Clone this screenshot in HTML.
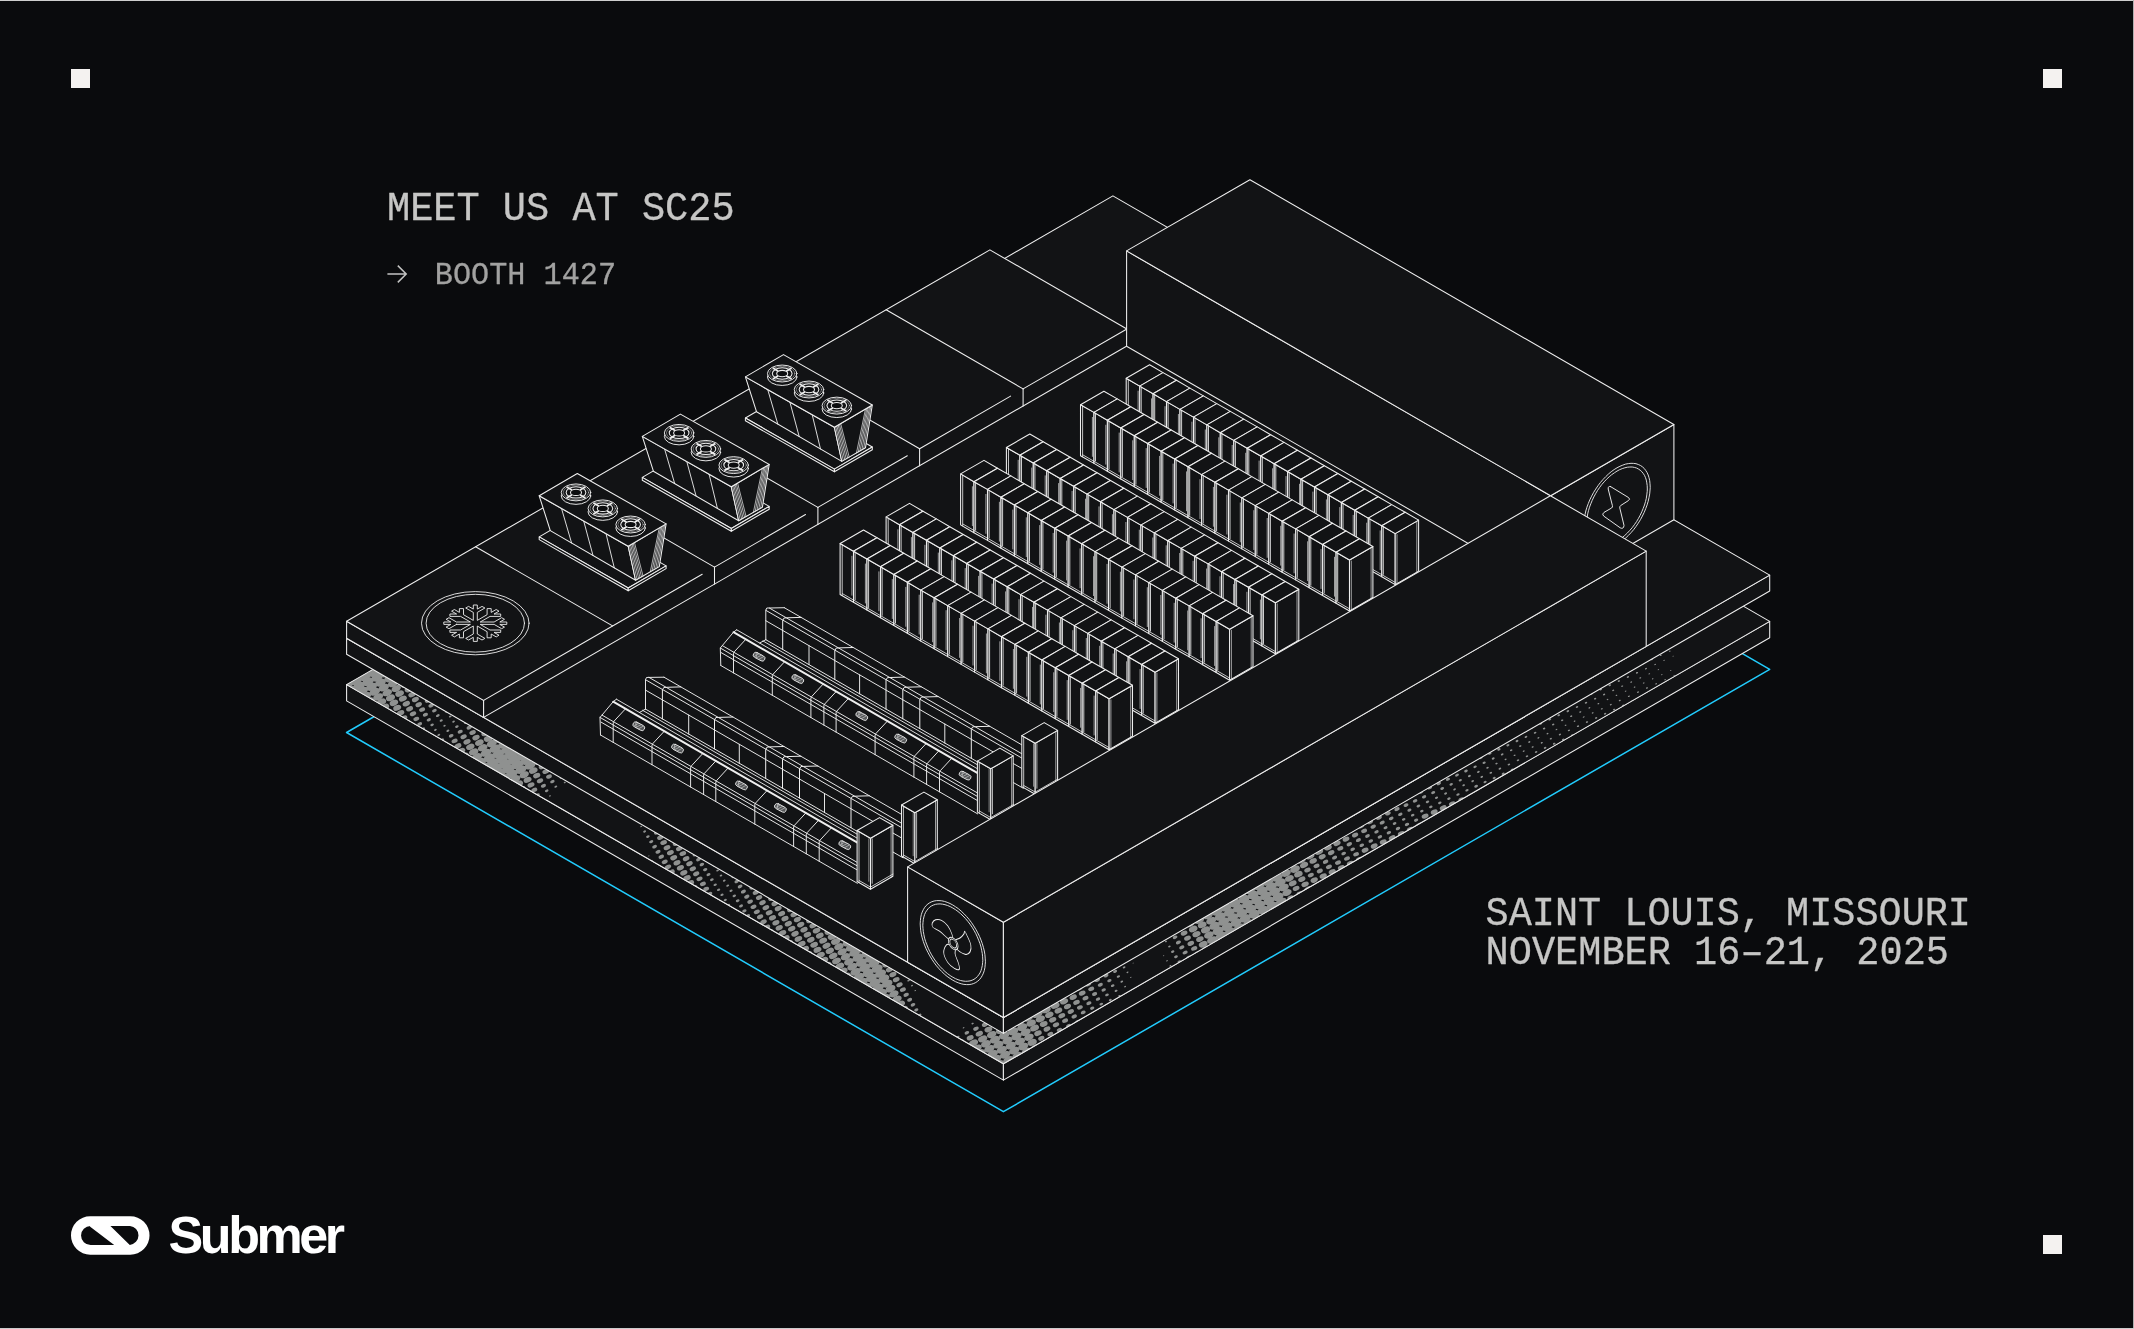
<!DOCTYPE html>
<html><head><meta charset="utf-8"><title>Submer at SC25</title>
<style>
html,body{margin:0;padding:0;background:#0a0b0d;}
body{width:2134px;height:1329px;overflow:hidden;position:relative;font-family:"Liberation Mono",monospace;}
.sq{position:absolute;width:19px;height:19px;background:#f4f2f0;}
svg{position:absolute;left:0;top:0;}
.edge{position:absolute;background:#cfcfcf;}
</style></head><body>
<div class="edge" style="left:0;top:0;width:2134px;height:1.4px;"></div>
<div class="edge" style="right:0;top:0;width:1px;height:1329px;background:#b0b0b0"></div>
<div class="edge" style="left:0;bottom:0;width:2134px;height:1px;background:#cdcdcd"></div>
<div class="sq" style="left:71px;top:69px"></div>
<div class="sq" style="left:2043px;top:69px"></div>
<div class="sq" style="left:2043px;top:1235px"></div>
<svg width="2134" height="1329" viewBox="0 0 2134 1329" stroke-linejoin="round" stroke-linecap="round">
<polygon points="346.6,732.5 1003.4,1111.7 1769.7,669.3 1112.9,290.1" fill="none" stroke="#22ccfd" stroke-width="1.5"/>
<polygon points="346.6,684.6 1003.4,1063.8 1003.4,1080.1 346.6,700.9" fill="#121315" stroke="#efefef" stroke-width="1.05"/>
<polygon points="1003.4,1063.8 1769.7,621.4 1769.7,637.7 1003.4,1080.1" fill="#121315" stroke="#efefef" stroke-width="1.05"/>
<polygon points="346.6,684.6 1112.9,242.2 1769.7,621.4 1003.4,1063.8" fill="#121315" stroke="none" stroke-width="1.05"/>
<clipPath id="cpl"><polygon points="346.6,684.6 1112.9,242.2 1769.7,621.4 1003.4,1063.8"/></clipPath>
<g clip-path="url(#cpl)" fill="#8f9190"><ellipse cx="348" cy="651.4" rx="6.52" ry="4.26" transform="rotate(-23 348 651.4)"/><ellipse cx="342.3" cy="660.6" rx="6.52" ry="4.26" transform="rotate(-23 342.3 660.6)"/><ellipse cx="351.4" cy="656.5" rx="6.52" ry="4.26" transform="rotate(-23 351.4 656.5)"/><ellipse cx="345.7" cy="665.6" rx="6.52" ry="4.26" transform="rotate(-23 345.7 665.6)"/><ellipse cx="354.7" cy="661.5" rx="6.52" ry="4.26" transform="rotate(-23 354.7 661.5)"/><ellipse cx="349" cy="670.7" rx="6.46" ry="4.23" transform="rotate(-23 349 670.7)"/><ellipse cx="358.1" cy="666.6" rx="6.41" ry="4.19" transform="rotate(-23 358.1 666.6)"/><ellipse cx="367.1" cy="662.4" rx="6.35" ry="4.15" transform="rotate(-23 367.1 662.4)"/><ellipse cx="343.3" cy="679.9" rx="6.39" ry="4.18" transform="rotate(-23 343.3 679.9)"/><ellipse cx="352.4" cy="675.8" rx="6.33" ry="4.14" transform="rotate(-23 352.4 675.8)"/><ellipse cx="361.4" cy="671.6" rx="6.28" ry="4.11" transform="rotate(-23 361.4 671.6)"/><ellipse cx="370.4" cy="667.4" rx="6.23" ry="4.07" transform="rotate(-23 370.4 667.4)"/><ellipse cx="346.6" cy="685" rx="6.26" ry="4.09" transform="rotate(-23 346.6 685)"/><ellipse cx="355.7" cy="680.8" rx="6.21" ry="4.06" transform="rotate(-23 355.7 680.8)"/><ellipse cx="364.8" cy="676.7" rx="6.15" ry="4.02" transform="rotate(-23 364.8 676.7)"/><ellipse cx="373.8" cy="672.5" rx="6.10" ry="3.99" transform="rotate(-23 373.8 672.5)"/><ellipse cx="350" cy="690" rx="6.13" ry="4.01" transform="rotate(-23 350 690)"/><ellipse cx="359.1" cy="685.9" rx="6.07" ry="3.97" transform="rotate(-23 359.1 685.9)"/><ellipse cx="368.1" cy="681.7" rx="5.97" ry="3.91" transform="rotate(-23 368.1 681.7)"/><ellipse cx="377.1" cy="677.5" rx="5.87" ry="3.84" transform="rotate(-23 377.1 677.5)"/><ellipse cx="386.2" cy="673.4" rx="5.77" ry="3.77" transform="rotate(-23 386.2 673.4)"/><ellipse cx="362.4" cy="690.9" rx="5.84" ry="3.82" transform="rotate(-23 362.4 690.9)"/><ellipse cx="371.5" cy="686.8" rx="5.74" ry="3.75" transform="rotate(-23 371.5 686.8)"/><ellipse cx="380.5" cy="682.6" rx="5.64" ry="3.69" transform="rotate(-23 380.5 682.6)"/><ellipse cx="389.6" cy="678.4" rx="5.54" ry="3.62" transform="rotate(-23 389.6 678.4)"/><ellipse cx="365.8" cy="696" rx="5.60" ry="3.66" transform="rotate(-23 365.8 696)"/><ellipse cx="374.8" cy="691.8" rx="5.50" ry="3.60" transform="rotate(-23 374.8 691.8)"/><ellipse cx="383.8" cy="687.6" rx="5.40" ry="3.53" transform="rotate(-23 383.8 687.6)"/><ellipse cx="392.9" cy="683.5" rx="5.29" ry="3.46" transform="rotate(-23 392.9 683.5)"/><ellipse cx="369.1" cy="701" rx="5.37" ry="3.51" transform="rotate(-23 369.1 701)"/><ellipse cx="378.2" cy="696.9" rx="5.23" ry="3.42" transform="rotate(-23 378.2 696.9)"/><ellipse cx="387.2" cy="692.7" rx="5.07" ry="3.32" transform="rotate(-23 387.2 692.7)"/><ellipse cx="396.2" cy="688.5" rx="4.91" ry="3.21" transform="rotate(-23 396.2 688.5)"/><ellipse cx="405.3" cy="684.4" rx="4.75" ry="3.11" transform="rotate(-23 405.3 684.4)"/><ellipse cx="381.5" cy="701.9" rx="4.86" ry="3.18" transform="rotate(-23 381.5 701.9)"/><ellipse cx="390.5" cy="697.8" rx="4.70" ry="3.07" transform="rotate(-23 390.5 697.8)"/><ellipse cx="399.6" cy="693.6" rx="4.54" ry="2.97" transform="rotate(-23 399.6 693.6)"/><ellipse cx="408.6" cy="689.5" rx="4.06" ry="2.66" transform="rotate(-23 408.6 689.5)"/><ellipse cx="384.9" cy="707" rx="4.48" ry="2.93" transform="rotate(-23 384.9 707)"/><ellipse cx="393.9" cy="702.8" rx="4.46" ry="2.92" transform="rotate(-23 393.9 702.8)"/><ellipse cx="402.9" cy="698.6" rx="4.12" ry="2.70" transform="rotate(-23 402.9 698.6)"/><ellipse cx="412" cy="694.5" rx="3.83" ry="2.50" transform="rotate(-23 412 694.5)"/><ellipse cx="388.2" cy="712" rx="4.43" ry="2.89" transform="rotate(-23 388.2 712)"/><ellipse cx="397.2" cy="707.8" rx="4.15" ry="2.72" transform="rotate(-23 397.2 707.8)"/><ellipse cx="406.3" cy="703.7" rx="3.85" ry="2.52" transform="rotate(-23 406.3 703.7)"/><ellipse cx="415.4" cy="699.5" rx="3.63" ry="2.37" transform="rotate(-23 415.4 699.5)"/><ellipse cx="424.4" cy="695.4" rx="3.44" ry="2.25" transform="rotate(-23 424.4 695.4)"/><ellipse cx="400.6" cy="712.9" rx="3.85" ry="2.52" transform="rotate(-23 400.6 712.9)"/><ellipse cx="409.6" cy="708.8" rx="3.62" ry="2.36" transform="rotate(-23 409.6 708.8)"/><ellipse cx="418.7" cy="704.6" rx="3.38" ry="2.21" transform="rotate(-23 418.7 704.6)"/><ellipse cx="427.8" cy="700.5" rx="3.15" ry="2.06" transform="rotate(-23 427.8 700.5)"/><ellipse cx="403.9" cy="717.9" rx="3.57" ry="2.33" transform="rotate(-23 403.9 717.9)"/><ellipse cx="413" cy="713.8" rx="3.34" ry="2.18" transform="rotate(-23 413 713.8)"/><ellipse cx="422.1" cy="709.6" rx="3.10" ry="2.02" transform="rotate(-23 422.1 709.6)"/><ellipse cx="431.1" cy="705.5" rx="2.85" ry="1.86" transform="rotate(-23 431.1 705.5)"/><ellipse cx="407.3" cy="723" rx="3.23" ry="2.11" transform="rotate(-23 407.3 723)"/><ellipse cx="416.3" cy="718.9" rx="3.00" ry="1.96" transform="rotate(-23 416.3 718.9)"/><ellipse cx="425.4" cy="714.7" rx="2.72" ry="1.78" transform="rotate(-23 425.4 714.7)"/><ellipse cx="434.4" cy="710.6" rx="2.43" ry="1.59" transform="rotate(-23 434.4 710.6)"/><ellipse cx="443.5" cy="706.4" rx="2.16" ry="1.42" transform="rotate(-23 443.5 706.4)"/><ellipse cx="419.7" cy="723.9" rx="2.53" ry="1.65" transform="rotate(-23 419.7 723.9)"/><ellipse cx="428.8" cy="719.8" rx="2.22" ry="1.45" transform="rotate(-23 428.8 719.8)"/><ellipse cx="437.8" cy="715.6" rx="1.99" ry="1.30" transform="rotate(-23 437.8 715.6)"/><ellipse cx="446.9" cy="711.5" rx="1.78" ry="1.16" transform="rotate(-23 446.9 711.5)"/><ellipse cx="423.1" cy="728.9" rx="2.07" ry="1.35" transform="rotate(-23 423.1 728.9)"/><ellipse cx="432.1" cy="724.8" rx="1.85" ry="1.21" transform="rotate(-23 432.1 724.8)"/><ellipse cx="441.2" cy="720.6" rx="1.63" ry="1.06" transform="rotate(-23 441.2 720.6)"/><ellipse cx="450.2" cy="716.5" rx="1.39" ry="0.91" transform="rotate(-23 450.2 716.5)"/><ellipse cx="426.4" cy="734" rx="1.66" ry="1.08" transform="rotate(-23 426.4 734)"/><ellipse cx="435.4" cy="729.9" rx="1.42" ry="0.93" transform="rotate(-23 435.4 729.9)"/><ellipse cx="444.5" cy="725.7" rx="1.28" ry="0.84" transform="rotate(-23 444.5 725.7)"/><ellipse cx="453.6" cy="721.6" rx="1.35" ry="0.89" transform="rotate(-23 453.6 721.6)"/><ellipse cx="462.6" cy="717.4" rx="1.43" ry="0.93" transform="rotate(-23 462.6 717.4)"/><ellipse cx="438.8" cy="734.9" rx="1.49" ry="0.98" transform="rotate(-23 438.8 734.9)"/><ellipse cx="447.9" cy="730.8" rx="1.55" ry="1.02" transform="rotate(-23 447.9 730.8)"/><ellipse cx="456.9" cy="726.6" rx="1.88" ry="1.23" transform="rotate(-23 456.9 726.6)"/><ellipse cx="466" cy="722.4" rx="2.18" ry="1.42" transform="rotate(-23 466 722.4)"/><ellipse cx="442.1" cy="740" rx="2.16" ry="1.41" transform="rotate(-23 442.1 740)"/><ellipse cx="451.2" cy="735.8" rx="2.46" ry="1.61" transform="rotate(-23 451.2 735.8)"/><ellipse cx="460.2" cy="731.7" rx="2.69" ry="1.76" transform="rotate(-23 460.2 731.7)"/><ellipse cx="469.3" cy="727.5" rx="2.88" ry="1.88" transform="rotate(-23 469.3 727.5)"/><ellipse cx="445.5" cy="745" rx="2.96" ry="1.93" transform="rotate(-23 445.5 745)"/><ellipse cx="454.6" cy="740.9" rx="3.17" ry="2.07" transform="rotate(-23 454.6 740.9)"/><ellipse cx="463.6" cy="736.7" rx="3.28" ry="2.15" transform="rotate(-23 463.6 736.7)"/><ellipse cx="472.6" cy="732.5" rx="3.37" ry="2.20" transform="rotate(-23 472.6 732.5)"/><ellipse cx="481.7" cy="728.4" rx="3.47" ry="2.27" transform="rotate(-23 481.7 728.4)"/><ellipse cx="457.9" cy="745.9" rx="3.68" ry="2.41" transform="rotate(-23 457.9 745.9)"/><ellipse cx="467" cy="741.8" rx="3.76" ry="2.46" transform="rotate(-23 467 741.8)"/><ellipse cx="476" cy="737.6" rx="3.82" ry="2.50" transform="rotate(-23 476 737.6)"/><ellipse cx="485.1" cy="733.4" rx="3.87" ry="2.53" transform="rotate(-23 485.1 733.4)"/><ellipse cx="461.2" cy="751" rx="4.26" ry="2.79" transform="rotate(-23 461.2 751)"/><ellipse cx="470.3" cy="746.8" rx="4.37" ry="2.86" transform="rotate(-23 470.3 746.8)"/><ellipse cx="479.4" cy="742.6" rx="4.50" ry="2.94" transform="rotate(-23 479.4 742.6)"/><ellipse cx="488.4" cy="738.5" rx="4.76" ry="3.11" transform="rotate(-23 488.4 738.5)"/><ellipse cx="464.6" cy="756" rx="4.59" ry="3.00" transform="rotate(-23 464.6 756)"/><ellipse cx="473.7" cy="751.9" rx="4.85" ry="3.17" transform="rotate(-23 473.7 751.9)"/><ellipse cx="482.7" cy="747.7" rx="5.09" ry="3.33" transform="rotate(-23 482.7 747.7)"/><ellipse cx="491.8" cy="743.5" rx="5.30" ry="3.47" transform="rotate(-23 491.8 743.5)"/><ellipse cx="500.8" cy="739.4" rx="5.51" ry="3.60" transform="rotate(-23 500.8 739.4)"/><ellipse cx="477" cy="756.9" rx="5.37" ry="3.51" transform="rotate(-23 477 756.9)"/><ellipse cx="486" cy="752.8" rx="5.59" ry="3.65" transform="rotate(-23 486 752.8)"/><ellipse cx="495.1" cy="748.6" rx="5.80" ry="3.79" transform="rotate(-23 495.1 748.6)"/><ellipse cx="504.1" cy="744.5" rx="5.99" ry="3.92" transform="rotate(-23 504.1 744.5)"/><ellipse cx="480.4" cy="762" rx="5.87" ry="3.84" transform="rotate(-23 480.4 762)"/><ellipse cx="489.4" cy="757.8" rx="6.02" ry="3.94" transform="rotate(-23 489.4 757.8)"/><ellipse cx="498.4" cy="753.6" rx="6.12" ry="4.00" transform="rotate(-23 498.4 753.6)"/><ellipse cx="507.5" cy="749.5" rx="6.22" ry="4.07" transform="rotate(-23 507.5 749.5)"/><ellipse cx="483.7" cy="767" rx="6.16" ry="4.02" transform="rotate(-23 483.7 767)"/><ellipse cx="492.8" cy="762.8" rx="6.25" ry="4.09" transform="rotate(-23 492.8 762.8)"/><ellipse cx="501.8" cy="758.7" rx="6.35" ry="4.15" transform="rotate(-23 501.8 758.7)"/><ellipse cx="510.9" cy="754.5" rx="6.45" ry="4.22" transform="rotate(-23 510.9 754.5)"/><ellipse cx="519.9" cy="750.4" rx="6.47" ry="4.23" transform="rotate(-23 519.9 750.4)"/><ellipse cx="496.1" cy="767.9" rx="6.47" ry="4.23" transform="rotate(-23 496.1 767.9)"/><ellipse cx="505.1" cy="763.8" rx="6.47" ry="4.23" transform="rotate(-23 505.1 763.8)"/><ellipse cx="514.2" cy="759.6" rx="6.47" ry="4.23" transform="rotate(-23 514.2 759.6)"/><ellipse cx="523.2" cy="755.5" rx="6.47" ry="4.23" transform="rotate(-23 523.2 755.5)"/><ellipse cx="499.5" cy="772.9" rx="6.47" ry="4.23" transform="rotate(-23 499.5 772.9)"/><ellipse cx="508.5" cy="768.8" rx="6.44" ry="4.21" transform="rotate(-23 508.5 768.8)"/><ellipse cx="517.5" cy="764.6" rx="6.27" ry="4.10" transform="rotate(-23 517.5 764.6)"/><ellipse cx="526.6" cy="760.5" rx="6.10" ry="3.99" transform="rotate(-23 526.6 760.5)"/><ellipse cx="502.8" cy="778" rx="6.21" ry="4.06" transform="rotate(-23 502.8 778)"/><ellipse cx="511.8" cy="773.9" rx="6.04" ry="3.95" transform="rotate(-23 511.8 773.9)"/><ellipse cx="520.9" cy="769.7" rx="5.87" ry="3.84" transform="rotate(-23 520.9 769.7)"/><ellipse cx="530" cy="765.6" rx="5.52" ry="3.61" transform="rotate(-23 530 765.6)"/><ellipse cx="539" cy="761.4" rx="5.08" ry="3.32" transform="rotate(-23 539 761.4)"/><ellipse cx="515.2" cy="778.9" rx="5.37" ry="3.51" transform="rotate(-23 515.2 778.9)"/><ellipse cx="524.2" cy="774.8" rx="4.94" ry="3.23" transform="rotate(-23 524.2 774.8)"/><ellipse cx="533.3" cy="770.6" rx="4.50" ry="2.94" transform="rotate(-23 533.3 770.6)"/><ellipse cx="542.4" cy="766.5" rx="3.84" ry="2.51" transform="rotate(-23 542.4 766.5)"/><ellipse cx="518.6" cy="783.9" rx="4.67" ry="3.06" transform="rotate(-23 518.6 783.9)"/><ellipse cx="527.6" cy="779.8" rx="4.14" ry="2.70" transform="rotate(-23 527.6 779.8)"/><ellipse cx="536.7" cy="775.6" rx="3.76" ry="2.46" transform="rotate(-23 536.7 775.6)"/><ellipse cx="545.7" cy="771.5" rx="3.46" ry="2.26" transform="rotate(-23 545.7 771.5)"/><ellipse cx="521.9" cy="789" rx="3.92" ry="2.57" transform="rotate(-23 521.9 789)"/><ellipse cx="531" cy="784.9" rx="3.64" ry="2.38" transform="rotate(-23 531 784.9)"/><ellipse cx="540" cy="780.7" rx="3.32" ry="2.17" transform="rotate(-23 540 780.7)"/><ellipse cx="549" cy="776.6" rx="2.98" ry="1.95" transform="rotate(-23 549 776.6)"/><ellipse cx="558.1" cy="772.4" rx="2.65" ry="1.73" transform="rotate(-23 558.1 772.4)"/><ellipse cx="534.3" cy="789.9" rx="3.10" ry="2.03" transform="rotate(-23 534.3 789.9)"/><ellipse cx="543.4" cy="785.8" rx="2.71" ry="1.77" transform="rotate(-23 543.4 785.8)"/><ellipse cx="552.4" cy="781.6" rx="2.31" ry="1.51" transform="rotate(-23 552.4 781.6)"/><ellipse cx="561.5" cy="777.4" rx="1.87" ry="1.23" transform="rotate(-23 561.5 777.4)"/><ellipse cx="537.6" cy="795" rx="2.34" ry="1.53" transform="rotate(-23 537.6 795)"/><ellipse cx="546.7" cy="790.8" rx="1.89" ry="1.24" transform="rotate(-23 546.7 790.8)"/><ellipse cx="555.8" cy="786.7" rx="1.52" ry="0.99" transform="rotate(-23 555.8 786.7)"/><ellipse cx="564.8" cy="782.5" rx="1.08" ry="0.71" transform="rotate(-23 564.8 782.5)"/><ellipse cx="541" cy="800" rx="1.48" ry="0.97" transform="rotate(-23 541 800)"/><ellipse cx="550" cy="795.9" rx="0.98" ry="0.64" transform="rotate(-23 550 795.9)"/><ellipse cx="637.9" cy="821.5" rx="0.78" ry="0.51" transform="rotate(-23 637.9 821.5)"/><ellipse cx="641.2" cy="826.5" rx="1.03" ry="0.67" transform="rotate(-23 641.2 826.5)"/><ellipse cx="644.6" cy="831.5" rx="1.50" ry="0.98" transform="rotate(-23 644.6 831.5)"/><ellipse cx="653.6" cy="827.4" rx="3.00" ry="1.96" transform="rotate(-23 653.6 827.4)"/><ellipse cx="647.9" cy="836.6" rx="1.87" ry="1.22" transform="rotate(-23 647.9 836.6)"/><ellipse cx="657" cy="832.4" rx="3.15" ry="2.06" transform="rotate(-23 657 832.4)"/><ellipse cx="651.2" cy="841.7" rx="2.19" ry="1.43" transform="rotate(-23 651.2 841.7)"/><ellipse cx="660.3" cy="837.5" rx="3.32" ry="2.17" transform="rotate(-23 660.3 837.5)"/><ellipse cx="654.6" cy="846.7" rx="2.48" ry="1.62" transform="rotate(-23 654.6 846.7)"/><ellipse cx="663.6" cy="842.5" rx="3.46" ry="2.26" transform="rotate(-23 663.6 842.5)"/><ellipse cx="672.7" cy="838.4" rx="3.49" ry="2.28" transform="rotate(-23 672.7 838.4)"/><ellipse cx="648.9" cy="855.9" rx="0.67" ry="0.44" transform="rotate(-23 648.9 855.9)"/><ellipse cx="658" cy="851.8" rx="2.70" ry="1.76" transform="rotate(-23 658 851.8)"/><ellipse cx="667" cy="847.6" rx="3.52" ry="2.30" transform="rotate(-23 667 847.6)"/><ellipse cx="676.1" cy="843.4" rx="3.50" ry="2.29" transform="rotate(-23 676.1 843.4)"/><ellipse cx="652.2" cy="861" rx="0.89" ry="0.58" transform="rotate(-23 652.2 861)"/><ellipse cx="661.3" cy="856.8" rx="2.91" ry="1.90" transform="rotate(-23 661.3 856.8)"/><ellipse cx="670.4" cy="852.6" rx="3.57" ry="2.33" transform="rotate(-23 670.4 852.6)"/><ellipse cx="679.4" cy="848.5" rx="3.52" ry="2.30" transform="rotate(-23 679.4 848.5)"/><ellipse cx="655.6" cy="866" rx="1.21" ry="0.79" transform="rotate(-23 655.6 866)"/><ellipse cx="664.7" cy="861.8" rx="3.11" ry="2.03" transform="rotate(-23 664.7 861.8)"/><ellipse cx="673.7" cy="857.7" rx="3.62" ry="2.37" transform="rotate(-23 673.7 857.7)"/><ellipse cx="682.8" cy="853.5" rx="3.47" ry="2.27" transform="rotate(-23 682.8 853.5)"/><ellipse cx="691.8" cy="849.4" rx="2.75" ry="1.80" transform="rotate(-23 691.8 849.4)"/><ellipse cx="659" cy="871.1" rx="1.68" ry="1.10" transform="rotate(-23 659 871.1)"/><ellipse cx="668" cy="866.9" rx="3.31" ry="2.16" transform="rotate(-23 668 866.9)"/><ellipse cx="677" cy="862.8" rx="3.67" ry="2.40" transform="rotate(-23 677 862.8)"/><ellipse cx="686.1" cy="858.6" rx="3.42" ry="2.24" transform="rotate(-23 686.1 858.6)"/><ellipse cx="695.1" cy="854.5" rx="2.61" ry="1.71" transform="rotate(-23 695.1 854.5)"/><ellipse cx="671.4" cy="872" rx="3.50" ry="2.29" transform="rotate(-23 671.4 872)"/><ellipse cx="680.4" cy="867.8" rx="3.72" ry="2.43" transform="rotate(-23 680.4 867.8)"/><ellipse cx="689.5" cy="863.6" rx="3.37" ry="2.20" transform="rotate(-23 689.5 863.6)"/><ellipse cx="698.5" cy="859.5" rx="2.50" ry="1.63" transform="rotate(-23 698.5 859.5)"/><ellipse cx="674.7" cy="877" rx="3.65" ry="2.39" transform="rotate(-23 674.7 877)"/><ellipse cx="683.8" cy="872.8" rx="3.77" ry="2.46" transform="rotate(-23 683.8 872.8)"/><ellipse cx="692.8" cy="868.7" rx="3.31" ry="2.16" transform="rotate(-23 692.8 868.7)"/><ellipse cx="701.9" cy="864.5" rx="2.38" ry="1.55" transform="rotate(-23 701.9 864.5)"/><ellipse cx="710.9" cy="860.4" rx="1.50" ry="0.98" transform="rotate(-23 710.9 860.4)"/><ellipse cx="678.1" cy="882" rx="3.75" ry="2.45" transform="rotate(-23 678.1 882)"/><ellipse cx="687.1" cy="877.9" rx="3.82" ry="2.50" transform="rotate(-23 687.1 877.9)"/><ellipse cx="696.2" cy="873.7" rx="3.24" ry="2.12" transform="rotate(-23 696.2 873.7)"/><ellipse cx="705.2" cy="869.6" rx="2.24" ry="1.46" transform="rotate(-23 705.2 869.6)"/><ellipse cx="714.2" cy="865.4" rx="1.44" ry="0.94" transform="rotate(-23 714.2 865.4)"/><ellipse cx="690.4" cy="882.9" rx="3.87" ry="2.53" transform="rotate(-23 690.4 882.9)"/><ellipse cx="699.5" cy="878.8" rx="3.17" ry="2.08" transform="rotate(-23 699.5 878.8)"/><ellipse cx="708.5" cy="874.6" rx="2.09" ry="1.36" transform="rotate(-23 708.5 874.6)"/><ellipse cx="717.6" cy="870.5" rx="1.40" ry="0.91" transform="rotate(-23 717.6 870.5)"/><ellipse cx="693.8" cy="888" rx="3.84" ry="2.51" transform="rotate(-23 693.8 888)"/><ellipse cx="702.9" cy="883.9" rx="3.10" ry="2.02" transform="rotate(-23 702.9 883.9)"/><ellipse cx="711.9" cy="879.7" rx="1.91" ry="1.25" transform="rotate(-23 711.9 879.7)"/><ellipse cx="721" cy="875.6" rx="1.35" ry="0.88" transform="rotate(-23 721 875.6)"/><ellipse cx="730" cy="871.4" rx="2.03" ry="1.33" transform="rotate(-23 730 871.4)"/><ellipse cx="697.1" cy="893" rx="3.75" ry="2.45" transform="rotate(-23 697.1 893)"/><ellipse cx="706.2" cy="888.9" rx="2.99" ry="1.95" transform="rotate(-23 706.2 888.9)"/><ellipse cx="715.2" cy="884.8" rx="1.75" ry="1.14" transform="rotate(-23 715.2 884.8)"/><ellipse cx="724.3" cy="880.6" rx="1.38" ry="0.90" transform="rotate(-23 724.3 880.6)"/><ellipse cx="733.4" cy="876.5" rx="2.18" ry="1.42" transform="rotate(-23 733.4 876.5)"/><ellipse cx="709.6" cy="893.9" rx="2.87" ry="1.88" transform="rotate(-23 709.6 893.9)"/><ellipse cx="718.6" cy="889.8" rx="1.71" ry="1.12" transform="rotate(-23 718.6 889.8)"/><ellipse cx="727.7" cy="885.6" rx="1.54" ry="1.01" transform="rotate(-23 727.7 885.6)"/><ellipse cx="736.7" cy="881.5" rx="2.33" ry="1.53" transform="rotate(-23 736.7 881.5)"/><ellipse cx="712.9" cy="899" rx="2.71" ry="1.78" transform="rotate(-23 712.9 899)"/><ellipse cx="722" cy="894.8" rx="1.67" ry="1.09" transform="rotate(-23 722 894.8)"/><ellipse cx="731" cy="890.7" rx="1.69" ry="1.11" transform="rotate(-23 731 890.7)"/><ellipse cx="740.1" cy="886.5" rx="2.49" ry="1.63" transform="rotate(-23 740.1 886.5)"/><ellipse cx="749.1" cy="882.4" rx="3.07" ry="2.01" transform="rotate(-23 749.1 882.4)"/><ellipse cx="716.2" cy="904" rx="2.55" ry="1.67" transform="rotate(-23 716.2 904)"/><ellipse cx="725.3" cy="899.9" rx="1.63" ry="1.07" transform="rotate(-23 725.3 899.9)"/><ellipse cx="734.3" cy="895.8" rx="1.84" ry="1.20" transform="rotate(-23 734.3 895.8)"/><ellipse cx="743.4" cy="891.6" rx="2.64" ry="1.73" transform="rotate(-23 743.4 891.6)"/><ellipse cx="752.4" cy="887.4" rx="3.13" ry="2.04" transform="rotate(-23 752.4 887.4)"/><ellipse cx="728.6" cy="905" rx="1.58" ry="1.03" transform="rotate(-23 728.6 905)"/><ellipse cx="737.7" cy="900.8" rx="1.97" ry="1.29" transform="rotate(-23 737.7 900.8)"/><ellipse cx="746.8" cy="896.7" rx="2.79" ry="1.83" transform="rotate(-23 746.8 896.7)"/><ellipse cx="755.8" cy="892.5" rx="3.22" ry="2.10" transform="rotate(-23 755.8 892.5)"/><ellipse cx="732" cy="910" rx="1.52" ry="0.99" transform="rotate(-23 732 910)"/><ellipse cx="741" cy="905.9" rx="2.11" ry="1.38" transform="rotate(-23 741 905.9)"/><ellipse cx="750.1" cy="901.7" rx="2.94" ry="1.92" transform="rotate(-23 750.1 901.7)"/><ellipse cx="759.1" cy="897.5" rx="3.31" ry="2.16" transform="rotate(-23 759.1 897.5)"/><ellipse cx="768.2" cy="893.4" rx="3.49" ry="2.28" transform="rotate(-23 768.2 893.4)"/><ellipse cx="735.4" cy="915" rx="1.45" ry="0.95" transform="rotate(-23 735.4 915)"/><ellipse cx="744.4" cy="910.9" rx="2.25" ry="1.47" transform="rotate(-23 744.4 910.9)"/><ellipse cx="753.5" cy="906.8" rx="3.07" ry="2.01" transform="rotate(-23 753.5 906.8)"/><ellipse cx="762.5" cy="902.6" rx="3.40" ry="2.23" transform="rotate(-23 762.5 902.6)"/><ellipse cx="771.6" cy="898.4" rx="3.51" ry="2.29" transform="rotate(-23 771.6 898.4)"/><ellipse cx="747.8" cy="915.9" rx="2.43" ry="1.59" transform="rotate(-23 747.8 915.9)"/><ellipse cx="756.8" cy="911.8" rx="3.17" ry="2.07" transform="rotate(-23 756.8 911.8)"/><ellipse cx="765.9" cy="907.6" rx="3.50" ry="2.29" transform="rotate(-23 765.9 907.6)"/><ellipse cx="774.9" cy="903.5" rx="3.56" ry="2.33" transform="rotate(-23 774.9 903.5)"/><ellipse cx="751.1" cy="921" rx="2.58" ry="1.69" transform="rotate(-23 751.1 921)"/><ellipse cx="760.1" cy="916.8" rx="3.27" ry="2.14" transform="rotate(-23 760.1 916.8)"/><ellipse cx="769.2" cy="912.7" rx="3.58" ry="2.34" transform="rotate(-23 769.2 912.7)"/><ellipse cx="778.2" cy="908.5" rx="3.62" ry="2.37" transform="rotate(-23 778.2 908.5)"/><ellipse cx="787.3" cy="904.4" rx="3.65" ry="2.39" transform="rotate(-23 787.3 904.4)"/><ellipse cx="754.5" cy="926.1" rx="2.72" ry="1.78" transform="rotate(-23 754.5 926.1)"/><ellipse cx="763.5" cy="921.9" rx="3.37" ry="2.20" transform="rotate(-23 763.5 921.9)"/><ellipse cx="772.5" cy="917.8" rx="3.64" ry="2.38" transform="rotate(-23 772.5 917.8)"/><ellipse cx="781.6" cy="913.6" rx="3.68" ry="2.41" transform="rotate(-23 781.6 913.6)"/><ellipse cx="790.6" cy="909.5" rx="3.65" ry="2.39" transform="rotate(-23 790.6 909.5)"/><ellipse cx="766.9" cy="927" rx="3.46" ry="2.26" transform="rotate(-23 766.9 927)"/><ellipse cx="775.9" cy="922.8" rx="3.70" ry="2.42" transform="rotate(-23 775.9 922.8)"/><ellipse cx="785" cy="918.6" rx="3.74" ry="2.45" transform="rotate(-23 785 918.6)"/><ellipse cx="794" cy="914.5" rx="3.69" ry="2.42" transform="rotate(-23 794 914.5)"/><ellipse cx="770.2" cy="932" rx="3.53" ry="2.31" transform="rotate(-23 770.2 932)"/><ellipse cx="779.2" cy="927.8" rx="3.76" ry="2.46" transform="rotate(-23 779.2 927.8)"/><ellipse cx="788.3" cy="923.7" rx="3.80" ry="2.49" transform="rotate(-23 788.3 923.7)"/><ellipse cx="797.4" cy="919.5" rx="3.74" ry="2.45" transform="rotate(-23 797.4 919.5)"/><ellipse cx="806.4" cy="915.4" rx="3.76" ry="2.46" transform="rotate(-23 806.4 915.4)"/><ellipse cx="773.6" cy="937" rx="3.60" ry="2.35" transform="rotate(-23 773.6 937)"/><ellipse cx="782.6" cy="932.9" rx="3.82" ry="2.50" transform="rotate(-23 782.6 932.9)"/><ellipse cx="791.7" cy="928.7" rx="3.86" ry="2.52" transform="rotate(-23 791.7 928.7)"/><ellipse cx="800.7" cy="924.6" rx="3.79" ry="2.48" transform="rotate(-23 800.7 924.6)"/><ellipse cx="809.8" cy="920.4" rx="3.79" ry="2.48" transform="rotate(-23 809.8 920.4)"/><ellipse cx="785.9" cy="938" rx="3.88" ry="2.53" transform="rotate(-23 785.9 938)"/><ellipse cx="795" cy="933.8" rx="3.90" ry="2.55" transform="rotate(-23 795 933.8)"/><ellipse cx="804" cy="929.7" rx="3.84" ry="2.51" transform="rotate(-23 804 929.7)"/><ellipse cx="813.1" cy="925.5" rx="3.85" ry="2.52" transform="rotate(-23 813.1 925.5)"/><ellipse cx="789.3" cy="943" rx="3.91" ry="2.55" transform="rotate(-23 789.3 943)"/><ellipse cx="798.4" cy="938.9" rx="3.97" ry="2.59" transform="rotate(-23 798.4 938.9)"/><ellipse cx="807.4" cy="934.7" rx="3.88" ry="2.54" transform="rotate(-23 807.4 934.7)"/><ellipse cx="816.5" cy="930.6" rx="3.93" ry="2.57" transform="rotate(-23 816.5 930.6)"/><ellipse cx="825.5" cy="926.4" rx="4.47" ry="2.92" transform="rotate(-23 825.5 926.4)"/><ellipse cx="792.6" cy="948" rx="3.94" ry="2.58" transform="rotate(-23 792.6 948)"/><ellipse cx="801.7" cy="943.9" rx="4.03" ry="2.64" transform="rotate(-23 801.7 943.9)"/><ellipse cx="810.8" cy="939.8" rx="3.94" ry="2.58" transform="rotate(-23 810.8 939.8)"/><ellipse cx="819.8" cy="935.6" rx="4.02" ry="2.63" transform="rotate(-23 819.8 935.6)"/><ellipse cx="828.9" cy="931.5" rx="4.57" ry="2.99" transform="rotate(-23 828.9 931.5)"/><ellipse cx="805.1" cy="948.9" rx="4.10" ry="2.68" transform="rotate(-23 805.1 948.9)"/><ellipse cx="814.1" cy="944.8" rx="4.02" ry="2.63" transform="rotate(-23 814.1 944.8)"/><ellipse cx="823.2" cy="940.6" rx="4.12" ry="2.70" transform="rotate(-23 823.2 940.6)"/><ellipse cx="832.2" cy="936.5" rx="4.66" ry="3.05" transform="rotate(-23 832.2 936.5)"/><ellipse cx="808.4" cy="954" rx="4.11" ry="2.69" transform="rotate(-23 808.4 954)"/><ellipse cx="817.5" cy="949.8" rx="4.12" ry="2.69" transform="rotate(-23 817.5 949.8)"/><ellipse cx="826.5" cy="945.7" rx="4.23" ry="2.76" transform="rotate(-23 826.5 945.7)"/><ellipse cx="835.6" cy="941.5" rx="4.76" ry="3.11" transform="rotate(-23 835.6 941.5)"/><ellipse cx="844.6" cy="937.4" rx="5.50" ry="3.60" transform="rotate(-23 844.6 937.4)"/><ellipse cx="811.8" cy="959.1" rx="4.12" ry="2.70" transform="rotate(-23 811.8 959.1)"/><ellipse cx="820.8" cy="954.9" rx="4.22" ry="2.76" transform="rotate(-23 820.8 954.9)"/><ellipse cx="829.8" cy="950.8" rx="4.33" ry="2.83" transform="rotate(-23 829.8 950.8)"/><ellipse cx="838.9" cy="946.6" rx="4.86" ry="3.18" transform="rotate(-23 838.9 946.6)"/><ellipse cx="848" cy="942.5" rx="5.62" ry="3.67" transform="rotate(-23 848 942.5)"/><ellipse cx="824.1" cy="960" rx="4.32" ry="2.82" transform="rotate(-23 824.1 960)"/><ellipse cx="833.2" cy="955.8" rx="4.43" ry="2.90" transform="rotate(-23 833.2 955.8)"/><ellipse cx="842.2" cy="951.7" rx="4.96" ry="3.24" transform="rotate(-23 842.2 951.7)"/><ellipse cx="851.3" cy="947.5" rx="5.73" ry="3.75" transform="rotate(-23 851.3 947.5)"/><ellipse cx="827.5" cy="965" rx="4.37" ry="2.86" transform="rotate(-23 827.5 965)"/><ellipse cx="836.5" cy="960.9" rx="4.57" ry="2.99" transform="rotate(-23 836.5 960.9)"/><ellipse cx="845.6" cy="956.7" rx="5.07" ry="3.31" transform="rotate(-23 845.6 956.7)"/><ellipse cx="854.7" cy="952.5" rx="5.81" ry="3.80" transform="rotate(-23 854.7 952.5)"/><ellipse cx="863.7" cy="948.4" rx="5.81" ry="3.80" transform="rotate(-23 863.7 948.4)"/><ellipse cx="830.9" cy="970" rx="4.42" ry="2.89" transform="rotate(-23 830.9 970)"/><ellipse cx="839.9" cy="965.9" rx="4.48" ry="2.93" transform="rotate(-23 839.9 965.9)"/><ellipse cx="849" cy="961.8" rx="5.18" ry="3.39" transform="rotate(-23 849 961.8)"/><ellipse cx="858" cy="957.6" rx="5.81" ry="3.80" transform="rotate(-23 858 957.6)"/><ellipse cx="867.1" cy="953.4" rx="5.81" ry="3.80" transform="rotate(-23 867.1 953.4)"/><ellipse cx="843.2" cy="970.9" rx="4.58" ry="2.99" transform="rotate(-23 843.2 970.9)"/><ellipse cx="852.3" cy="966.8" rx="5.29" ry="3.46" transform="rotate(-23 852.3 966.8)"/><ellipse cx="861.4" cy="962.6" rx="5.81" ry="3.80" transform="rotate(-23 861.4 962.6)"/><ellipse cx="870.4" cy="958.5" rx="5.81" ry="3.80" transform="rotate(-23 870.4 958.5)"/><ellipse cx="846.6" cy="976" rx="4.68" ry="3.06" transform="rotate(-23 846.6 976)"/><ellipse cx="855.6" cy="971.9" rx="5.41" ry="3.53" transform="rotate(-23 855.6 971.9)"/><ellipse cx="864.7" cy="967.7" rx="5.81" ry="3.80" transform="rotate(-23 864.7 967.7)"/><ellipse cx="873.8" cy="963.6" rx="5.81" ry="3.80" transform="rotate(-23 873.8 963.6)"/><ellipse cx="882.8" cy="959.4" rx="4.67" ry="3.05" transform="rotate(-23 882.8 959.4)"/><ellipse cx="850" cy="981.1" rx="4.78" ry="3.12" transform="rotate(-23 850 981.1)"/><ellipse cx="859" cy="976.9" rx="5.52" ry="3.61" transform="rotate(-23 859 976.9)"/><ellipse cx="868.1" cy="972.8" rx="5.81" ry="3.80" transform="rotate(-23 868.1 972.8)"/><ellipse cx="877.1" cy="968.6" rx="5.81" ry="3.80" transform="rotate(-23 877.1 968.6)"/><ellipse cx="886.2" cy="964.5" rx="4.04" ry="2.64" transform="rotate(-23 886.2 964.5)"/><ellipse cx="862.4" cy="982" rx="5.63" ry="3.68" transform="rotate(-23 862.4 982)"/><ellipse cx="871.4" cy="977.8" rx="5.81" ry="3.80" transform="rotate(-23 871.4 977.8)"/><ellipse cx="880.5" cy="973.6" rx="5.81" ry="3.80" transform="rotate(-23 880.5 973.6)"/><ellipse cx="889.5" cy="969.5" rx="3.83" ry="2.51" transform="rotate(-23 889.5 969.5)"/><ellipse cx="865.7" cy="987" rx="5.75" ry="3.76" transform="rotate(-23 865.7 987)"/><ellipse cx="874.8" cy="982.8" rx="5.81" ry="3.80" transform="rotate(-23 874.8 982.8)"/><ellipse cx="883.8" cy="978.7" rx="5.81" ry="3.80" transform="rotate(-23 883.8 978.7)"/><ellipse cx="892.9" cy="974.5" rx="3.67" ry="2.40" transform="rotate(-23 892.9 974.5)"/><ellipse cx="901.9" cy="970.4" rx="2.02" ry="1.32" transform="rotate(-23 901.9 970.4)"/><ellipse cx="869.1" cy="992" rx="5.81" ry="3.80" transform="rotate(-23 869.1 992)"/><ellipse cx="878.1" cy="987.9" rx="5.81" ry="3.80" transform="rotate(-23 878.1 987.9)"/><ellipse cx="887.2" cy="983.7" rx="5.58" ry="3.65" transform="rotate(-23 887.2 983.7)"/><ellipse cx="896.2" cy="979.6" rx="3.50" ry="2.29" transform="rotate(-23 896.2 979.6)"/><ellipse cx="905.2" cy="975.4" rx="1.73" ry="1.13" transform="rotate(-23 905.2 975.4)"/><ellipse cx="881.5" cy="993" rx="5.81" ry="3.80" transform="rotate(-23 881.5 993)"/><ellipse cx="890.5" cy="988.8" rx="5.26" ry="3.44" transform="rotate(-23 890.5 988.8)"/><ellipse cx="899.5" cy="984.7" rx="3.31" ry="2.16" transform="rotate(-23 899.5 984.7)"/><ellipse cx="908.6" cy="980.5" rx="1.41" ry="0.92" transform="rotate(-23 908.6 980.5)"/><ellipse cx="884.8" cy="998" rx="5.81" ry="3.80" transform="rotate(-23 884.8 998)"/><ellipse cx="893.9" cy="993.9" rx="4.94" ry="3.23" transform="rotate(-23 893.9 993.9)"/><ellipse cx="902.9" cy="989.7" rx="3.09" ry="2.02" transform="rotate(-23 902.9 989.7)"/><ellipse cx="912" cy="985.6" rx="1.08" ry="0.71" transform="rotate(-23 912 985.6)"/><ellipse cx="888.2" cy="1003" rx="5.81" ry="3.80" transform="rotate(-23 888.2 1003)"/><ellipse cx="897.2" cy="998.9" rx="4.63" ry="3.03" transform="rotate(-23 897.2 998.9)"/><ellipse cx="906.2" cy="994.8" rx="2.85" ry="1.86" transform="rotate(-23 906.2 994.8)"/><ellipse cx="915.3" cy="990.6" rx="0.80" ry="0.52" transform="rotate(-23 915.3 990.6)"/><ellipse cx="1648.4" cy="654.4" rx="1.22" ry="0.80" transform="rotate(-23 1648.4 654.4)"/><ellipse cx="1657.4" cy="650.3" rx="1.07" ry="0.70" transform="rotate(-23 1657.4 650.3)"/><ellipse cx="1666.5" cy="646.1" rx="0.90" ry="0.59" transform="rotate(-23 1666.5 646.1)"/><ellipse cx="1675.5" cy="642" rx="0.69" ry="0.45" transform="rotate(-23 1675.5 642)"/><ellipse cx="900.6" cy="1003.9" rx="4.61" ry="3.02" transform="rotate(-23 900.6 1003.9)"/><ellipse cx="909.6" cy="999.8" rx="2.64" ry="1.72" transform="rotate(-23 909.6 999.8)"/><ellipse cx="1597.4" cy="684.4" rx="1.41" ry="0.92" transform="rotate(-23 1597.4 684.4)"/><ellipse cx="1606.5" cy="680.2" rx="1.39" ry="0.91" transform="rotate(-23 1606.5 680.2)"/><ellipse cx="1615.5" cy="676.1" rx="1.37" ry="0.89" transform="rotate(-23 1615.5 676.1)"/><ellipse cx="1624.6" cy="671.9" rx="1.34" ry="0.88" transform="rotate(-23 1624.6 671.9)"/><ellipse cx="1633.6" cy="667.8" rx="1.32" ry="0.86" transform="rotate(-23 1633.6 667.8)"/><ellipse cx="1642.7" cy="663.6" rx="1.30" ry="0.85" transform="rotate(-23 1642.7 663.6)"/><ellipse cx="1651.7" cy="659.5" rx="1.15" ry="0.75" transform="rotate(-23 1651.7 659.5)"/><ellipse cx="1660.8" cy="655.3" rx="0.98" ry="0.64" transform="rotate(-23 1660.8 655.3)"/><ellipse cx="1669.8" cy="651.2" rx="0.79" ry="0.51" transform="rotate(-23 1669.8 651.2)"/><ellipse cx="903.9" cy="1009" rx="4.29" ry="2.81" transform="rotate(-23 903.9 1009)"/><ellipse cx="913" cy="1004.8" rx="2.42" ry="1.58" transform="rotate(-23 913 1004.8)"/><ellipse cx="1537.4" cy="718.5" rx="1.55" ry="1.02" transform="rotate(-23 1537.4 718.5)"/><ellipse cx="1546.5" cy="714.3" rx="1.53" ry="1.00" transform="rotate(-23 1546.5 714.3)"/><ellipse cx="1555.5" cy="710.2" rx="1.51" ry="0.99" transform="rotate(-23 1555.5 710.2)"/><ellipse cx="1564.6" cy="706" rx="1.49" ry="0.97" transform="rotate(-23 1564.6 706)"/><ellipse cx="1573.6" cy="701.9" rx="1.47" ry="0.96" transform="rotate(-23 1573.6 701.9)"/><ellipse cx="1582.7" cy="697.7" rx="1.45" ry="0.95" transform="rotate(-23 1582.7 697.7)"/><ellipse cx="1591.7" cy="693.6" rx="1.42" ry="0.93" transform="rotate(-23 1591.7 693.6)"/><ellipse cx="1600.8" cy="689.4" rx="1.37" ry="0.89" transform="rotate(-23 1600.8 689.4)"/><ellipse cx="1609.8" cy="685.3" rx="1.32" ry="0.86" transform="rotate(-23 1609.8 685.3)"/><ellipse cx="1618.9" cy="681.1" rx="1.27" ry="0.83" transform="rotate(-23 1618.9 681.1)"/><ellipse cx="1627.9" cy="677" rx="1.22" ry="0.80" transform="rotate(-23 1627.9 677)"/><ellipse cx="1637" cy="672.8" rx="1.17" ry="0.77" transform="rotate(-23 1637 672.8)"/><ellipse cx="1646" cy="668.7" rx="1.09" ry="0.72" transform="rotate(-23 1646 668.7)"/><ellipse cx="1655.1" cy="664.5" rx="0.95" ry="0.62" transform="rotate(-23 1655.1 664.5)"/><ellipse cx="1664.1" cy="660.4" rx="0.79" ry="0.51" transform="rotate(-23 1664.1 660.4)"/><ellipse cx="1673.2" cy="656.2" rx="0.61" ry="0.40" transform="rotate(-23 1673.2 656.2)"/><ellipse cx="907.2" cy="1014.1" rx="3.98" ry="2.60" transform="rotate(-23 907.2 1014.1)"/><ellipse cx="916.3" cy="1009.9" rx="2.17" ry="1.42" transform="rotate(-23 916.3 1009.9)"/><ellipse cx="1486.5" cy="748.5" rx="1.89" ry="1.23" transform="rotate(-23 1486.5 748.5)"/><ellipse cx="1495.5" cy="744.3" rx="1.82" ry="1.19" transform="rotate(-23 1495.5 744.3)"/><ellipse cx="1504.6" cy="740.2" rx="1.75" ry="1.14" transform="rotate(-23 1504.6 740.2)"/><ellipse cx="1513.6" cy="736" rx="1.67" ry="1.09" transform="rotate(-23 1513.6 736)"/><ellipse cx="1522.7" cy="731.9" rx="1.59" ry="1.04" transform="rotate(-23 1522.7 731.9)"/><ellipse cx="1531.7" cy="727.7" rx="1.57" ry="1.02" transform="rotate(-23 1531.7 727.7)"/><ellipse cx="1540.8" cy="723.6" rx="1.52" ry="0.99" transform="rotate(-23 1540.8 723.6)"/><ellipse cx="1549.8" cy="719.4" rx="1.47" ry="0.96" transform="rotate(-23 1549.8 719.4)"/><ellipse cx="1558.8" cy="715.2" rx="1.42" ry="0.93" transform="rotate(-23 1558.8 715.2)"/><ellipse cx="1567.9" cy="711.1" rx="1.37" ry="0.90" transform="rotate(-23 1567.9 711.1)"/><ellipse cx="1577" cy="707" rx="1.32" ry="0.86" transform="rotate(-23 1577 707)"/><ellipse cx="1586" cy="702.8" rx="1.27" ry="0.83" transform="rotate(-23 1586 702.8)"/><ellipse cx="1595.1" cy="698.7" rx="1.22" ry="0.80" transform="rotate(-23 1595.1 698.7)"/><ellipse cx="1604.1" cy="694.5" rx="1.17" ry="0.77" transform="rotate(-23 1604.1 694.5)"/><ellipse cx="1613.2" cy="690.4" rx="1.12" ry="0.73" transform="rotate(-23 1613.2 690.4)"/><ellipse cx="1622.2" cy="686.2" rx="1.07" ry="0.70" transform="rotate(-23 1622.2 686.2)"/><ellipse cx="1631.2" cy="682.1" rx="1.02" ry="0.67" transform="rotate(-23 1631.2 682.1)"/><ellipse cx="1640.3" cy="677.9" rx="0.97" ry="0.63" transform="rotate(-23 1640.3 677.9)"/><ellipse cx="1649.3" cy="673.8" rx="0.86" ry="0.56" transform="rotate(-23 1649.3 673.8)"/><ellipse cx="1658.4" cy="669.6" rx="0.73" ry="0.48" transform="rotate(-23 1658.4 669.6)"/><ellipse cx="919.7" cy="1015" rx="1.87" ry="1.22" transform="rotate(-23 919.7 1015)"/><ellipse cx="1426.5" cy="782.5" rx="2.55" ry="1.67" transform="rotate(-23 1426.5 782.5)"/><ellipse cx="1435.5" cy="778.4" rx="2.45" ry="1.60" transform="rotate(-23 1435.5 778.4)"/><ellipse cx="1444.6" cy="774.2" rx="2.35" ry="1.54" transform="rotate(-23 1444.6 774.2)"/><ellipse cx="1453.6" cy="770.1" rx="2.24" ry="1.46" transform="rotate(-23 1453.6 770.1)"/><ellipse cx="1462.7" cy="766" rx="2.14" ry="1.40" transform="rotate(-23 1462.7 766)"/><ellipse cx="1471.7" cy="761.8" rx="2.03" ry="1.33" transform="rotate(-23 1471.7 761.8)"/><ellipse cx="1480.8" cy="757.7" rx="1.92" ry="1.25" transform="rotate(-23 1480.8 757.7)"/><ellipse cx="1489.8" cy="753.5" rx="1.81" ry="1.19" transform="rotate(-23 1489.8 753.5)"/><ellipse cx="1498.9" cy="749.4" rx="1.71" ry="1.12" transform="rotate(-23 1498.9 749.4)"/><ellipse cx="1507.9" cy="745.2" rx="1.61" ry="1.05" transform="rotate(-23 1507.9 745.2)"/><ellipse cx="1517" cy="741" rx="1.50" ry="0.98" transform="rotate(-23 1517 741)"/><ellipse cx="1526" cy="736.9" rx="1.41" ry="0.92" transform="rotate(-23 1526 736.9)"/><ellipse cx="1535.1" cy="732.8" rx="1.36" ry="0.89" transform="rotate(-23 1535.1 732.8)"/><ellipse cx="1544.1" cy="728.6" rx="1.31" ry="0.85" transform="rotate(-23 1544.1 728.6)"/><ellipse cx="1553.2" cy="724.5" rx="1.26" ry="0.82" transform="rotate(-23 1553.2 724.5)"/><ellipse cx="1562.2" cy="720.3" rx="1.20" ry="0.79" transform="rotate(-23 1562.2 720.3)"/><ellipse cx="1571.2" cy="716.2" rx="1.15" ry="0.75" transform="rotate(-23 1571.2 716.2)"/><ellipse cx="1580.3" cy="712" rx="1.10" ry="0.72" transform="rotate(-23 1580.3 712)"/><ellipse cx="1589.4" cy="707.9" rx="1.04" ry="0.68" transform="rotate(-23 1589.4 707.9)"/><ellipse cx="1598.4" cy="703.7" rx="0.99" ry="0.65" transform="rotate(-23 1598.4 703.7)"/><ellipse cx="1607.5" cy="699.5" rx="0.94" ry="0.61" transform="rotate(-23 1607.5 699.5)"/><ellipse cx="1616.5" cy="695.4" rx="0.88" ry="0.58" transform="rotate(-23 1616.5 695.4)"/><ellipse cx="1625.6" cy="691.2" rx="0.87" ry="0.57" transform="rotate(-23 1625.6 691.2)"/><ellipse cx="1634.6" cy="687.1" rx="0.89" ry="0.58" transform="rotate(-23 1634.6 687.1)"/><ellipse cx="1643.7" cy="683" rx="0.91" ry="0.59" transform="rotate(-23 1643.7 683)"/><ellipse cx="1652.7" cy="678.8" rx="0.84" ry="0.55" transform="rotate(-23 1652.7 678.8)"/><ellipse cx="1661.8" cy="674.6" rx="0.75" ry="0.49" transform="rotate(-23 1661.8 674.6)"/><ellipse cx="1670.8" cy="670.5" rx="0.63" ry="0.41" transform="rotate(-23 1670.8 670.5)"/><ellipse cx="923" cy="1020" rx="1.48" ry="0.97" transform="rotate(-23 923 1020)"/><ellipse cx="1375.5" cy="812.5" rx="3.28" ry="2.14" transform="rotate(-23 1375.5 812.5)"/><ellipse cx="1384.6" cy="808.3" rx="3.13" ry="2.05" transform="rotate(-23 1384.6 808.3)"/><ellipse cx="1393.6" cy="804.2" rx="2.99" ry="1.96" transform="rotate(-23 1393.6 804.2)"/><ellipse cx="1402.7" cy="800" rx="2.88" ry="1.88" transform="rotate(-23 1402.7 800)"/><ellipse cx="1411.7" cy="795.9" rx="2.75" ry="1.80" transform="rotate(-23 1411.7 795.9)"/><ellipse cx="1420.8" cy="791.8" rx="2.63" ry="1.72" transform="rotate(-23 1420.8 791.8)"/><ellipse cx="1429.8" cy="787.6" rx="2.48" ry="1.62" transform="rotate(-23 1429.8 787.6)"/><ellipse cx="1438.8" cy="783.5" rx="2.33" ry="1.52" transform="rotate(-23 1438.8 783.5)"/><ellipse cx="1447.9" cy="779.3" rx="2.18" ry="1.43" transform="rotate(-23 1447.9 779.3)"/><ellipse cx="1457" cy="775.1" rx="2.04" ry="1.33" transform="rotate(-23 1457 775.1)"/><ellipse cx="1466" cy="771" rx="1.90" ry="1.24" transform="rotate(-23 1466 771)"/><ellipse cx="1475.1" cy="766.8" rx="1.76" ry="1.15" transform="rotate(-23 1475.1 766.8)"/><ellipse cx="1484.1" cy="762.7" rx="1.64" ry="1.07" transform="rotate(-23 1484.1 762.7)"/><ellipse cx="1493.2" cy="758.5" rx="1.54" ry="1.01" transform="rotate(-23 1493.2 758.5)"/><ellipse cx="1502.2" cy="754.4" rx="1.44" ry="0.94" transform="rotate(-23 1502.2 754.4)"/><ellipse cx="1511.2" cy="750.2" rx="1.34" ry="0.88" transform="rotate(-23 1511.2 750.2)"/><ellipse cx="1520.3" cy="746.1" rx="1.24" ry="0.81" transform="rotate(-23 1520.3 746.1)"/><ellipse cx="1529.3" cy="742" rx="1.17" ry="0.76" transform="rotate(-23 1529.3 742)"/><ellipse cx="1538.4" cy="737.8" rx="1.11" ry="0.73" transform="rotate(-23 1538.4 737.8)"/><ellipse cx="1547.5" cy="733.6" rx="1.06" ry="0.69" transform="rotate(-23 1547.5 733.6)"/><ellipse cx="1556.5" cy="729.5" rx="1.00" ry="0.65" transform="rotate(-23 1556.5 729.5)"/><ellipse cx="1565.6" cy="725.3" rx="0.94" ry="0.62" transform="rotate(-23 1565.6 725.3)"/><ellipse cx="1574.6" cy="721.2" rx="0.97" ry="0.64" transform="rotate(-23 1574.6 721.2)"/><ellipse cx="1583.7" cy="717" rx="1.00" ry="0.65" transform="rotate(-23 1583.7 717)"/><ellipse cx="1592.7" cy="712.9" rx="1.02" ry="0.67" transform="rotate(-23 1592.7 712.9)"/><ellipse cx="1601.8" cy="708.8" rx="1.04" ry="0.68" transform="rotate(-23 1601.8 708.8)"/><ellipse cx="1610.8" cy="704.6" rx="1.06" ry="0.69" transform="rotate(-23 1610.8 704.6)"/><ellipse cx="1619.8" cy="700.5" rx="1.07" ry="0.70" transform="rotate(-23 1619.8 700.5)"/><ellipse cx="1628.9" cy="696.3" rx="1.09" ry="0.71" transform="rotate(-23 1628.9 696.3)"/><ellipse cx="1638" cy="692.1" rx="1.10" ry="0.72" transform="rotate(-23 1638 692.1)"/><ellipse cx="1647" cy="688" rx="1.07" ry="0.70" transform="rotate(-23 1647 688)"/><ellipse cx="1656.1" cy="683.8" rx="0.97" ry="0.63" transform="rotate(-23 1656.1 683.8)"/><ellipse cx="1665.1" cy="679.7" rx="0.84" ry="0.55" transform="rotate(-23 1665.1 679.7)"/><ellipse cx="1674.2" cy="675.5" rx="0.67" ry="0.44" transform="rotate(-23 1674.2 675.5)"/><ellipse cx="926.4" cy="1025" rx="1.13" ry="0.74" transform="rotate(-23 926.4 1025)"/><ellipse cx="1315.5" cy="846.6" rx="4.63" ry="3.03" transform="rotate(-23 1315.5 846.6)"/><ellipse cx="1324.6" cy="842.4" rx="4.37" ry="2.86" transform="rotate(-23 1324.6 842.4)"/><ellipse cx="1333.6" cy="838.3" rx="4.11" ry="2.69" transform="rotate(-23 1333.6 838.3)"/><ellipse cx="1342.7" cy="834.1" rx="3.87" ry="2.53" transform="rotate(-23 1342.7 834.1)"/><ellipse cx="1351.7" cy="830" rx="3.69" ry="2.41" transform="rotate(-23 1351.7 830)"/><ellipse cx="1360.8" cy="825.8" rx="3.51" ry="2.29" transform="rotate(-23 1360.8 825.8)"/><ellipse cx="1369.8" cy="821.7" rx="3.35" ry="2.19" transform="rotate(-23 1369.8 821.7)"/><ellipse cx="1378.8" cy="817.5" rx="3.14" ry="2.06" transform="rotate(-23 1378.8 817.5)"/><ellipse cx="1387.9" cy="813.4" rx="2.94" ry="1.92" transform="rotate(-23 1387.9 813.4)"/><ellipse cx="1397" cy="809.2" rx="2.76" ry="1.80" transform="rotate(-23 1397 809.2)"/><ellipse cx="1406" cy="805.1" rx="2.59" ry="1.69" transform="rotate(-23 1406 805.1)"/><ellipse cx="1415.1" cy="800.9" rx="2.42" ry="1.58" transform="rotate(-23 1415.1 800.9)"/><ellipse cx="1424.1" cy="796.8" rx="2.25" ry="1.47" transform="rotate(-23 1424.1 796.8)"/><ellipse cx="1433.2" cy="792.6" rx="2.11" ry="1.38" transform="rotate(-23 1433.2 792.6)"/><ellipse cx="1442.2" cy="788.5" rx="1.97" ry="1.29" transform="rotate(-23 1442.2 788.5)"/><ellipse cx="1451.2" cy="784.3" rx="1.82" ry="1.19" transform="rotate(-23 1451.2 784.3)"/><ellipse cx="1460.3" cy="780.2" rx="1.69" ry="1.10" transform="rotate(-23 1460.3 780.2)"/><ellipse cx="1469.4" cy="776" rx="1.56" ry="1.02" transform="rotate(-23 1469.4 776)"/><ellipse cx="1478.4" cy="771.9" rx="1.43" ry="0.93" transform="rotate(-23 1478.4 771.9)"/><ellipse cx="1487.5" cy="767.8" rx="1.32" ry="0.86" transform="rotate(-23 1487.5 767.8)"/><ellipse cx="1496.5" cy="763.6" rx="1.22" ry="0.80" transform="rotate(-23 1496.5 763.6)"/><ellipse cx="1505.6" cy="759.4" rx="1.12" ry="0.74" transform="rotate(-23 1505.6 759.4)"/><ellipse cx="1514.6" cy="755.3" rx="1.08" ry="0.70" transform="rotate(-23 1514.6 755.3)"/><ellipse cx="1523.7" cy="751.1" rx="1.07" ry="0.70" transform="rotate(-23 1523.7 751.1)"/><ellipse cx="1532.7" cy="747" rx="1.10" ry="0.72" transform="rotate(-23 1532.7 747)"/><ellipse cx="1541.8" cy="742.8" rx="1.13" ry="0.74" transform="rotate(-23 1541.8 742.8)"/><ellipse cx="1550.8" cy="738.7" rx="1.15" ry="0.75" transform="rotate(-23 1550.8 738.7)"/><ellipse cx="1559.9" cy="734.5" rx="1.17" ry="0.77" transform="rotate(-23 1559.9 734.5)"/><ellipse cx="1568.9" cy="730.4" rx="1.19" ry="0.78" transform="rotate(-23 1568.9 730.4)"/><ellipse cx="1578" cy="726.2" rx="1.21" ry="0.79" transform="rotate(-23 1578 726.2)"/><ellipse cx="1587" cy="722.1" rx="1.22" ry="0.80" transform="rotate(-23 1587 722.1)"/><ellipse cx="1596.1" cy="717.9" rx="1.23" ry="0.81" transform="rotate(-23 1596.1 717.9)"/><ellipse cx="1605.1" cy="713.8" rx="1.24" ry="0.81" transform="rotate(-23 1605.1 713.8)"/><ellipse cx="1614.2" cy="709.6" rx="1.25" ry="0.82" transform="rotate(-23 1614.2 709.6)"/><ellipse cx="1623.2" cy="705.5" rx="1.26" ry="0.82" transform="rotate(-23 1623.2 705.5)"/><ellipse cx="1632.2" cy="701.3" rx="1.25" ry="0.82" transform="rotate(-23 1632.2 701.3)"/><ellipse cx="1641.3" cy="697.2" rx="1.23" ry="0.80" transform="rotate(-23 1641.3 697.2)"/><ellipse cx="1650.4" cy="693" rx="1.12" ry="0.73" transform="rotate(-23 1650.4 693)"/><ellipse cx="1659.4" cy="688.9" rx="0.98" ry="0.64" transform="rotate(-23 1659.4 688.9)"/><ellipse cx="1668.5" cy="684.7" rx="0.81" ry="0.53" transform="rotate(-23 1668.5 684.7)"/><ellipse cx="1264.6" cy="876.5" rx="5.81" ry="3.80" transform="rotate(-23 1264.6 876.5)"/><ellipse cx="1273.6" cy="872.4" rx="5.81" ry="3.80" transform="rotate(-23 1273.6 872.4)"/><ellipse cx="1282.7" cy="868.2" rx="5.50" ry="3.60" transform="rotate(-23 1282.7 868.2)"/><ellipse cx="1291.7" cy="864.1" rx="5.67" ry="3.71" transform="rotate(-23 1291.7 864.1)"/><ellipse cx="1300.8" cy="859.9" rx="5.33" ry="3.49" transform="rotate(-23 1300.8 859.9)"/><ellipse cx="1309.8" cy="855.8" rx="4.79" ry="3.14" transform="rotate(-23 1309.8 855.8)"/><ellipse cx="1318.9" cy="851.6" rx="4.43" ry="2.90" transform="rotate(-23 1318.9 851.6)"/><ellipse cx="1327.9" cy="847.5" rx="4.06" ry="2.65" transform="rotate(-23 1327.9 847.5)"/><ellipse cx="1337" cy="843.3" rx="3.77" ry="2.46" transform="rotate(-23 1337 843.3)"/><ellipse cx="1346" cy="839.2" rx="3.52" ry="2.30" transform="rotate(-23 1346 839.2)"/><ellipse cx="1355.1" cy="835" rx="3.27" ry="2.14" transform="rotate(-23 1355.1 835)"/><ellipse cx="1364.1" cy="830.9" rx="3.05" ry="2.00" transform="rotate(-23 1364.1 830.9)"/><ellipse cx="1373.2" cy="826.7" rx="2.86" ry="1.87" transform="rotate(-23 1373.2 826.7)"/><ellipse cx="1382.2" cy="822.6" rx="2.66" ry="1.74" transform="rotate(-23 1382.2 822.6)"/><ellipse cx="1391.2" cy="818.4" rx="2.47" ry="1.61" transform="rotate(-23 1391.2 818.4)"/><ellipse cx="1400.3" cy="814.3" rx="2.30" ry="1.51" transform="rotate(-23 1400.3 814.3)"/><ellipse cx="1409.4" cy="810.1" rx="2.14" ry="1.40" transform="rotate(-23 1409.4 810.1)"/><ellipse cx="1418.4" cy="806" rx="1.98" ry="1.29" transform="rotate(-23 1418.4 806)"/><ellipse cx="1427.5" cy="801.8" rx="1.82" ry="1.19" transform="rotate(-23 1427.5 801.8)"/><ellipse cx="1436.5" cy="797.7" rx="1.68" ry="1.10" transform="rotate(-23 1436.5 797.7)"/><ellipse cx="1445.6" cy="793.5" rx="1.55" ry="1.01" transform="rotate(-23 1445.6 793.5)"/><ellipse cx="1454.6" cy="789.4" rx="1.41" ry="0.92" transform="rotate(-23 1454.6 789.4)"/><ellipse cx="1463.7" cy="785.2" rx="1.41" ry="0.92" transform="rotate(-23 1463.7 785.2)"/><ellipse cx="1472.7" cy="781.1" rx="1.39" ry="0.91" transform="rotate(-23 1472.7 781.1)"/><ellipse cx="1481.8" cy="776.9" rx="1.38" ry="0.90" transform="rotate(-23 1481.8 776.9)"/><ellipse cx="1490.8" cy="772.8" rx="1.38" ry="0.90" transform="rotate(-23 1490.8 772.8)"/><ellipse cx="1499.9" cy="768.6" rx="1.37" ry="0.90" transform="rotate(-23 1499.9 768.6)"/><ellipse cx="1508.9" cy="764.5" rx="1.35" ry="0.89" transform="rotate(-23 1508.9 764.5)"/><ellipse cx="1518" cy="760.3" rx="1.33" ry="0.87" transform="rotate(-23 1518 760.3)"/><ellipse cx="1527" cy="756.2" rx="1.32" ry="0.86" transform="rotate(-23 1527 756.2)"/><ellipse cx="1536.1" cy="752" rx="1.34" ry="0.88" transform="rotate(-23 1536.1 752)"/><ellipse cx="1545.1" cy="747.9" rx="1.36" ry="0.89" transform="rotate(-23 1545.1 747.9)"/><ellipse cx="1554.2" cy="743.7" rx="1.37" ry="0.90" transform="rotate(-23 1554.2 743.7)"/><ellipse cx="1563.2" cy="739.6" rx="1.38" ry="0.90" transform="rotate(-23 1563.2 739.6)"/><ellipse cx="1572.2" cy="735.4" rx="1.39" ry="0.91" transform="rotate(-23 1572.2 735.4)"/><ellipse cx="1581.3" cy="731.3" rx="1.37" ry="0.90" transform="rotate(-23 1581.3 731.3)"/><ellipse cx="1590.4" cy="727.1" rx="1.35" ry="0.88" transform="rotate(-23 1590.4 727.1)"/><ellipse cx="1599.4" cy="723" rx="1.33" ry="0.87" transform="rotate(-23 1599.4 723)"/><ellipse cx="1608.5" cy="718.8" rx="1.31" ry="0.85" transform="rotate(-23 1608.5 718.8)"/><ellipse cx="1617.5" cy="714.7" rx="1.29" ry="0.84" transform="rotate(-23 1617.5 714.7)"/><ellipse cx="978.3" cy="1014.4" rx="0.71" ry="0.46" transform="rotate(-23 978.3 1014.4)"/><ellipse cx="1204.5" cy="910.7" rx="4.70" ry="3.07" transform="rotate(-23 1204.5 910.7)"/><ellipse cx="1213.6" cy="906.5" rx="5.48" ry="3.58" transform="rotate(-23 1213.6 906.5)"/><ellipse cx="1222.7" cy="902.4" rx="5.81" ry="3.80" transform="rotate(-23 1222.7 902.4)"/><ellipse cx="1231.7" cy="898.2" rx="5.81" ry="3.80" transform="rotate(-23 1231.7 898.2)"/><ellipse cx="1240.8" cy="894.1" rx="5.81" ry="3.80" transform="rotate(-23 1240.8 894.1)"/><ellipse cx="1249.8" cy="889.9" rx="5.81" ry="3.80" transform="rotate(-23 1249.8 889.9)"/><ellipse cx="1258.8" cy="885.8" rx="5.81" ry="3.80" transform="rotate(-23 1258.8 885.8)"/><ellipse cx="1267.9" cy="881.6" rx="5.81" ry="3.80" transform="rotate(-23 1267.9 881.6)"/><ellipse cx="1277" cy="877.5" rx="5.81" ry="3.80" transform="rotate(-23 1277 877.5)"/><ellipse cx="1286" cy="873.3" rx="5.03" ry="3.29" transform="rotate(-23 1286 873.3)"/><ellipse cx="1295" cy="869.2" rx="5.14" ry="3.36" transform="rotate(-23 1295 869.2)"/><ellipse cx="1304.1" cy="865" rx="4.23" ry="2.76" transform="rotate(-23 1304.1 865)"/><ellipse cx="1313.2" cy="860.9" rx="3.86" ry="2.53" transform="rotate(-23 1313.2 860.9)"/><ellipse cx="1322.2" cy="856.7" rx="3.63" ry="2.37" transform="rotate(-23 1322.2 856.7)"/><ellipse cx="1331.2" cy="852.6" rx="3.39" ry="2.21" transform="rotate(-23 1331.2 852.6)"/><ellipse cx="1340.3" cy="848.4" rx="3.15" ry="2.06" transform="rotate(-23 1340.3 848.4)"/><ellipse cx="1349.3" cy="844.2" rx="2.91" ry="1.91" transform="rotate(-23 1349.3 844.2)"/><ellipse cx="1358.4" cy="840.1" rx="2.68" ry="1.75" transform="rotate(-23 1358.4 840.1)"/><ellipse cx="1367.5" cy="836" rx="2.49" ry="1.63" transform="rotate(-23 1367.5 836)"/><ellipse cx="1376.5" cy="831.8" rx="2.30" ry="1.50" transform="rotate(-23 1376.5 831.8)"/><ellipse cx="1385.5" cy="827.7" rx="2.11" ry="1.38" transform="rotate(-23 1385.5 827.7)"/><ellipse cx="1394.6" cy="823.5" rx="1.93" ry="1.26" transform="rotate(-23 1394.6 823.5)"/><ellipse cx="1403.7" cy="819.4" rx="1.85" ry="1.21" transform="rotate(-23 1403.7 819.4)"/><ellipse cx="1412.7" cy="815.2" rx="1.85" ry="1.21" transform="rotate(-23 1412.7 815.2)"/><ellipse cx="1421.8" cy="811.1" rx="1.84" ry="1.20" transform="rotate(-23 1421.8 811.1)"/><ellipse cx="1430.8" cy="806.9" rx="1.83" ry="1.20" transform="rotate(-23 1430.8 806.9)"/><ellipse cx="1439.8" cy="802.8" rx="1.82" ry="1.19" transform="rotate(-23 1439.8 802.8)"/><ellipse cx="1448.9" cy="798.6" rx="1.79" ry="1.17" transform="rotate(-23 1448.9 798.6)"/><ellipse cx="1458" cy="794.5" rx="1.76" ry="1.15" transform="rotate(-23 1458 794.5)"/><ellipse cx="1467" cy="790.3" rx="1.73" ry="1.13" transform="rotate(-23 1467 790.3)"/><ellipse cx="1476.1" cy="786.2" rx="1.99" ry="1.30" transform="rotate(-23 1476.1 786.2)"/><ellipse cx="1485.1" cy="782" rx="1.66" ry="1.08" transform="rotate(-23 1485.1 782)"/><ellipse cx="1494.2" cy="777.9" rx="1.63" ry="1.07" transform="rotate(-23 1494.2 777.9)"/><ellipse cx="1503.2" cy="773.7" rx="1.61" ry="1.05" transform="rotate(-23 1503.2 773.7)"/><ellipse cx="1512.2" cy="769.6" rx="1.57" ry="1.03" transform="rotate(-23 1512.2 769.6)"/><ellipse cx="1521.3" cy="765.4" rx="1.51" ry="0.99" transform="rotate(-23 1521.3 765.4)"/><ellipse cx="1530.3" cy="761.2" rx="1.48" ry="0.97" transform="rotate(-23 1530.3 761.2)"/><ellipse cx="1539.4" cy="757.1" rx="1.46" ry="0.96" transform="rotate(-23 1539.4 757.1)"/><ellipse cx="1548.5" cy="753" rx="1.44" ry="0.94" transform="rotate(-23 1548.5 753)"/><ellipse cx="1557.5" cy="748.8" rx="1.42" ry="0.93" transform="rotate(-23 1557.5 748.8)"/><ellipse cx="1566.6" cy="744.7" rx="1.40" ry="0.92" transform="rotate(-23 1566.6 744.7)"/><ellipse cx="963.6" cy="1027.8" rx="0.91" ry="0.59" transform="rotate(-23 963.6 1027.8)"/><ellipse cx="972.6" cy="1023.6" rx="1.22" ry="0.80" transform="rotate(-23 972.6 1023.6)"/><ellipse cx="981.7" cy="1019.5" rx="2.05" ry="1.34" transform="rotate(-23 981.7 1019.5)"/><ellipse cx="1171.7" cy="932.3" rx="1.98" ry="1.30" transform="rotate(-23 1171.7 932.3)"/><ellipse cx="1180.8" cy="928.2" rx="3.29" ry="2.15" transform="rotate(-23 1180.8 928.2)"/><ellipse cx="1189.8" cy="924" rx="4.43" ry="2.90" transform="rotate(-23 1189.8 924)"/><ellipse cx="1198.9" cy="919.9" rx="5.60" ry="3.66" transform="rotate(-23 1198.9 919.9)"/><ellipse cx="1207.9" cy="915.7" rx="4.99" ry="3.26" transform="rotate(-23 1207.9 915.7)"/><ellipse cx="1217" cy="911.5" rx="5.77" ry="3.77" transform="rotate(-23 1217 911.5)"/><ellipse cx="1226" cy="907.4" rx="5.81" ry="3.80" transform="rotate(-23 1226 907.4)"/><ellipse cx="1235.1" cy="903.2" rx="5.81" ry="3.80" transform="rotate(-23 1235.1 903.2)"/><ellipse cx="1244.1" cy="899.1" rx="5.81" ry="3.80" transform="rotate(-23 1244.1 899.1)"/><ellipse cx="1253.2" cy="895" rx="5.81" ry="3.80" transform="rotate(-23 1253.2 895)"/><ellipse cx="1262.2" cy="890.8" rx="5.81" ry="3.80" transform="rotate(-23 1262.2 890.8)"/><ellipse cx="1271.2" cy="886.7" rx="5.81" ry="3.80" transform="rotate(-23 1271.2 886.7)"/><ellipse cx="1280.3" cy="882.5" rx="5.81" ry="3.80" transform="rotate(-23 1280.3 882.5)"/><ellipse cx="1289.4" cy="878.4" rx="4.57" ry="2.99" transform="rotate(-23 1289.4 878.4)"/><ellipse cx="1298.4" cy="874.2" rx="4.43" ry="2.90" transform="rotate(-23 1298.4 874.2)"/><ellipse cx="1307.5" cy="870" rx="3.38" ry="2.21" transform="rotate(-23 1307.5 870)"/><ellipse cx="1316.5" cy="865.9" rx="3.13" ry="2.05" transform="rotate(-23 1316.5 865.9)"/><ellipse cx="1325.6" cy="861.8" rx="2.90" ry="1.90" transform="rotate(-23 1325.6 861.8)"/><ellipse cx="1334.6" cy="857.6" rx="2.67" ry="1.74" transform="rotate(-23 1334.6 857.6)"/><ellipse cx="1343.7" cy="853.5" rx="2.44" ry="1.59" transform="rotate(-23 1343.7 853.5)"/><ellipse cx="1352.7" cy="849.3" rx="2.42" ry="1.59" transform="rotate(-23 1352.7 849.3)"/><ellipse cx="1361.8" cy="845.2" rx="2.41" ry="1.58" transform="rotate(-23 1361.8 845.2)"/><ellipse cx="1370.8" cy="841" rx="2.40" ry="1.57" transform="rotate(-23 1370.8 841)"/><ellipse cx="1379.9" cy="836.9" rx="2.38" ry="1.56" transform="rotate(-23 1379.9 836.9)"/><ellipse cx="1388.9" cy="832.7" rx="2.35" ry="1.54" transform="rotate(-23 1388.9 832.7)"/><ellipse cx="1398" cy="828.5" rx="2.33" ry="1.52" transform="rotate(-23 1398 828.5)"/><ellipse cx="1407" cy="824.4" rx="2.30" ry="1.50" transform="rotate(-23 1407 824.4)"/><ellipse cx="1416.1" cy="820.2" rx="2.26" ry="1.48" transform="rotate(-23 1416.1 820.2)"/><ellipse cx="1425.1" cy="816.1" rx="3.57" ry="2.34" transform="rotate(-23 1425.1 816.1)"/><ellipse cx="1434.2" cy="812" rx="3.57" ry="2.34" transform="rotate(-23 1434.2 812)"/><ellipse cx="1443.2" cy="807.8" rx="3.57" ry="2.34" transform="rotate(-23 1443.2 807.8)"/><ellipse cx="1452.2" cy="803.7" rx="3.40" ry="2.22" transform="rotate(-23 1452.2 803.7)"/><ellipse cx="1461.3" cy="799.5" rx="2.94" ry="1.92" transform="rotate(-23 1461.3 799.5)"/><ellipse cx="1470.4" cy="795.4" rx="2.40" ry="1.57" transform="rotate(-23 1470.4 795.4)"/><ellipse cx="1479.4" cy="791.2" rx="1.83" ry="1.20" transform="rotate(-23 1479.4 791.2)"/><ellipse cx="1488.5" cy="787" rx="1.77" ry="1.16" transform="rotate(-23 1488.5 787)"/><ellipse cx="1497.5" cy="782.9" rx="1.70" ry="1.11" transform="rotate(-23 1497.5 782.9)"/><ellipse cx="1506.6" cy="778.8" rx="1.63" ry="1.07" transform="rotate(-23 1506.6 778.8)"/><ellipse cx="957.9" cy="1037" rx="1.70" ry="1.11" transform="rotate(-23 957.9 1037)"/><ellipse cx="966.9" cy="1032.8" rx="2.44" ry="1.59" transform="rotate(-23 966.9 1032.8)"/><ellipse cx="976" cy="1028.7" rx="2.93" ry="1.92" transform="rotate(-23 976 1028.7)"/><ellipse cx="985" cy="1024.5" rx="3.26" ry="2.13" transform="rotate(-23 985 1024.5)"/><ellipse cx="1093.6" cy="974.7" rx="3.24" ry="2.12" transform="rotate(-23 1093.6 974.7)"/><ellipse cx="1102.7" cy="970.5" rx="2.80" ry="1.83" transform="rotate(-23 1102.7 970.5)"/><ellipse cx="1111.7" cy="966.4" rx="2.34" ry="1.53" transform="rotate(-23 1111.7 966.4)"/><ellipse cx="1120.8" cy="962.2" rx="1.79" ry="1.17" transform="rotate(-23 1120.8 962.2)"/><ellipse cx="1129.8" cy="958.1" rx="1.05" ry="0.69" transform="rotate(-23 1129.8 958.1)"/><ellipse cx="1166" cy="941.5" rx="1.10" ry="0.72" transform="rotate(-23 1166 941.5)"/><ellipse cx="1175.1" cy="937.3" rx="2.45" ry="1.60" transform="rotate(-23 1175.1 937.3)"/><ellipse cx="1184.1" cy="933.2" rx="3.50" ry="2.29" transform="rotate(-23 1184.1 933.2)"/><ellipse cx="1193.2" cy="929" rx="4.48" ry="2.93" transform="rotate(-23 1193.2 929)"/><ellipse cx="1202.2" cy="924.9" rx="4.50" ry="2.95" transform="rotate(-23 1202.2 924.9)"/><ellipse cx="1211.2" cy="920.8" rx="5.28" ry="3.45" transform="rotate(-23 1211.2 920.8)"/><ellipse cx="1220.3" cy="916.6" rx="5.81" ry="3.80" transform="rotate(-23 1220.3 916.6)"/><ellipse cx="1229.3" cy="912.5" rx="5.81" ry="3.80" transform="rotate(-23 1229.3 912.5)"/><ellipse cx="1238.4" cy="908.3" rx="5.81" ry="3.80" transform="rotate(-23 1238.4 908.3)"/><ellipse cx="1247.5" cy="904.1" rx="5.81" ry="3.80" transform="rotate(-23 1247.5 904.1)"/><ellipse cx="1256.5" cy="900" rx="5.81" ry="3.80" transform="rotate(-23 1256.5 900)"/><ellipse cx="1265.6" cy="895.8" rx="5.81" ry="3.80" transform="rotate(-23 1265.6 895.8)"/><ellipse cx="1274.6" cy="891.7" rx="5.81" ry="3.80" transform="rotate(-23 1274.6 891.7)"/><ellipse cx="1283.7" cy="887.5" rx="5.36" ry="3.50" transform="rotate(-23 1283.7 887.5)"/><ellipse cx="1292.7" cy="883.4" rx="4.06" ry="2.66" transform="rotate(-23 1292.7 883.4)"/><ellipse cx="1301.8" cy="879.2" rx="3.79" ry="2.48" transform="rotate(-23 1301.8 879.2)"/><ellipse cx="1310.8" cy="875.1" rx="3.15" ry="2.06" transform="rotate(-23 1310.8 875.1)"/><ellipse cx="1319.8" cy="871" rx="3.14" ry="2.06" transform="rotate(-23 1319.8 871)"/><ellipse cx="1328.9" cy="866.8" rx="3.13" ry="2.04" transform="rotate(-23 1328.9 866.8)"/><ellipse cx="1338" cy="862.6" rx="3.09" ry="2.02" transform="rotate(-23 1338 862.6)"/><ellipse cx="1347" cy="858.5" rx="3.04" ry="1.99" transform="rotate(-23 1347 858.5)"/><ellipse cx="1356.1" cy="854.3" rx="2.97" ry="1.94" transform="rotate(-23 1356.1 854.3)"/><ellipse cx="1365.1" cy="850.2" rx="3.57" ry="2.34" transform="rotate(-23 1365.1 850.2)"/><ellipse cx="1374.2" cy="846" rx="3.57" ry="2.34" transform="rotate(-23 1374.2 846)"/><ellipse cx="1383.2" cy="841.9" rx="3.57" ry="2.34" transform="rotate(-23 1383.2 841.9)"/><ellipse cx="1392.2" cy="837.8" rx="3.57" ry="2.34" transform="rotate(-23 1392.2 837.8)"/><ellipse cx="1401.3" cy="833.6" rx="3.57" ry="2.34" transform="rotate(-23 1401.3 833.6)"/><ellipse cx="1410.3" cy="829.5" rx="3.57" ry="2.34" transform="rotate(-23 1410.3 829.5)"/><ellipse cx="1419.4" cy="825.3" rx="3.57" ry="2.34" transform="rotate(-23 1419.4 825.3)"/><ellipse cx="1428.5" cy="821.1" rx="3.57" ry="2.34" transform="rotate(-23 1428.5 821.1)"/><ellipse cx="1437.5" cy="817" rx="3.57" ry="2.34" transform="rotate(-23 1437.5 817)"/><ellipse cx="1446.6" cy="812.8" rx="3.57" ry="2.34" transform="rotate(-23 1446.6 812.8)"/><ellipse cx="1455.6" cy="808.7" rx="3.24" ry="2.12" transform="rotate(-23 1455.6 808.7)"/><ellipse cx="961.2" cy="1042" rx="3.30" ry="2.16" transform="rotate(-23 961.2 1042)"/><ellipse cx="970.2" cy="1037.8" rx="3.63" ry="2.37" transform="rotate(-23 970.2 1037.8)"/><ellipse cx="979.3" cy="1033.7" rx="3.85" ry="2.52" transform="rotate(-23 979.3 1033.7)"/><ellipse cx="988.4" cy="1029.5" rx="4.07" ry="2.66" transform="rotate(-23 988.4 1029.5)"/><ellipse cx="997.4" cy="1025.4" rx="4.71" ry="3.08" transform="rotate(-23 997.4 1025.4)"/><ellipse cx="1042.7" cy="1004.6" rx="5.28" ry="3.45" transform="rotate(-23 1042.7 1004.6)"/><ellipse cx="1051.7" cy="1000.5" rx="4.94" ry="3.23" transform="rotate(-23 1051.7 1000.5)"/><ellipse cx="1060.8" cy="996.3" rx="4.60" ry="3.00" transform="rotate(-23 1060.8 996.3)"/><ellipse cx="1069.8" cy="992.2" rx="4.21" ry="2.75" transform="rotate(-23 1069.8 992.2)"/><ellipse cx="1078.9" cy="988" rx="3.83" ry="2.50" transform="rotate(-23 1078.9 988)"/><ellipse cx="1087.9" cy="983.9" rx="3.49" ry="2.28" transform="rotate(-23 1087.9 983.9)"/><ellipse cx="1097" cy="979.8" rx="3.06" ry="2.00" transform="rotate(-23 1097 979.8)"/><ellipse cx="1106" cy="975.6" rx="2.58" ry="1.68" transform="rotate(-23 1106 975.6)"/><ellipse cx="1115.1" cy="971.4" rx="2.08" ry="1.36" transform="rotate(-23 1115.1 971.4)"/><ellipse cx="1124.1" cy="967.3" rx="1.47" ry="0.96" transform="rotate(-23 1124.1 967.3)"/><ellipse cx="1133.2" cy="963.1" rx="0.63" ry="0.41" transform="rotate(-23 1133.2 963.1)"/><ellipse cx="1169.4" cy="946.5" rx="1.33" ry="0.87" transform="rotate(-23 1169.4 946.5)"/><ellipse cx="1178.4" cy="942.4" rx="2.66" ry="1.74" transform="rotate(-23 1178.4 942.4)"/><ellipse cx="1187.5" cy="938.2" rx="3.53" ry="2.31" transform="rotate(-23 1187.5 938.2)"/><ellipse cx="1196.5" cy="934.1" rx="4.26" ry="2.78" transform="rotate(-23 1196.5 934.1)"/><ellipse cx="1205.6" cy="929.9" rx="4.79" ry="3.13" transform="rotate(-23 1205.6 929.9)"/><ellipse cx="1214.6" cy="925.8" rx="5.57" ry="3.64" transform="rotate(-23 1214.6 925.8)"/><ellipse cx="1223.7" cy="921.6" rx="5.81" ry="3.80" transform="rotate(-23 1223.7 921.6)"/><ellipse cx="1232.7" cy="917.5" rx="5.81" ry="3.80" transform="rotate(-23 1232.7 917.5)"/><ellipse cx="1241.8" cy="913.3" rx="5.81" ry="3.80" transform="rotate(-23 1241.8 913.3)"/><ellipse cx="1250.8" cy="909.2" rx="5.81" ry="3.80" transform="rotate(-23 1250.8 909.2)"/><ellipse cx="1259.8" cy="905" rx="5.81" ry="3.80" transform="rotate(-23 1259.8 905)"/><ellipse cx="1268.9" cy="900.9" rx="5.81" ry="3.80" transform="rotate(-23 1268.9 900.9)"/><ellipse cx="1278" cy="896.8" rx="5.81" ry="3.80" transform="rotate(-23 1278 896.8)"/><ellipse cx="1287" cy="892.6" rx="4.89" ry="3.20" transform="rotate(-23 1287 892.6)"/><ellipse cx="1296.1" cy="888.4" rx="3.50" ry="2.29" transform="rotate(-23 1296.1 888.4)"/><ellipse cx="1305.1" cy="884.3" rx="3.85" ry="2.52" transform="rotate(-23 1305.1 884.3)"/><ellipse cx="1314.2" cy="880.1" rx="3.80" ry="2.48" transform="rotate(-23 1314.2 880.1)"/><ellipse cx="1323.2" cy="876" rx="3.75" ry="2.45" transform="rotate(-23 1323.2 876)"/><ellipse cx="1332.2" cy="871.8" rx="3.68" ry="2.41" transform="rotate(-23 1332.2 871.8)"/><ellipse cx="1341.3" cy="867.7" rx="3.60" ry="2.36" transform="rotate(-23 1341.3 867.7)"/><ellipse cx="1350.3" cy="863.5" rx="3.57" ry="2.34" transform="rotate(-23 1350.3 863.5)"/><ellipse cx="1359.4" cy="859.4" rx="3.57" ry="2.34" transform="rotate(-23 1359.4 859.4)"/><ellipse cx="1368.5" cy="855.2" rx="3.57" ry="2.34" transform="rotate(-23 1368.5 855.2)"/><ellipse cx="1377.5" cy="851.1" rx="3.57" ry="2.34" transform="rotate(-23 1377.5 851.1)"/><ellipse cx="1386.6" cy="846.9" rx="3.57" ry="2.34" transform="rotate(-23 1386.6 846.9)"/><ellipse cx="1395.6" cy="842.8" rx="3.57" ry="2.34" transform="rotate(-23 1395.6 842.8)"/><ellipse cx="964.6" cy="1047" rx="4.27" ry="2.79" transform="rotate(-23 964.6 1047)"/><ellipse cx="973.6" cy="1042.9" rx="4.67" ry="3.05" transform="rotate(-23 973.6 1042.9)"/><ellipse cx="982.7" cy="1038.8" rx="4.78" ry="3.12" transform="rotate(-23 982.7 1038.8)"/><ellipse cx="991.7" cy="1034.6" rx="4.96" ry="3.25" transform="rotate(-23 991.7 1034.6)"/><ellipse cx="1000.8" cy="1030.4" rx="5.15" ry="3.37" transform="rotate(-23 1000.8 1030.4)"/><ellipse cx="1009.8" cy="1026.3" rx="5.40" ry="3.53" transform="rotate(-23 1009.8 1026.3)"/><ellipse cx="1018.9" cy="1022.1" rx="5.35" ry="3.50" transform="rotate(-23 1018.9 1022.1)"/><ellipse cx="1027.9" cy="1018" rx="5.13" ry="3.35" transform="rotate(-23 1027.9 1018)"/><ellipse cx="1037" cy="1013.8" rx="5.87" ry="3.84" transform="rotate(-23 1037 1013.8)"/><ellipse cx="1046" cy="1009.7" rx="5.04" ry="3.30" transform="rotate(-23 1046 1009.7)"/><ellipse cx="1055.1" cy="1005.5" rx="4.63" ry="3.03" transform="rotate(-23 1055.1 1005.5)"/><ellipse cx="1064.1" cy="1001.4" rx="4.23" ry="2.77" transform="rotate(-23 1064.1 1001.4)"/><ellipse cx="1073.2" cy="997.2" rx="3.82" ry="2.50" transform="rotate(-23 1073.2 997.2)"/><ellipse cx="1082.2" cy="993.1" rx="3.49" ry="2.28" transform="rotate(-23 1082.2 993.1)"/><ellipse cx="1091.2" cy="988.9" rx="3.11" ry="2.04" transform="rotate(-23 1091.2 988.9)"/><ellipse cx="1100.3" cy="984.8" rx="2.69" ry="1.76" transform="rotate(-23 1100.3 984.8)"/><ellipse cx="1109.4" cy="980.6" rx="2.23" ry="1.46" transform="rotate(-23 1109.4 980.6)"/><ellipse cx="1118.4" cy="976.5" rx="1.74" ry="1.14" transform="rotate(-23 1118.4 976.5)"/><ellipse cx="1127.5" cy="972.3" rx="1.10" ry="0.72" transform="rotate(-23 1127.5 972.3)"/><ellipse cx="1163.7" cy="955.7" rx="0.65" ry="0.43" transform="rotate(-23 1163.7 955.7)"/><ellipse cx="1172.7" cy="951.6" rx="1.77" ry="1.16" transform="rotate(-23 1172.7 951.6)"/><ellipse cx="1181.8" cy="947.4" rx="2.74" ry="1.79" transform="rotate(-23 1181.8 947.4)"/><ellipse cx="1190.8" cy="943.3" rx="3.45" ry="2.26" transform="rotate(-23 1190.8 943.3)"/><ellipse cx="1199.9" cy="939.1" rx="3.92" ry="2.56" transform="rotate(-23 1199.9 939.1)"/><ellipse cx="1208.9" cy="935" rx="5.08" ry="3.32" transform="rotate(-23 1208.9 935)"/><ellipse cx="1218" cy="930.8" rx="5.81" ry="3.80" transform="rotate(-23 1218 930.8)"/><ellipse cx="1227" cy="926.7" rx="5.81" ry="3.80" transform="rotate(-23 1227 926.7)"/><ellipse cx="1236.1" cy="922.5" rx="5.81" ry="3.80" transform="rotate(-23 1236.1 922.5)"/><ellipse cx="1245.1" cy="918.4" rx="5.81" ry="3.80" transform="rotate(-23 1245.1 918.4)"/><ellipse cx="1254.2" cy="914.2" rx="5.81" ry="3.80" transform="rotate(-23 1254.2 914.2)"/><ellipse cx="1263.2" cy="910.1" rx="5.81" ry="3.80" transform="rotate(-23 1263.2 910.1)"/><ellipse cx="1272.2" cy="905.9" rx="5.81" ry="3.80" transform="rotate(-23 1272.2 905.9)"/><ellipse cx="1281.3" cy="901.8" rx="5.69" ry="3.72" transform="rotate(-23 1281.3 901.8)"/><ellipse cx="1290.4" cy="897.6" rx="3.20" ry="2.09" transform="rotate(-23 1290.4 897.6)"/><ellipse cx="1299.4" cy="893.5" rx="2.98" ry="1.95" transform="rotate(-23 1299.4 893.5)"/><ellipse cx="1308.5" cy="889.3" rx="4.44" ry="2.90" transform="rotate(-23 1308.5 889.3)"/><ellipse cx="1317.5" cy="885.2" rx="4.20" ry="2.75" transform="rotate(-23 1317.5 885.2)"/><ellipse cx="1326.6" cy="881" rx="3.97" ry="2.60" transform="rotate(-23 1326.6 881)"/><ellipse cx="1335.6" cy="876.9" rx="3.78" ry="2.47" transform="rotate(-23 1335.6 876.9)"/><ellipse cx="1344.7" cy="872.7" rx="3.62" ry="2.36" transform="rotate(-23 1344.7 872.7)"/><ellipse cx="977" cy="1048" rx="5.03" ry="3.29" transform="rotate(-23 977 1048)"/><ellipse cx="986" cy="1043.8" rx="5.22" ry="3.41" transform="rotate(-23 986 1043.8)"/><ellipse cx="995" cy="1039.7" rx="5.40" ry="3.53" transform="rotate(-23 995 1039.7)"/><ellipse cx="1004.1" cy="1035.5" rx="5.43" ry="3.55" transform="rotate(-23 1004.1 1035.5)"/><ellipse cx="1013.1" cy="1031.4" rx="5.38" ry="3.52" transform="rotate(-23 1013.1 1031.4)"/><ellipse cx="1022.2" cy="1027.2" rx="5.34" ry="3.49" transform="rotate(-23 1022.2 1027.2)"/><ellipse cx="1031.2" cy="1023.1" rx="4.87" ry="3.18" transform="rotate(-23 1031.2 1023.1)"/><ellipse cx="1040.3" cy="1018.9" rx="4.88" ry="3.19" transform="rotate(-23 1040.3 1018.9)"/><ellipse cx="1049.3" cy="1014.8" rx="4.38" ry="2.86" transform="rotate(-23 1049.3 1014.8)"/><ellipse cx="1058.4" cy="1010.6" rx="4.02" ry="2.63" transform="rotate(-23 1058.4 1010.6)"/><ellipse cx="1067.5" cy="1006.5" rx="3.72" ry="2.43" transform="rotate(-23 1067.5 1006.5)"/><ellipse cx="1076.5" cy="1002.3" rx="3.42" ry="2.23" transform="rotate(-23 1076.5 1002.3)"/><ellipse cx="1085.5" cy="998.2" rx="3.10" ry="2.03" transform="rotate(-23 1085.5 998.2)"/><ellipse cx="1094.6" cy="994" rx="2.72" ry="1.78" transform="rotate(-23 1094.6 994)"/><ellipse cx="1103.7" cy="989.9" rx="2.31" ry="1.51" transform="rotate(-23 1103.7 989.9)"/><ellipse cx="1112.7" cy="985.7" rx="1.88" ry="1.23" transform="rotate(-23 1112.7 985.7)"/><ellipse cx="1121.8" cy="981.6" rx="1.39" ry="0.91" transform="rotate(-23 1121.8 981.6)"/><ellipse cx="1130.8" cy="977.4" rx="0.76" ry="0.50" transform="rotate(-23 1130.8 977.4)"/><ellipse cx="1167" cy="960.8" rx="0.92" ry="0.60" transform="rotate(-23 1167 960.8)"/><ellipse cx="1176" cy="956.7" rx="1.95" ry="1.28" transform="rotate(-23 1176 956.7)"/><ellipse cx="1185.1" cy="952.5" rx="2.70" ry="1.76" transform="rotate(-23 1185.1 952.5)"/><ellipse cx="1194.2" cy="948.4" rx="3.23" ry="2.11" transform="rotate(-23 1194.2 948.4)"/><ellipse cx="1203.2" cy="944.2" rx="4.59" ry="3.00" transform="rotate(-23 1203.2 944.2)"/><ellipse cx="1212.2" cy="940.1" rx="5.37" ry="3.51" transform="rotate(-23 1212.2 940.1)"/><ellipse cx="1221.3" cy="935.9" rx="5.81" ry="3.80" transform="rotate(-23 1221.3 935.9)"/><ellipse cx="1230.3" cy="931.8" rx="5.81" ry="3.80" transform="rotate(-23 1230.3 931.8)"/><ellipse cx="1239.4" cy="927.6" rx="5.81" ry="3.80" transform="rotate(-23 1239.4 927.6)"/><ellipse cx="1248.5" cy="923.5" rx="5.81" ry="3.80" transform="rotate(-23 1248.5 923.5)"/><ellipse cx="1257.5" cy="919.3" rx="5.81" ry="3.80" transform="rotate(-23 1257.5 919.3)"/><ellipse cx="1266.5" cy="915.2" rx="5.81" ry="3.80" transform="rotate(-23 1266.5 915.2)"/><ellipse cx="1275.6" cy="911" rx="5.81" ry="3.80" transform="rotate(-23 1275.6 911)"/><ellipse cx="1284.7" cy="906.9" rx="5.22" ry="3.41" transform="rotate(-23 1284.7 906.9)"/><ellipse cx="980.3" cy="1053" rx="5.43" ry="3.55" transform="rotate(-23 980.3 1053)"/><ellipse cx="989.4" cy="1048.8" rx="5.43" ry="3.55" transform="rotate(-23 989.4 1048.8)"/><ellipse cx="998.4" cy="1044.7" rx="5.43" ry="3.55" transform="rotate(-23 998.4 1044.7)"/><ellipse cx="1007.5" cy="1040.5" rx="5.41" ry="3.54" transform="rotate(-23 1007.5 1040.5)"/><ellipse cx="1016.5" cy="1036.4" rx="5.36" ry="3.51" transform="rotate(-23 1016.5 1036.4)"/><ellipse cx="1025.6" cy="1032.2" rx="5.31" ry="3.47" transform="rotate(-23 1025.6 1032.2)"/><ellipse cx="1034.6" cy="1028.1" rx="4.61" ry="3.01" transform="rotate(-23 1034.6 1028.1)"/><ellipse cx="1043.7" cy="1024" rx="4.07" ry="2.66" transform="rotate(-23 1043.7 1024)"/><ellipse cx="1052.7" cy="1019.8" rx="3.79" ry="2.48" transform="rotate(-23 1052.7 1019.8)"/><ellipse cx="1061.8" cy="1015.7" rx="3.56" ry="2.32" transform="rotate(-23 1061.8 1015.7)"/><ellipse cx="1070.8" cy="1011.5" rx="3.29" ry="2.15" transform="rotate(-23 1070.8 1011.5)"/><ellipse cx="1079.9" cy="1007.4" rx="3.00" ry="1.96" transform="rotate(-23 1079.9 1007.4)"/><ellipse cx="1088.9" cy="1003.2" rx="2.68" ry="1.76" transform="rotate(-23 1088.9 1003.2)"/><ellipse cx="1098" cy="999.1" rx="2.32" ry="1.52" transform="rotate(-23 1098 999.1)"/><ellipse cx="1107" cy="994.9" rx="1.93" ry="1.26" transform="rotate(-23 1107 994.9)"/><ellipse cx="1116.1" cy="990.8" rx="1.54" ry="1.01" transform="rotate(-23 1116.1 990.8)"/><ellipse cx="1125.1" cy="986.6" rx="1.04" ry="0.68" transform="rotate(-23 1125.1 986.6)"/><ellipse cx="1170.4" cy="965.9" rx="1.09" ry="0.72" transform="rotate(-23 1170.4 965.9)"/><ellipse cx="1179.4" cy="961.7" rx="1.94" ry="1.27" transform="rotate(-23 1179.4 961.7)"/><ellipse cx="1188.5" cy="957.5" rx="2.54" ry="1.66" transform="rotate(-23 1188.5 957.5)"/><ellipse cx="1197.5" cy="953.4" rx="3.00" ry="1.96" transform="rotate(-23 1197.5 953.4)"/><ellipse cx="1206.6" cy="949.2" rx="4.87" ry="3.19" transform="rotate(-23 1206.6 949.2)"/><ellipse cx="1215.6" cy="945.1" rx="5.66" ry="3.70" transform="rotate(-23 1215.6 945.1)"/><ellipse cx="1224.7" cy="941" rx="5.81" ry="3.80" transform="rotate(-23 1224.7 941)"/><ellipse cx="1233.7" cy="936.8" rx="5.81" ry="3.80" transform="rotate(-23 1233.7 936.8)"/><ellipse cx="983.7" cy="1058" rx="5.43" ry="3.55" transform="rotate(-23 983.7 1058)"/><ellipse cx="992.7" cy="1053.9" rx="5.43" ry="3.55" transform="rotate(-23 992.7 1053.9)"/><ellipse cx="1001.8" cy="1049.8" rx="5.43" ry="3.55" transform="rotate(-23 1001.8 1049.8)"/><ellipse cx="1010.8" cy="1045.6" rx="5.39" ry="3.53" transform="rotate(-23 1010.8 1045.6)"/><ellipse cx="1019.9" cy="1041.5" rx="5.35" ry="3.50" transform="rotate(-23 1019.9 1041.5)"/><ellipse cx="1028.9" cy="1037.3" rx="5.05" ry="3.30" transform="rotate(-23 1028.9 1037.3)"/><ellipse cx="1038" cy="1033.2" rx="3.91" ry="2.56" transform="rotate(-23 1038 1033.2)"/><ellipse cx="1047" cy="1029" rx="3.55" ry="2.32" transform="rotate(-23 1047 1029)"/><ellipse cx="1056" cy="1024.8" rx="3.33" ry="2.17" transform="rotate(-23 1056 1024.8)"/><ellipse cx="1065.1" cy="1020.7" rx="3.10" ry="2.02" transform="rotate(-23 1065.1 1020.7)"/><ellipse cx="1074.2" cy="1016.5" rx="2.83" ry="1.85" transform="rotate(-23 1074.2 1016.5)"/><ellipse cx="1083.2" cy="1012.4" rx="2.57" ry="1.68" transform="rotate(-23 1083.2 1012.4)"/><ellipse cx="1092.2" cy="1008.2" rx="2.25" ry="1.47" transform="rotate(-23 1092.2 1008.2)"/><ellipse cx="1101.3" cy="1004.1" rx="1.91" ry="1.25" transform="rotate(-23 1101.3 1004.1)"/><ellipse cx="1110.3" cy="1000" rx="1.57" ry="1.02" transform="rotate(-23 1110.3 1000)"/><ellipse cx="1119.4" cy="995.8" rx="1.19" ry="0.78" transform="rotate(-23 1119.4 995.8)"/><ellipse cx="1128.5" cy="991.6" rx="0.72" ry="0.47" transform="rotate(-23 1128.5 991.6)"/><ellipse cx="1173.7" cy="970.9" rx="1.44" ry="0.94" transform="rotate(-23 1173.7 970.9)"/><ellipse cx="996.1" cy="1058.9" rx="5.43" ry="3.55" transform="rotate(-23 996.1 1058.9)"/><ellipse cx="1005.1" cy="1054.8" rx="5.42" ry="3.54" transform="rotate(-23 1005.1 1054.8)"/><ellipse cx="1014.2" cy="1050.6" rx="5.38" ry="3.51" transform="rotate(-23 1014.2 1050.6)"/><ellipse cx="1023.2" cy="1046.5" rx="5.33" ry="3.49" transform="rotate(-23 1023.2 1046.5)"/><ellipse cx="1032.2" cy="1042.3" rx="4.79" ry="3.13" transform="rotate(-23 1032.2 1042.3)"/><ellipse cx="1041.3" cy="1038.2" rx="3.28" ry="2.14" transform="rotate(-23 1041.3 1038.2)"/><ellipse cx="1050.3" cy="1034" rx="3.03" ry="1.98" transform="rotate(-23 1050.3 1034)"/><ellipse cx="1059.4" cy="1029.9" rx="2.82" ry="1.84" transform="rotate(-23 1059.4 1029.9)"/><ellipse cx="1068.5" cy="1025.8" rx="2.59" ry="1.69" transform="rotate(-23 1068.5 1025.8)"/><ellipse cx="1077.5" cy="1021.6" rx="2.38" ry="1.56" transform="rotate(-23 1077.5 1021.6)"/><ellipse cx="1086.6" cy="1017.4" rx="2.19" ry="1.43" transform="rotate(-23 1086.6 1017.4)"/><ellipse cx="1095.6" cy="1013.3" rx="1.94" ry="1.27" transform="rotate(-23 1095.6 1013.3)"/><ellipse cx="1104.7" cy="1009.1" rx="1.66" ry="1.09" transform="rotate(-23 1104.7 1009.1)"/><ellipse cx="1113.7" cy="1005" rx="1.37" ry="0.90" transform="rotate(-23 1113.7 1005)"/><ellipse cx="1122.8" cy="1000.8" rx="1.01" ry="0.66" transform="rotate(-23 1122.8 1000.8)"/><ellipse cx="999.4" cy="1064" rx="5.43" ry="3.55" transform="rotate(-23 999.4 1064)"/><ellipse cx="1008.5" cy="1059.8" rx="5.40" ry="3.53" transform="rotate(-23 1008.5 1059.8)"/><ellipse cx="1017.5" cy="1055.7" rx="5.36" ry="3.50" transform="rotate(-23 1017.5 1055.7)"/><ellipse cx="1026.6" cy="1051.5" rx="5.23" ry="3.42" transform="rotate(-23 1026.6 1051.5)"/><ellipse cx="1035.6" cy="1047.4" rx="4.53" ry="2.96" transform="rotate(-23 1035.6 1047.4)"/><ellipse cx="1044.7" cy="1043.2" rx="2.92" ry="1.91" transform="rotate(-23 1044.7 1043.2)"/><ellipse cx="1053.7" cy="1039.1" rx="2.79" ry="1.83" transform="rotate(-23 1053.7 1039.1)"/><ellipse cx="1062.8" cy="1034.9" rx="2.66" ry="1.74" transform="rotate(-23 1062.8 1034.9)"/><ellipse cx="1002.8" cy="1069.1" rx="5.43" ry="3.55" transform="rotate(-23 1002.8 1069.1)"/><ellipse cx="1011.8" cy="1064.9" rx="5.39" ry="3.52" transform="rotate(-23 1011.8 1064.9)"/></g>
<polygon points="346.6,684.6 1112.9,242.2 1769.7,621.4 1003.4,1063.8" fill="none" stroke="#efefef" stroke-width="1.05"/>
<polygon points="346.6,638.3 1003.4,1017.5 1003.4,1033.4 346.6,654.2" fill="#121315" stroke="#efefef" stroke-width="1.05"/>
<polygon points="1003.4,1017.5 1769.7,575.1 1769.7,591 1003.4,1033.4" fill="#121315" stroke="#efefef" stroke-width="1.05"/>
<polygon points="346.6,638.3 1112.9,195.9 1769.7,575.1 1003.4,1017.5" fill="#121315" stroke="#efefef" stroke-width="1.05"/>
<polygon points="346.6,621.3 483.6,700.4 483.6,717.4 346.6,638.3" fill="#121315" stroke="#efefef" stroke-width="1.05"/>
<polygon points="483.6,700.4 1126.9,329 1126.9,346 483.6,717.4" fill="#121315" stroke="none" stroke-width="1.05"/>
<line x1="483.6" y1="717.4" x2="1126.9" y2="346" stroke="#efefef" stroke-width="1.05"/>
<polygon points="346.6,621.3 989.9,249.9 1126.9,329 483.6,700.4" fill="#121315" stroke="none" stroke-width="1.05"/>
<polyline points="483.6,700.4 346.6,621.3 989.9,249.9 1126.9,329" fill="none" stroke="#efefef" stroke-width="1.05"/>
<line x1="483.6" y1="700.4" x2="483.6" y2="717.4" stroke="#efefef" stroke-width="1.05"/>
<line x1="483.6" y1="700.4" x2="702.2" y2="574.2" stroke="#efefef" stroke-width="1.05"/>
<line x1="714.5" y1="567.1" x2="805.5" y2="514.5" stroke="#efefef" stroke-width="1.05"/>
<line x1="817.9" y1="507.4" x2="907.3" y2="455.8" stroke="#efefef" stroke-width="1.05"/>
<line x1="919.6" y1="448.7" x2="1010.6" y2="396.1" stroke="#efefef" stroke-width="1.05"/>
<line x1="1023.1" y1="388.9" x2="1126.9" y2="329" stroke="#efefef" stroke-width="1.05"/>
<line x1="475.6" y1="546.8" x2="612.6" y2="625.9" stroke="#efefef" stroke-width="1.05"/>
<line x1="577.5" y1="488" x2="714.5" y2="567.1" stroke="#efefef" stroke-width="1.05"/>
<line x1="714.5" y1="567.1" x2="714.5" y2="584.1" stroke="#efefef" stroke-width="1.05"/>
<line x1="680.9" y1="428.3" x2="817.9" y2="507.4" stroke="#efefef" stroke-width="1.05"/>
<line x1="817.9" y1="507.4" x2="817.9" y2="524.4" stroke="#efefef" stroke-width="1.05"/>
<line x1="782.6" y1="369.6" x2="919.6" y2="448.7" stroke="#efefef" stroke-width="1.05"/>
<line x1="919.6" y1="448.7" x2="919.6" y2="465.7" stroke="#efefef" stroke-width="1.05"/>
<line x1="886.1" y1="309.8" x2="1023.1" y2="388.9" stroke="#efefef" stroke-width="1.05"/>
<line x1="1023.1" y1="388.9" x2="1023.1" y2="405.9" stroke="#efefef" stroke-width="1.05"/>
<polygon points="745.4,418 783.3,395.9 872.3,447 834.4,469.1" fill="#121315" stroke="#efefef" stroke-width="1.05"/>
<polygon points="745.4,418 834.4,469.1 834.4,471.8 745.4,420.7" fill="#121315" stroke="#efefef" stroke-width="1.05"/>
<polygon points="834.4,469.1 872.3,447 872.3,449.7 834.4,471.8" fill="#121315" stroke="#efefef" stroke-width="1.05"/>
<polygon points="745.4,376.9 834.4,427.3 841.8,461.4 756.5,411.7" fill="#121315" stroke="#efefef" stroke-width="1.05"/>
<line x1="767.7" y1="389.5" x2="777.8" y2="424.1" stroke="#efefef" stroke-width="0.9"/>
<line x1="789.9" y1="402.1" x2="799.2" y2="436.6" stroke="#efefef" stroke-width="0.9"/>
<line x1="812.2" y1="414.7" x2="820.5" y2="449" stroke="#efefef" stroke-width="0.9"/>
<polygon points="834.4,427.3 872.3,405 865.5,447.7 841.8,461.4" fill="#121315" stroke="#efefef" stroke-width="1.05"/>
<line x1="835.7" y1="426.6" x2="843.3" y2="460.5" stroke="#efefef" stroke-width="0.7"/>
<line x1="870.9" y1="405.8" x2="863.7" y2="448.7" stroke="#efefef" stroke-width="0.7"/>
<line x1="836.9" y1="425.8" x2="844.8" y2="459.7" stroke="#efefef" stroke-width="0.7"/>
<line x1="869.6" y1="406.6" x2="861.9" y2="449.8" stroke="#efefef" stroke-width="0.7"/>
<line x1="838.2" y1="425.1" x2="846.2" y2="458.8" stroke="#efefef" stroke-width="0.7"/>
<line x1="868.2" y1="407.4" x2="860.1" y2="450.8" stroke="#efefef" stroke-width="0.7"/>
<line x1="839.4" y1="424.4" x2="847.7" y2="458" stroke="#efefef" stroke-width="0.7"/>
<line x1="866.9" y1="408.1" x2="858.3" y2="451.9" stroke="#efefef" stroke-width="0.7"/>
<line x1="840.7" y1="423.7" x2="849.2" y2="457.1" stroke="#efefef" stroke-width="0.7"/>
<line x1="865.5" y1="408.9" x2="856.5" y2="452.9" stroke="#efefef" stroke-width="0.7"/>
<polygon points="745.4,376.9 783.5,354.6 872.3,405 834.4,427.3" fill="#121315" stroke="#efefef" stroke-width="1.05"/>
<ellipse cx="782.2" cy="377" rx="14.75" ry="8.45" fill="#121315" stroke="#efefef" stroke-width="0.95"/><ellipse cx="782.2" cy="373.5" rx="14.75" ry="8.45" fill="#121315" stroke="#efefef" stroke-width="0.95"/><ellipse cx="782.2" cy="373.5" rx="12.7" ry="7.2" fill="none" stroke="#efefef" stroke-width="0.6" opacity="0.7"/><line x1="786.2" y1="375.8" x2="791.6" y2="379" stroke="#efefef" stroke-width="1.7" stroke-linecap="butt"/><line x1="786.2" y1="371.2" x2="791.6" y2="368" stroke="#efefef" stroke-width="1.7" stroke-linecap="butt"/><line x1="778.2" y1="375.8" x2="772.9" y2="379" stroke="#efefef" stroke-width="1.7" stroke-linecap="butt"/><line x1="778.2" y1="371.2" x2="772.9" y2="368" stroke="#efefef" stroke-width="1.7" stroke-linecap="butt"/><ellipse cx="782.2" cy="373.5" rx="9.9" ry="5.7" fill="none" stroke="#efefef" stroke-width="1.05"/><ellipse cx="782.2" cy="373.5" rx="5.5" ry="3.15" fill="#0c0d0f" stroke="#efefef" stroke-width="1.05"/>
<ellipse cx="809" cy="393" rx="14.75" ry="8.45" fill="#121315" stroke="#efefef" stroke-width="0.95"/><ellipse cx="809" cy="389.5" rx="14.75" ry="8.45" fill="#121315" stroke="#efefef" stroke-width="0.95"/><ellipse cx="809" cy="389.5" rx="12.7" ry="7.2" fill="none" stroke="#efefef" stroke-width="0.6" opacity="0.7"/><line x1="813" y1="391.8" x2="818.4" y2="395" stroke="#efefef" stroke-width="1.7" stroke-linecap="butt"/><line x1="813" y1="387.2" x2="818.4" y2="384" stroke="#efefef" stroke-width="1.7" stroke-linecap="butt"/><line x1="805" y1="391.8" x2="799.6" y2="395" stroke="#efefef" stroke-width="1.7" stroke-linecap="butt"/><line x1="805" y1="387.2" x2="799.6" y2="384" stroke="#efefef" stroke-width="1.7" stroke-linecap="butt"/><ellipse cx="809" cy="389.5" rx="9.9" ry="5.7" fill="none" stroke="#efefef" stroke-width="1.05"/><ellipse cx="809" cy="389.5" rx="5.5" ry="3.15" fill="#0c0d0f" stroke="#efefef" stroke-width="1.05"/>
<ellipse cx="836.8" cy="409.1" rx="14.75" ry="8.45" fill="#121315" stroke="#efefef" stroke-width="0.95"/><ellipse cx="836.8" cy="405.6" rx="14.75" ry="8.45" fill="#121315" stroke="#efefef" stroke-width="0.95"/><ellipse cx="836.8" cy="405.6" rx="12.7" ry="7.2" fill="none" stroke="#efefef" stroke-width="0.6" opacity="0.7"/><line x1="840.8" y1="407.9" x2="846.2" y2="411.1" stroke="#efefef" stroke-width="1.7" stroke-linecap="butt"/><line x1="840.8" y1="403.3" x2="846.2" y2="400.1" stroke="#efefef" stroke-width="1.7" stroke-linecap="butt"/><line x1="832.8" y1="407.9" x2="827.4" y2="411.1" stroke="#efefef" stroke-width="1.7" stroke-linecap="butt"/><line x1="832.8" y1="403.3" x2="827.4" y2="400.1" stroke="#efefef" stroke-width="1.7" stroke-linecap="butt"/><ellipse cx="836.8" cy="405.6" rx="9.9" ry="5.7" fill="none" stroke="#efefef" stroke-width="1.05"/><ellipse cx="836.8" cy="405.6" rx="5.5" ry="3.15" fill="#0c0d0f" stroke="#efefef" stroke-width="1.05"/>
<polygon points="642.3,477.4 680.2,455.3 769.2,506.4 731.3,528.5" fill="#121315" stroke="#efefef" stroke-width="1.05"/>
<polygon points="642.3,477.4 731.3,528.5 731.3,531.2 642.3,480.2" fill="#121315" stroke="#efefef" stroke-width="1.05"/>
<polygon points="731.3,528.5 769.2,506.4 769.2,509.2 731.3,531.2" fill="#121315" stroke="#efefef" stroke-width="1.05"/>
<polygon points="642.3,436.4 731.3,486.8 738.7,520.8 653.4,471.2" fill="#121315" stroke="#efefef" stroke-width="1.05"/>
<line x1="664.6" y1="449" x2="674.7" y2="483.6" stroke="#efefef" stroke-width="0.9"/>
<line x1="686.8" y1="461.6" x2="696.1" y2="496" stroke="#efefef" stroke-width="0.9"/>
<line x1="709.1" y1="474.2" x2="717.4" y2="508.4" stroke="#efefef" stroke-width="0.9"/>
<polygon points="731.3,486.8 769.2,464.4 762.4,507.2 738.7,520.8" fill="#121315" stroke="#efefef" stroke-width="1.05"/>
<line x1="732.6" y1="486" x2="740.2" y2="520" stroke="#efefef" stroke-width="0.7"/>
<line x1="767.8" y1="465.2" x2="760.6" y2="508.2" stroke="#efefef" stroke-width="0.7"/>
<line x1="733.8" y1="485.3" x2="741.7" y2="519.1" stroke="#efefef" stroke-width="0.7"/>
<line x1="766.5" y1="466" x2="758.8" y2="509.2" stroke="#efefef" stroke-width="0.7"/>
<line x1="735.1" y1="484.6" x2="743.1" y2="518.3" stroke="#efefef" stroke-width="0.7"/>
<line x1="765.1" y1="466.8" x2="757" y2="510.3" stroke="#efefef" stroke-width="0.7"/>
<line x1="736.3" y1="483.8" x2="744.6" y2="517.4" stroke="#efefef" stroke-width="0.7"/>
<line x1="763.8" y1="467.6" x2="755.2" y2="511.3" stroke="#efefef" stroke-width="0.7"/>
<line x1="737.6" y1="483.1" x2="746.1" y2="516.6" stroke="#efefef" stroke-width="0.7"/>
<line x1="762.4" y1="468.4" x2="753.4" y2="512.3" stroke="#efefef" stroke-width="0.7"/>
<polygon points="642.3,436.4 680.4,414.1 769.2,464.4 731.3,486.8" fill="#121315" stroke="#efefef" stroke-width="1.05"/>
<ellipse cx="679.1" cy="436.4" rx="14.75" ry="8.45" fill="#121315" stroke="#efefef" stroke-width="0.95"/><ellipse cx="679.1" cy="432.9" rx="14.75" ry="8.45" fill="#121315" stroke="#efefef" stroke-width="0.95"/><ellipse cx="679.1" cy="432.9" rx="12.7" ry="7.2" fill="none" stroke="#efefef" stroke-width="0.6" opacity="0.7"/><line x1="683.1" y1="435.2" x2="688.5" y2="438.4" stroke="#efefef" stroke-width="1.7" stroke-linecap="butt"/><line x1="683.1" y1="430.6" x2="688.5" y2="427.4" stroke="#efefef" stroke-width="1.7" stroke-linecap="butt"/><line x1="675.1" y1="435.2" x2="669.8" y2="438.4" stroke="#efefef" stroke-width="1.7" stroke-linecap="butt"/><line x1="675.1" y1="430.6" x2="669.8" y2="427.4" stroke="#efefef" stroke-width="1.7" stroke-linecap="butt"/><ellipse cx="679.1" cy="432.9" rx="9.9" ry="5.7" fill="none" stroke="#efefef" stroke-width="1.05"/><ellipse cx="679.1" cy="432.9" rx="5.5" ry="3.15" fill="#0c0d0f" stroke="#efefef" stroke-width="1.05"/>
<ellipse cx="705.9" cy="452.4" rx="14.75" ry="8.45" fill="#121315" stroke="#efefef" stroke-width="0.95"/><ellipse cx="705.9" cy="448.9" rx="14.75" ry="8.45" fill="#121315" stroke="#efefef" stroke-width="0.95"/><ellipse cx="705.9" cy="448.9" rx="12.7" ry="7.2" fill="none" stroke="#efefef" stroke-width="0.6" opacity="0.7"/><line x1="709.9" y1="451.2" x2="715.3" y2="454.4" stroke="#efefef" stroke-width="1.7" stroke-linecap="butt"/><line x1="709.9" y1="446.6" x2="715.3" y2="443.4" stroke="#efefef" stroke-width="1.7" stroke-linecap="butt"/><line x1="701.9" y1="451.2" x2="696.5" y2="454.4" stroke="#efefef" stroke-width="1.7" stroke-linecap="butt"/><line x1="701.9" y1="446.6" x2="696.5" y2="443.4" stroke="#efefef" stroke-width="1.7" stroke-linecap="butt"/><ellipse cx="705.9" cy="448.9" rx="9.9" ry="5.7" fill="none" stroke="#efefef" stroke-width="1.05"/><ellipse cx="705.9" cy="448.9" rx="5.5" ry="3.15" fill="#0c0d0f" stroke="#efefef" stroke-width="1.05"/>
<ellipse cx="733.7" cy="468.6" rx="14.75" ry="8.45" fill="#121315" stroke="#efefef" stroke-width="0.95"/><ellipse cx="733.7" cy="465.1" rx="14.75" ry="8.45" fill="#121315" stroke="#efefef" stroke-width="0.95"/><ellipse cx="733.7" cy="465.1" rx="12.7" ry="7.2" fill="none" stroke="#efefef" stroke-width="0.6" opacity="0.7"/><line x1="737.7" y1="467.4" x2="743.1" y2="470.6" stroke="#efefef" stroke-width="1.7" stroke-linecap="butt"/><line x1="737.7" y1="462.8" x2="743.1" y2="459.6" stroke="#efefef" stroke-width="1.7" stroke-linecap="butt"/><line x1="729.7" y1="467.4" x2="724.3" y2="470.6" stroke="#efefef" stroke-width="1.7" stroke-linecap="butt"/><line x1="729.7" y1="462.8" x2="724.3" y2="459.6" stroke="#efefef" stroke-width="1.7" stroke-linecap="butt"/><ellipse cx="733.7" cy="465.1" rx="9.9" ry="5.7" fill="none" stroke="#efefef" stroke-width="1.05"/><ellipse cx="733.7" cy="465.1" rx="5.5" ry="3.15" fill="#0c0d0f" stroke="#efefef" stroke-width="1.05"/>
<polygon points="539.2,536.9 577.1,514.8 666.1,565.9 628.2,588" fill="#121315" stroke="#efefef" stroke-width="1.05"/>
<polygon points="539.2,536.9 628.2,588 628.2,590.7 539.2,539.6" fill="#121315" stroke="#efefef" stroke-width="1.05"/>
<polygon points="628.2,588 666.1,565.9 666.1,568.6 628.2,590.7" fill="#121315" stroke="#efefef" stroke-width="1.05"/>
<polygon points="539.2,495.8 628.2,546.2 635.6,580.3 550.3,530.6" fill="#121315" stroke="#efefef" stroke-width="1.05"/>
<line x1="561.5" y1="508.4" x2="571.6" y2="543" stroke="#efefef" stroke-width="0.9"/>
<line x1="583.7" y1="521" x2="593" y2="555.5" stroke="#efefef" stroke-width="0.9"/>
<line x1="606" y1="533.6" x2="614.3" y2="567.9" stroke="#efefef" stroke-width="0.9"/>
<polygon points="628.2,546.2 666.1,523.9 659.3,566.6 635.6,580.3" fill="#121315" stroke="#efefef" stroke-width="1.05"/>
<line x1="629.5" y1="545.5" x2="637.1" y2="579.4" stroke="#efefef" stroke-width="0.7"/>
<line x1="664.7" y1="524.7" x2="657.5" y2="567.6" stroke="#efefef" stroke-width="0.7"/>
<line x1="630.7" y1="544.7" x2="638.6" y2="578.6" stroke="#efefef" stroke-width="0.7"/>
<line x1="663.4" y1="525.5" x2="655.7" y2="568.7" stroke="#efefef" stroke-width="0.7"/>
<line x1="632" y1="544" x2="640" y2="577.7" stroke="#efefef" stroke-width="0.7"/>
<line x1="662" y1="526.3" x2="653.9" y2="569.7" stroke="#efefef" stroke-width="0.7"/>
<line x1="633.2" y1="543.3" x2="641.5" y2="576.9" stroke="#efefef" stroke-width="0.7"/>
<line x1="660.7" y1="527" x2="652.1" y2="570.8" stroke="#efefef" stroke-width="0.7"/>
<line x1="634.5" y1="542.6" x2="643" y2="576" stroke="#efefef" stroke-width="0.7"/>
<line x1="659.3" y1="527.8" x2="650.3" y2="571.8" stroke="#efefef" stroke-width="0.7"/>
<polygon points="539.2,495.8 577.3,473.5 666.1,523.9 628.2,546.2" fill="#121315" stroke="#efefef" stroke-width="1.05"/>
<ellipse cx="576" cy="495.9" rx="14.75" ry="8.45" fill="#121315" stroke="#efefef" stroke-width="0.95"/><ellipse cx="576" cy="492.4" rx="14.75" ry="8.45" fill="#121315" stroke="#efefef" stroke-width="0.95"/><ellipse cx="576" cy="492.4" rx="12.7" ry="7.2" fill="none" stroke="#efefef" stroke-width="0.6" opacity="0.7"/><line x1="580" y1="494.7" x2="585.4" y2="497.9" stroke="#efefef" stroke-width="1.7" stroke-linecap="butt"/><line x1="580" y1="490.1" x2="585.4" y2="486.9" stroke="#efefef" stroke-width="1.7" stroke-linecap="butt"/><line x1="572" y1="494.7" x2="566.6" y2="497.9" stroke="#efefef" stroke-width="1.7" stroke-linecap="butt"/><line x1="572" y1="490.1" x2="566.6" y2="486.9" stroke="#efefef" stroke-width="1.7" stroke-linecap="butt"/><ellipse cx="576" cy="492.4" rx="9.9" ry="5.7" fill="none" stroke="#efefef" stroke-width="1.05"/><ellipse cx="576" cy="492.4" rx="5.5" ry="3.15" fill="#0c0d0f" stroke="#efefef" stroke-width="1.05"/>
<ellipse cx="602.8" cy="511.9" rx="14.75" ry="8.45" fill="#121315" stroke="#efefef" stroke-width="0.95"/><ellipse cx="602.8" cy="508.4" rx="14.75" ry="8.45" fill="#121315" stroke="#efefef" stroke-width="0.95"/><ellipse cx="602.8" cy="508.4" rx="12.7" ry="7.2" fill="none" stroke="#efefef" stroke-width="0.6" opacity="0.7"/><line x1="606.8" y1="510.7" x2="612.2" y2="513.9" stroke="#efefef" stroke-width="1.7" stroke-linecap="butt"/><line x1="606.8" y1="506.1" x2="612.2" y2="502.9" stroke="#efefef" stroke-width="1.7" stroke-linecap="butt"/><line x1="598.8" y1="510.7" x2="593.4" y2="513.9" stroke="#efefef" stroke-width="1.7" stroke-linecap="butt"/><line x1="598.8" y1="506.1" x2="593.4" y2="502.9" stroke="#efefef" stroke-width="1.7" stroke-linecap="butt"/><ellipse cx="602.8" cy="508.4" rx="9.9" ry="5.7" fill="none" stroke="#efefef" stroke-width="1.05"/><ellipse cx="602.8" cy="508.4" rx="5.5" ry="3.15" fill="#0c0d0f" stroke="#efefef" stroke-width="1.05"/>
<ellipse cx="630.6" cy="528" rx="14.75" ry="8.45" fill="#121315" stroke="#efefef" stroke-width="0.95"/><ellipse cx="630.6" cy="524.5" rx="14.75" ry="8.45" fill="#121315" stroke="#efefef" stroke-width="0.95"/><ellipse cx="630.6" cy="524.5" rx="12.7" ry="7.2" fill="none" stroke="#efefef" stroke-width="0.6" opacity="0.7"/><line x1="634.6" y1="526.8" x2="640" y2="530" stroke="#efefef" stroke-width="1.7" stroke-linecap="butt"/><line x1="634.6" y1="522.2" x2="640" y2="519" stroke="#efefef" stroke-width="1.7" stroke-linecap="butt"/><line x1="626.6" y1="526.8" x2="621.2" y2="530" stroke="#efefef" stroke-width="1.7" stroke-linecap="butt"/><line x1="626.6" y1="522.2" x2="621.2" y2="519" stroke="#efefef" stroke-width="1.7" stroke-linecap="butt"/><ellipse cx="630.6" cy="524.5" rx="9.9" ry="5.7" fill="none" stroke="#efefef" stroke-width="1.05"/><ellipse cx="630.6" cy="524.5" rx="5.5" ry="3.15" fill="#0c0d0f" stroke="#efefef" stroke-width="1.05"/>
<polygon points="1126.6,250.9 1550.6,495.7 1550.6,591 1126.6,346.2" fill="#121315" stroke="#efefef" stroke-width="1.05"/>
<polygon points="1550.6,495.7 1673.9,424.5 1673.9,519.8 1550.6,591" fill="#121315" stroke="#efefef" stroke-width="1.05"/>
<polygon points="1126.6,250.9 1249.9,179.7 1673.9,424.5 1550.6,495.7" fill="#121315" stroke="#efefef" stroke-width="1.05"/>
<clipPath id="cpb"><polygon points="1550.6,495.7 1673.9,424.5 1673.9,519.8 1550.6,591"/></clipPath>
<g clip-path="url(#cpb)">
<polygon points="1650.2,487 1650,483.7 1649.7,480.6 1649,477.7 1648.2,475 1647.1,472.6 1645.7,470.4 1644.2,468.4 1642.4,466.8 1640.5,465.5 1638.3,464.5 1636,463.7 1633.6,463.4 1631,463.3 1628.3,463.6 1625.6,464.1 1622.8,465.1 1619.9,466.3 1617,467.8 1614.1,469.6 1611.2,471.7 1608.4,474.1 1605.7,476.7 1603,479.5 1600.4,482.5 1598,485.7 1595.7,489.1 1593.5,492.6 1591.6,496.2 1589.8,499.8 1588.3,503.5 1586.9,507.3 1585.8,511 1585,514.7 1584.3,518.3 1584,521.8 1583.8,525.2 1584,528.5 1584.3,531.6 1585,534.5 1585.8,537.2 1586.9,539.6 1588.3,541.8 1589.8,543.8 1591.6,545.4 1593.5,546.7 1595.7,547.7 1598,548.5 1600.4,548.8 1603,548.9 1605.7,548.6 1608.4,548.1 1611.2,547.1 1614.1,545.9 1617,544.4 1619.9,542.6 1622.8,540.5 1625.6,538.1 1628.3,535.5 1631,532.7 1633.6,529.7 1636,526.5 1638.3,523.1 1640.5,519.6 1642.4,516 1644.2,512.4 1645.7,508.7 1647.1,504.9 1648.2,501.2 1649,497.5 1649.7,493.9 1650,490.4" fill="none" stroke="#efefef" stroke-width="0.9"/>
<polygon points="1647.3,488.6 1647.2,485.6 1646.8,482.8 1646.3,480.1 1645.5,477.7 1644.5,475.4 1643.2,473.4 1641.8,471.7 1640.2,470.2 1638.4,469 1636.5,468 1634.4,467.4 1632.2,467 1629.8,467 1627.4,467.2 1624.8,467.8 1622.3,468.6 1619.6,469.7 1617,471.1 1614.4,472.8 1611.7,474.7 1609.2,476.8 1606.6,479.2 1604.2,481.8 1601.8,484.5 1599.6,487.5 1597.5,490.5 1595.6,493.7 1593.8,497 1592.2,500.4 1590.8,503.8 1589.5,507.2 1588.5,510.6 1587.7,513.9 1587.2,517.3 1586.8,520.5 1586.7,523.6 1586.8,526.6 1587.2,529.4 1587.7,532.1 1588.5,534.5 1589.5,536.8 1590.8,538.8 1592.2,540.5 1593.8,542 1595.6,543.2 1597.5,544.2 1599.6,544.8 1601.8,545.2 1604.2,545.2 1606.6,545 1609.2,544.4 1611.7,543.6 1614.4,542.5 1617,541.1 1619.6,539.4 1622.3,537.5 1624.8,535.4 1627.4,533 1629.8,530.4 1632.2,527.7 1634.4,524.7 1636.5,521.7 1638.4,518.5 1640.2,515.2 1641.8,511.8 1643.2,508.4 1644.5,505 1645.5,501.6 1646.3,498.3 1646.8,494.9 1647.2,491.7" fill="none" stroke="#efefef" stroke-width="0.9"/>
</g>
<path d="M1610.6 486.6 L1628.6 497.6 Q1630.6 499.2 1628.4 500.6 L1620.6 505.6 Q1619.4 506.6 1619.8 508 L1624 525.4 Q1623.6 529.6 1620.2 527.8 L1603.6 516 Q1601.6 514 1604 512.4 L1611.6 508 Q1612.8 507.2 1612.4 505.6 L1608.2 489 Q1608 485.6 1610.6 486.6 Z" fill="none" stroke="#efefef" stroke-width="0.95"/>
<polygon points="1126.2,378.3 1139.7,386.1 1139.7,437.1 1126.2,429.3" fill="#121315" stroke="#efefef" stroke-width="1.05"/>
<polygon points="1126.2,378.3 1149.6,364.8 1163,372.6 1139.7,386.1" fill="#121315" stroke="#efefef" stroke-width="1.05"/>
<line x1="1128.3" y1="379.5" x2="1128.3" y2="430.3" stroke="#efefef" stroke-width="0.8"/>
<polygon points="1139.7,386.1 1153.1,393.8 1153.1,444.8 1139.7,437.1" fill="#121315" stroke="#efefef" stroke-width="1.05"/>
<polygon points="1139.7,386.1 1163,372.6 1176.5,380.3 1153.1,393.8" fill="#121315" stroke="#efefef" stroke-width="1.05"/>
<line x1="1141.2" y1="387" x2="1141.2" y2="434.6" stroke="#efefef" stroke-width="0.9" opacity="0.95"/>
<line x1="1138.1" y1="391.1" x2="1138.1" y2="430.1" stroke="#efefef" stroke-width="0.9" opacity="0.7"/>
<polygon points="1153.1,393.8 1166.5,401.6 1166.5,452.6 1153.1,444.8" fill="#121315" stroke="#efefef" stroke-width="1.05"/>
<polygon points="1153.1,393.8 1176.5,380.3 1189.9,388.1 1166.5,401.6" fill="#121315" stroke="#efefef" stroke-width="1.05"/>
<line x1="1154.7" y1="394.7" x2="1154.7" y2="442.3" stroke="#efefef" stroke-width="0.9" opacity="0.95"/>
<line x1="1151.5" y1="398.8" x2="1151.5" y2="437.8" stroke="#efefef" stroke-width="0.9" opacity="0.7"/>
<polygon points="1166.5,401.6 1180,409.4 1180,460.4 1166.5,452.6" fill="#121315" stroke="#efefef" stroke-width="1.05"/>
<polygon points="1166.5,401.6 1189.9,388.1 1203.4,395.9 1180,409.4" fill="#121315" stroke="#efefef" stroke-width="1.05"/>
<line x1="1168.1" y1="402.5" x2="1168.1" y2="450.1" stroke="#efefef" stroke-width="0.9" opacity="0.95"/>
<line x1="1165" y1="406.6" x2="1165" y2="445.6" stroke="#efefef" stroke-width="0.9" opacity="0.7"/>
<polygon points="1180,409.4 1193.5,417.1 1193.5,468.1 1180,460.4" fill="#121315" stroke="#efefef" stroke-width="1.05"/>
<polygon points="1180,409.4 1203.4,395.9 1216.8,403.6 1193.5,417.1" fill="#121315" stroke="#efefef" stroke-width="1.05"/>
<line x1="1181.6" y1="410.3" x2="1181.6" y2="457.9" stroke="#efefef" stroke-width="0.9" opacity="0.95"/>
<line x1="1178.4" y1="414.4" x2="1178.4" y2="453.4" stroke="#efefef" stroke-width="0.9" opacity="0.7"/>
<polygon points="1193.5,417.1 1206.9,424.9 1206.9,475.9 1193.5,468.1" fill="#121315" stroke="#efefef" stroke-width="1.05"/>
<polygon points="1193.5,417.1 1216.8,403.6 1230.3,411.4 1206.9,424.9" fill="#121315" stroke="#efefef" stroke-width="1.05"/>
<line x1="1195" y1="418" x2="1195" y2="465.6" stroke="#efefef" stroke-width="0.9" opacity="0.95"/>
<line x1="1191.9" y1="422.1" x2="1191.9" y2="461.1" stroke="#efefef" stroke-width="0.9" opacity="0.7"/>
<polygon points="1206.9,424.9 1220.3,432.7 1220.3,483.7 1206.9,475.9" fill="#121315" stroke="#efefef" stroke-width="1.05"/>
<polygon points="1206.9,424.9 1230.3,411.4 1243.8,419.1 1220.3,432.7" fill="#121315" stroke="#efefef" stroke-width="1.05"/>
<line x1="1208.5" y1="425.8" x2="1208.5" y2="473.4" stroke="#efefef" stroke-width="0.9" opacity="0.95"/>
<line x1="1205.3" y1="429.9" x2="1205.3" y2="468.9" stroke="#efefef" stroke-width="0.9" opacity="0.7"/>
<polygon points="1220.3,432.7 1233.8,440.4 1233.8,491.4 1220.3,483.7" fill="#121315" stroke="#efefef" stroke-width="1.05"/>
<polygon points="1220.3,432.7 1243.8,419.1 1257.2,426.9 1233.8,440.4" fill="#121315" stroke="#efefef" stroke-width="1.05"/>
<line x1="1221.9" y1="433.6" x2="1221.9" y2="481.2" stroke="#efefef" stroke-width="0.9" opacity="0.95"/>
<line x1="1218.8" y1="437.7" x2="1218.8" y2="476.7" stroke="#efefef" stroke-width="0.9" opacity="0.7"/>
<polygon points="1233.8,440.4 1247.2,448.2 1247.2,499.2 1233.8,491.4" fill="#121315" stroke="#efefef" stroke-width="1.05"/>
<polygon points="1233.8,440.4 1257.2,426.9 1270.7,434.7 1247.2,448.2" fill="#121315" stroke="#efefef" stroke-width="1.05"/>
<line x1="1235.4" y1="441.3" x2="1235.4" y2="488.9" stroke="#efefef" stroke-width="0.9" opacity="0.95"/>
<line x1="1232.2" y1="445.4" x2="1232.2" y2="484.4" stroke="#efefef" stroke-width="0.9" opacity="0.7"/>
<polygon points="1247.2,448.2 1260.7,456 1260.7,507 1247.2,499.2" fill="#121315" stroke="#efefef" stroke-width="1.05"/>
<polygon points="1247.2,448.2 1270.7,434.7 1284.1,442.4 1260.7,456" fill="#121315" stroke="#efefef" stroke-width="1.05"/>
<line x1="1248.8" y1="449.1" x2="1248.8" y2="496.7" stroke="#efefef" stroke-width="0.9" opacity="0.95"/>
<line x1="1245.7" y1="453.2" x2="1245.7" y2="492.2" stroke="#efefef" stroke-width="0.9" opacity="0.7"/>
<polygon points="1260.7,456 1274.2,463.7 1274.2,514.7 1260.7,507" fill="#121315" stroke="#efefef" stroke-width="1.05"/>
<polygon points="1260.7,456 1284.1,442.4 1297.5,450.2 1274.2,463.7" fill="#121315" stroke="#efefef" stroke-width="1.05"/>
<line x1="1262.3" y1="456.9" x2="1262.3" y2="504.5" stroke="#efefef" stroke-width="0.9" opacity="0.95"/>
<line x1="1259.1" y1="461" x2="1259.1" y2="500" stroke="#efefef" stroke-width="0.9" opacity="0.7"/>
<polygon points="1274.2,463.7 1287.6,471.5 1287.6,522.5 1274.2,514.7" fill="#121315" stroke="#efefef" stroke-width="1.05"/>
<polygon points="1274.2,463.7 1297.5,450.2 1311,458 1287.6,471.5" fill="#121315" stroke="#efefef" stroke-width="1.05"/>
<line x1="1275.8" y1="464.6" x2="1275.8" y2="512.2" stroke="#efefef" stroke-width="0.9" opacity="0.95"/>
<line x1="1272.6" y1="468.7" x2="1272.6" y2="507.7" stroke="#efefef" stroke-width="0.9" opacity="0.7"/>
<polygon points="1287.6,471.5 1301,479.2 1301,530.2 1287.6,522.5" fill="#121315" stroke="#efefef" stroke-width="1.05"/>
<polygon points="1287.6,471.5 1311,458 1324.4,465.7 1301,479.2" fill="#121315" stroke="#efefef" stroke-width="1.05"/>
<line x1="1289.2" y1="472.4" x2="1289.2" y2="520" stroke="#efefef" stroke-width="0.9" opacity="0.95"/>
<line x1="1286" y1="476.5" x2="1286" y2="515.5" stroke="#efefef" stroke-width="0.9" opacity="0.7"/>
<polygon points="1301,479.2 1314.5,487 1314.5,538 1301,530.2" fill="#121315" stroke="#efefef" stroke-width="1.05"/>
<polygon points="1301,479.2 1324.4,465.7 1337.9,473.5 1314.5,487" fill="#121315" stroke="#efefef" stroke-width="1.05"/>
<line x1="1302.6" y1="480.1" x2="1302.6" y2="527.7" stroke="#efefef" stroke-width="0.9" opacity="0.95"/>
<line x1="1299.5" y1="484.2" x2="1299.5" y2="523.2" stroke="#efefef" stroke-width="0.9" opacity="0.7"/>
<polygon points="1314.5,487 1328,494.8 1328,545.8 1314.5,538" fill="#121315" stroke="#efefef" stroke-width="1.05"/>
<polygon points="1314.5,487 1337.9,473.5 1351.3,481.3 1328,494.8" fill="#121315" stroke="#efefef" stroke-width="1.05"/>
<line x1="1316.1" y1="487.9" x2="1316.1" y2="535.5" stroke="#efefef" stroke-width="0.9" opacity="0.95"/>
<line x1="1312.9" y1="492" x2="1312.9" y2="531" stroke="#efefef" stroke-width="0.9" opacity="0.7"/>
<polygon points="1328,494.8 1341.4,502.5 1341.4,553.5 1328,545.8" fill="#121315" stroke="#efefef" stroke-width="1.05"/>
<polygon points="1328,494.8 1351.3,481.3 1364.8,489 1341.4,502.5" fill="#121315" stroke="#efefef" stroke-width="1.05"/>
<line x1="1329.5" y1="495.7" x2="1329.5" y2="543.3" stroke="#efefef" stroke-width="0.9" opacity="0.95"/>
<line x1="1326.4" y1="499.8" x2="1326.4" y2="538.8" stroke="#efefef" stroke-width="0.9" opacity="0.7"/>
<polygon points="1341.4,502.5 1354.8,510.3 1354.8,561.3 1341.4,553.5" fill="#121315" stroke="#efefef" stroke-width="1.05"/>
<polygon points="1341.4,502.5 1364.8,489 1378.2,496.8 1354.8,510.3" fill="#121315" stroke="#efefef" stroke-width="1.05"/>
<line x1="1343" y1="503.4" x2="1343" y2="551" stroke="#efefef" stroke-width="0.9" opacity="0.95"/>
<line x1="1339.8" y1="507.5" x2="1339.8" y2="546.5" stroke="#efefef" stroke-width="0.9" opacity="0.7"/>
<polygon points="1354.8,510.3 1368.3,518.1 1368.3,569.1 1354.8,561.3" fill="#121315" stroke="#efefef" stroke-width="1.05"/>
<polygon points="1354.8,510.3 1378.2,496.8 1391.7,504.6 1368.3,518.1" fill="#121315" stroke="#efefef" stroke-width="1.05"/>
<line x1="1356.4" y1="511.2" x2="1356.4" y2="558.8" stroke="#efefef" stroke-width="0.9" opacity="0.95"/>
<line x1="1353.2" y1="515.3" x2="1353.2" y2="554.3" stroke="#efefef" stroke-width="0.9" opacity="0.7"/>
<polygon points="1368.3,518.1 1381.8,525.8 1381.8,576.8 1368.3,569.1" fill="#121315" stroke="#efefef" stroke-width="1.05"/>
<polygon points="1368.3,518.1 1391.7,504.6 1405.2,512.3 1381.8,525.8" fill="#121315" stroke="#efefef" stroke-width="1.05"/>
<line x1="1369.9" y1="519" x2="1369.9" y2="566.6" stroke="#efefef" stroke-width="0.9" opacity="0.95"/>
<line x1="1366.7" y1="523.1" x2="1366.7" y2="562.1" stroke="#efefef" stroke-width="0.9" opacity="0.7"/>
<polygon points="1381.8,525.8 1395.2,533.6 1395.2,584.6 1381.8,576.8" fill="#121315" stroke="#efefef" stroke-width="1.05"/>
<polygon points="1395.2,533.6 1418.6,520.1 1418.6,571.1 1395.2,584.6" fill="#121315" stroke="#efefef" stroke-width="1.05"/>
<line x1="1397" y1="534.6" x2="1397" y2="583.6" stroke="#efefef" stroke-width="0.8" opacity="0.8"/>
<line x1="1416.8" y1="521.1" x2="1416.8" y2="572.1" stroke="#efefef" stroke-width="0.8" opacity="0.8"/>
<polygon points="1381.8,525.8 1405.2,512.3 1418.6,520.1 1395.2,533.6" fill="#121315" stroke="#efefef" stroke-width="1.05"/>
<line x1="1383.3" y1="526.7" x2="1383.3" y2="574.3" stroke="#efefef" stroke-width="0.9" opacity="0.95"/>
<line x1="1380.2" y1="530.8" x2="1380.2" y2="569.8" stroke="#efefef" stroke-width="0.9" opacity="0.7"/>
<line x1="1128.6" y1="428.5" x2="1395.2" y2="582.4" stroke="#efefef" stroke-width="0.8"/>
<polygon points="1080.5,404.7 1094,412.4 1094,463.4 1080.5,455.7" fill="#121315" stroke="#efefef" stroke-width="1.05"/>
<polygon points="1080.5,404.7 1103.9,391.2 1117.3,398.9 1094,412.4" fill="#121315" stroke="#efefef" stroke-width="1.05"/>
<line x1="1082.6" y1="405.9" x2="1082.6" y2="456.7" stroke="#efefef" stroke-width="0.8"/>
<polygon points="1094,412.4 1107.4,420.2 1107.4,471.2 1094,463.4" fill="#121315" stroke="#efefef" stroke-width="1.05"/>
<polygon points="1094,412.4 1117.3,398.9 1130.8,406.7 1107.4,420.2" fill="#121315" stroke="#efefef" stroke-width="1.05"/>
<line x1="1095.5" y1="413.3" x2="1095.5" y2="460.9" stroke="#efefef" stroke-width="0.9" opacity="0.95"/>
<line x1="1092.4" y1="417.4" x2="1092.4" y2="456.4" stroke="#efefef" stroke-width="0.9" opacity="0.7"/>
<polygon points="1107.4,420.2 1120.8,428 1120.8,479 1107.4,471.2" fill="#121315" stroke="#efefef" stroke-width="1.05"/>
<polygon points="1107.4,420.2 1130.8,406.7 1144.2,414.5 1120.8,428" fill="#121315" stroke="#efefef" stroke-width="1.05"/>
<line x1="1109" y1="421.1" x2="1109" y2="468.7" stroke="#efefef" stroke-width="0.9" opacity="0.95"/>
<line x1="1105.8" y1="425.2" x2="1105.8" y2="464.2" stroke="#efefef" stroke-width="0.9" opacity="0.7"/>
<polygon points="1120.8,428 1134.3,435.7 1134.3,486.7 1120.8,479" fill="#121315" stroke="#efefef" stroke-width="1.05"/>
<polygon points="1120.8,428 1144.2,414.5 1157.7,422.2 1134.3,435.7" fill="#121315" stroke="#efefef" stroke-width="1.05"/>
<line x1="1122.4" y1="428.9" x2="1122.4" y2="476.5" stroke="#efefef" stroke-width="0.9" opacity="0.95"/>
<line x1="1119.2" y1="433" x2="1119.2" y2="472" stroke="#efefef" stroke-width="0.9" opacity="0.7"/>
<polygon points="1134.3,435.7 1147.8,443.5 1147.8,494.5 1134.3,486.7" fill="#121315" stroke="#efefef" stroke-width="1.05"/>
<polygon points="1134.3,435.7 1157.7,422.2 1171.2,430 1147.8,443.5" fill="#121315" stroke="#efefef" stroke-width="1.05"/>
<line x1="1135.9" y1="436.6" x2="1135.9" y2="484.2" stroke="#efefef" stroke-width="0.9" opacity="0.95"/>
<line x1="1132.7" y1="440.7" x2="1132.7" y2="479.7" stroke="#efefef" stroke-width="0.9" opacity="0.7"/>
<polygon points="1147.8,443.5 1161.2,451.3 1161.2,502.3 1147.8,494.5" fill="#121315" stroke="#efefef" stroke-width="1.05"/>
<polygon points="1147.8,443.5 1171.2,430 1184.6,437.8 1161.2,451.3" fill="#121315" stroke="#efefef" stroke-width="1.05"/>
<line x1="1149.3" y1="444.4" x2="1149.3" y2="492" stroke="#efefef" stroke-width="0.9" opacity="0.95"/>
<line x1="1146.2" y1="448.5" x2="1146.2" y2="487.5" stroke="#efefef" stroke-width="0.9" opacity="0.7"/>
<polygon points="1161.2,451.3 1174.7,459 1174.7,510 1161.2,502.3" fill="#121315" stroke="#efefef" stroke-width="1.05"/>
<polygon points="1161.2,451.3 1184.6,437.8 1198,445.5 1174.7,459" fill="#121315" stroke="#efefef" stroke-width="1.05"/>
<line x1="1162.8" y1="452.2" x2="1162.8" y2="499.8" stroke="#efefef" stroke-width="0.9" opacity="0.95"/>
<line x1="1159.6" y1="456.3" x2="1159.6" y2="495.3" stroke="#efefef" stroke-width="0.9" opacity="0.7"/>
<polygon points="1174.7,459 1188.1,466.8 1188.1,517.8 1174.7,510" fill="#121315" stroke="#efefef" stroke-width="1.05"/>
<polygon points="1174.7,459 1198,445.5 1211.5,453.3 1188.1,466.8" fill="#121315" stroke="#efefef" stroke-width="1.05"/>
<line x1="1176.2" y1="459.9" x2="1176.2" y2="507.5" stroke="#efefef" stroke-width="0.9" opacity="0.95"/>
<line x1="1173.1" y1="464" x2="1173.1" y2="503" stroke="#efefef" stroke-width="0.9" opacity="0.7"/>
<polygon points="1188.1,466.8 1201.6,474.6 1201.6,525.6 1188.1,517.8" fill="#121315" stroke="#efefef" stroke-width="1.05"/>
<polygon points="1188.1,466.8 1211.5,453.3 1225,461.1 1201.6,474.6" fill="#121315" stroke="#efefef" stroke-width="1.05"/>
<line x1="1189.7" y1="467.7" x2="1189.7" y2="515.3" stroke="#efefef" stroke-width="0.9" opacity="0.95"/>
<line x1="1186.5" y1="471.8" x2="1186.5" y2="510.8" stroke="#efefef" stroke-width="0.9" opacity="0.7"/>
<polygon points="1201.6,474.6 1215,482.3 1215,533.3 1201.6,525.6" fill="#121315" stroke="#efefef" stroke-width="1.05"/>
<polygon points="1201.6,474.6 1225,461.1 1238.4,468.8 1215,482.3" fill="#121315" stroke="#efefef" stroke-width="1.05"/>
<line x1="1203.2" y1="475.5" x2="1203.2" y2="523.1" stroke="#efefef" stroke-width="0.9" opacity="0.95"/>
<line x1="1200" y1="479.6" x2="1200" y2="518.6" stroke="#efefef" stroke-width="0.9" opacity="0.7"/>
<polygon points="1215,482.3 1228.5,490.1 1228.5,541.1 1215,533.3" fill="#121315" stroke="#efefef" stroke-width="1.05"/>
<polygon points="1215,482.3 1238.4,468.8 1251.8,476.6 1228.5,490.1" fill="#121315" stroke="#efefef" stroke-width="1.05"/>
<line x1="1216.6" y1="483.2" x2="1216.6" y2="530.8" stroke="#efefef" stroke-width="0.9" opacity="0.95"/>
<line x1="1213.4" y1="487.3" x2="1213.4" y2="526.3" stroke="#efefef" stroke-width="0.9" opacity="0.7"/>
<polygon points="1228.5,490.1 1241.9,497.9 1241.9,548.9 1228.5,541.1" fill="#121315" stroke="#efefef" stroke-width="1.05"/>
<polygon points="1228.5,490.1 1251.8,476.6 1265.3,484.4 1241.9,497.9" fill="#121315" stroke="#efefef" stroke-width="1.05"/>
<line x1="1230" y1="491" x2="1230" y2="538.6" stroke="#efefef" stroke-width="0.9" opacity="0.95"/>
<line x1="1226.9" y1="495.1" x2="1226.9" y2="534.1" stroke="#efefef" stroke-width="0.9" opacity="0.7"/>
<polygon points="1241.9,497.9 1255.3,505.6 1255.3,556.6 1241.9,548.9" fill="#121315" stroke="#efefef" stroke-width="1.05"/>
<polygon points="1241.9,497.9 1265.3,484.4 1278.8,492.1 1255.3,505.6" fill="#121315" stroke="#efefef" stroke-width="1.05"/>
<line x1="1243.5" y1="498.8" x2="1243.5" y2="546.4" stroke="#efefef" stroke-width="0.9" opacity="0.95"/>
<line x1="1240.3" y1="502.9" x2="1240.3" y2="541.9" stroke="#efefef" stroke-width="0.9" opacity="0.7"/>
<polygon points="1255.3,505.6 1268.8,513.4 1268.8,564.4 1255.3,556.6" fill="#121315" stroke="#efefef" stroke-width="1.05"/>
<polygon points="1255.3,505.6 1278.8,492.1 1292.2,499.9 1268.8,513.4" fill="#121315" stroke="#efefef" stroke-width="1.05"/>
<line x1="1256.9" y1="506.5" x2="1256.9" y2="554.1" stroke="#efefef" stroke-width="0.9" opacity="0.95"/>
<line x1="1253.8" y1="510.6" x2="1253.8" y2="549.6" stroke="#efefef" stroke-width="0.9" opacity="0.7"/>
<polygon points="1268.8,513.4 1282.2,521.2 1282.2,572.2 1268.8,564.4" fill="#121315" stroke="#efefef" stroke-width="1.05"/>
<polygon points="1268.8,513.4 1292.2,499.9 1305.7,507.7 1282.2,521.2" fill="#121315" stroke="#efefef" stroke-width="1.05"/>
<line x1="1270.4" y1="514.3" x2="1270.4" y2="561.9" stroke="#efefef" stroke-width="0.9" opacity="0.95"/>
<line x1="1267.2" y1="518.4" x2="1267.2" y2="557.4" stroke="#efefef" stroke-width="0.9" opacity="0.7"/>
<polygon points="1282.2,521.2 1295.7,528.9 1295.7,579.9 1282.2,572.2" fill="#121315" stroke="#efefef" stroke-width="1.05"/>
<polygon points="1282.2,521.2 1305.7,507.7 1319.1,515.4 1295.7,528.9" fill="#121315" stroke="#efefef" stroke-width="1.05"/>
<line x1="1283.8" y1="522.1" x2="1283.8" y2="569.7" stroke="#efefef" stroke-width="0.9" opacity="0.95"/>
<line x1="1280.7" y1="526.2" x2="1280.7" y2="565.2" stroke="#efefef" stroke-width="0.9" opacity="0.7"/>
<polygon points="1295.7,528.9 1309.2,536.7 1309.2,587.7 1295.7,579.9" fill="#121315" stroke="#efefef" stroke-width="1.05"/>
<polygon points="1295.7,528.9 1319.1,515.4 1332.5,523.2 1309.2,536.7" fill="#121315" stroke="#efefef" stroke-width="1.05"/>
<line x1="1297.3" y1="529.8" x2="1297.3" y2="577.4" stroke="#efefef" stroke-width="0.9" opacity="0.95"/>
<line x1="1294.1" y1="533.9" x2="1294.1" y2="572.9" stroke="#efefef" stroke-width="0.9" opacity="0.7"/>
<polygon points="1309.2,536.7 1322.6,544.5 1322.6,595.5 1309.2,587.7" fill="#121315" stroke="#efefef" stroke-width="1.05"/>
<polygon points="1309.2,536.7 1332.5,523.2 1346,531 1322.6,544.5" fill="#121315" stroke="#efefef" stroke-width="1.05"/>
<line x1="1310.8" y1="537.6" x2="1310.8" y2="585.2" stroke="#efefef" stroke-width="0.9" opacity="0.95"/>
<line x1="1307.6" y1="541.7" x2="1307.6" y2="580.7" stroke="#efefef" stroke-width="0.9" opacity="0.7"/>
<polygon points="1322.6,544.5 1336.1,552.2 1336.1,603.2 1322.6,595.5" fill="#121315" stroke="#efefef" stroke-width="1.05"/>
<polygon points="1322.6,544.5 1346,531 1359.5,538.7 1336.1,552.2" fill="#121315" stroke="#efefef" stroke-width="1.05"/>
<line x1="1324.2" y1="545.4" x2="1324.2" y2="593" stroke="#efefef" stroke-width="0.9" opacity="0.95"/>
<line x1="1321" y1="549.5" x2="1321" y2="588.5" stroke="#efefef" stroke-width="0.9" opacity="0.7"/>
<polygon points="1336.1,552.2 1349.5,560 1349.5,611 1336.1,603.2" fill="#121315" stroke="#efefef" stroke-width="1.05"/>
<polygon points="1349.5,560 1372.9,546.5 1372.9,597.5 1349.5,611" fill="#121315" stroke="#efefef" stroke-width="1.05"/>
<line x1="1351.3" y1="561" x2="1351.3" y2="610" stroke="#efefef" stroke-width="0.8" opacity="0.8"/>
<line x1="1371.1" y1="547.5" x2="1371.1" y2="598.5" stroke="#efefef" stroke-width="0.8" opacity="0.8"/>
<polygon points="1336.1,552.2 1359.5,538.7 1372.9,546.5 1349.5,560" fill="#121315" stroke="#efefef" stroke-width="1.05"/>
<line x1="1337.7" y1="553.1" x2="1337.7" y2="600.7" stroke="#efefef" stroke-width="0.9" opacity="0.95"/>
<line x1="1334.5" y1="557.2" x2="1334.5" y2="596.2" stroke="#efefef" stroke-width="0.9" opacity="0.7"/>
<line x1="1082.9" y1="454.9" x2="1349.5" y2="608.8" stroke="#efefef" stroke-width="0.8"/>
<polygon points="1006.4,447.5 1019.9,455.2 1019.9,506.2 1006.4,498.5" fill="#121315" stroke="#efefef" stroke-width="1.05"/>
<polygon points="1006.4,447.5 1029.8,434 1043.2,441.7 1019.9,455.2" fill="#121315" stroke="#efefef" stroke-width="1.05"/>
<line x1="1008.5" y1="448.7" x2="1008.5" y2="499.5" stroke="#efefef" stroke-width="0.8"/>
<polygon points="1019.9,455.2 1033.3,463 1033.3,514 1019.9,506.2" fill="#121315" stroke="#efefef" stroke-width="1.05"/>
<polygon points="1019.9,455.2 1043.2,441.7 1056.7,449.5 1033.3,463" fill="#121315" stroke="#efefef" stroke-width="1.05"/>
<line x1="1021.5" y1="456.1" x2="1021.5" y2="503.7" stroke="#efefef" stroke-width="0.9" opacity="0.95"/>
<line x1="1018.2" y1="460.2" x2="1018.2" y2="499.2" stroke="#efefef" stroke-width="0.9" opacity="0.7"/>
<polygon points="1033.3,463 1046.8,470.8 1046.8,521.8 1033.3,514" fill="#121315" stroke="#efefef" stroke-width="1.05"/>
<polygon points="1033.3,463 1056.7,449.5 1070.2,457.3 1046.8,470.8" fill="#121315" stroke="#efefef" stroke-width="1.05"/>
<line x1="1034.9" y1="463.9" x2="1034.9" y2="511.5" stroke="#efefef" stroke-width="0.9" opacity="0.95"/>
<line x1="1031.7" y1="468" x2="1031.7" y2="507" stroke="#efefef" stroke-width="0.9" opacity="0.7"/>
<polygon points="1046.8,470.8 1060.2,478.5 1060.2,529.5 1046.8,521.8" fill="#121315" stroke="#efefef" stroke-width="1.05"/>
<polygon points="1046.8,470.8 1070.2,457.3 1083.6,465 1060.2,478.5" fill="#121315" stroke="#efefef" stroke-width="1.05"/>
<line x1="1048.3" y1="471.7" x2="1048.3" y2="519.3" stroke="#efefef" stroke-width="0.9" opacity="0.95"/>
<line x1="1045.2" y1="475.8" x2="1045.2" y2="514.8" stroke="#efefef" stroke-width="0.9" opacity="0.7"/>
<polygon points="1060.2,478.5 1073.7,486.3 1073.7,537.3 1060.2,529.5" fill="#121315" stroke="#efefef" stroke-width="1.05"/>
<polygon points="1060.2,478.5 1083.6,465 1097.1,472.8 1073.7,486.3" fill="#121315" stroke="#efefef" stroke-width="1.05"/>
<line x1="1061.8" y1="479.4" x2="1061.8" y2="527" stroke="#efefef" stroke-width="0.9" opacity="0.95"/>
<line x1="1058.6" y1="483.5" x2="1058.6" y2="522.5" stroke="#efefef" stroke-width="0.9" opacity="0.7"/>
<polygon points="1073.7,486.3 1087.1,494.1 1087.1,545.1 1073.7,537.3" fill="#121315" stroke="#efefef" stroke-width="1.05"/>
<polygon points="1073.7,486.3 1097.1,472.8 1110.5,480.5 1087.1,494.1" fill="#121315" stroke="#efefef" stroke-width="1.05"/>
<line x1="1075.2" y1="487.2" x2="1075.2" y2="534.8" stroke="#efefef" stroke-width="0.9" opacity="0.95"/>
<line x1="1072.1" y1="491.3" x2="1072.1" y2="530.3" stroke="#efefef" stroke-width="0.9" opacity="0.7"/>
<polygon points="1087.1,494.1 1100.5,501.8 1100.5,552.8 1087.1,545.1" fill="#121315" stroke="#efefef" stroke-width="1.05"/>
<polygon points="1087.1,494.1 1110.5,480.5 1123.9,488.3 1100.5,501.8" fill="#121315" stroke="#efefef" stroke-width="1.05"/>
<line x1="1088.7" y1="495" x2="1088.7" y2="542.6" stroke="#efefef" stroke-width="0.9" opacity="0.95"/>
<line x1="1085.5" y1="499.1" x2="1085.5" y2="538.1" stroke="#efefef" stroke-width="0.9" opacity="0.7"/>
<polygon points="1100.5,501.8 1114,509.6 1114,560.6 1100.5,552.8" fill="#121315" stroke="#efefef" stroke-width="1.05"/>
<polygon points="1100.5,501.8 1123.9,488.3 1137.4,496.1 1114,509.6" fill="#121315" stroke="#efefef" stroke-width="1.05"/>
<line x1="1102.1" y1="502.7" x2="1102.1" y2="550.3" stroke="#efefef" stroke-width="0.9" opacity="0.95"/>
<line x1="1099" y1="506.8" x2="1099" y2="545.8" stroke="#efefef" stroke-width="0.9" opacity="0.7"/>
<polygon points="1114,509.6 1127.5,517.4 1127.5,568.4 1114,560.6" fill="#121315" stroke="#efefef" stroke-width="1.05"/>
<polygon points="1114,509.6 1137.4,496.1 1150.8,503.8 1127.5,517.4" fill="#121315" stroke="#efefef" stroke-width="1.05"/>
<line x1="1115.6" y1="510.5" x2="1115.6" y2="558.1" stroke="#efefef" stroke-width="0.9" opacity="0.95"/>
<line x1="1112.4" y1="514.6" x2="1112.4" y2="553.6" stroke="#efefef" stroke-width="0.9" opacity="0.7"/>
<polygon points="1127.5,517.4 1140.9,525.1 1140.9,576.1 1127.5,568.4" fill="#121315" stroke="#efefef" stroke-width="1.05"/>
<polygon points="1127.5,517.4 1150.8,503.8 1164.3,511.6 1140.9,525.1" fill="#121315" stroke="#efefef" stroke-width="1.05"/>
<line x1="1129" y1="518.3" x2="1129" y2="565.9" stroke="#efefef" stroke-width="0.9" opacity="0.95"/>
<line x1="1125.9" y1="522.4" x2="1125.9" y2="561.4" stroke="#efefef" stroke-width="0.9" opacity="0.7"/>
<polygon points="1140.9,525.1 1154.3,532.9 1154.3,583.9 1140.9,576.1" fill="#121315" stroke="#efefef" stroke-width="1.05"/>
<polygon points="1140.9,525.1 1164.3,511.6 1177.8,519.4 1154.3,532.9" fill="#121315" stroke="#efefef" stroke-width="1.05"/>
<line x1="1142.5" y1="526" x2="1142.5" y2="573.6" stroke="#efefef" stroke-width="0.9" opacity="0.95"/>
<line x1="1139.3" y1="530.1" x2="1139.3" y2="569.1" stroke="#efefef" stroke-width="0.9" opacity="0.7"/>
<polygon points="1154.3,532.9 1167.8,540.7 1167.8,591.7 1154.3,583.9" fill="#121315" stroke="#efefef" stroke-width="1.05"/>
<polygon points="1154.3,532.9 1177.8,519.4 1191.2,527.1 1167.8,540.7" fill="#121315" stroke="#efefef" stroke-width="1.05"/>
<line x1="1155.9" y1="533.8" x2="1155.9" y2="581.4" stroke="#efefef" stroke-width="0.9" opacity="0.95"/>
<line x1="1152.8" y1="537.9" x2="1152.8" y2="576.9" stroke="#efefef" stroke-width="0.9" opacity="0.7"/>
<polygon points="1167.8,540.7 1181.2,548.4 1181.2,599.4 1167.8,591.7" fill="#121315" stroke="#efefef" stroke-width="1.05"/>
<polygon points="1167.8,540.7 1191.2,527.1 1204.7,534.9 1181.2,548.4" fill="#121315" stroke="#efefef" stroke-width="1.05"/>
<line x1="1169.4" y1="541.6" x2="1169.4" y2="589.2" stroke="#efefef" stroke-width="0.9" opacity="0.95"/>
<line x1="1166.2" y1="545.7" x2="1166.2" y2="584.7" stroke="#efefef" stroke-width="0.9" opacity="0.7"/>
<polygon points="1181.2,548.4 1194.7,556.2 1194.7,607.2 1181.2,599.4" fill="#121315" stroke="#efefef" stroke-width="1.05"/>
<polygon points="1181.2,548.4 1204.7,534.9 1218.1,542.7 1194.7,556.2" fill="#121315" stroke="#efefef" stroke-width="1.05"/>
<line x1="1182.8" y1="549.3" x2="1182.8" y2="596.9" stroke="#efefef" stroke-width="0.9" opacity="0.95"/>
<line x1="1179.7" y1="553.4" x2="1179.7" y2="592.4" stroke="#efefef" stroke-width="0.9" opacity="0.7"/>
<polygon points="1194.7,556.2 1208.2,563.9 1208.2,614.9 1194.7,607.2" fill="#121315" stroke="#efefef" stroke-width="1.05"/>
<polygon points="1194.7,556.2 1218.1,542.7 1231.6,550.4 1208.2,563.9" fill="#121315" stroke="#efefef" stroke-width="1.05"/>
<line x1="1196.3" y1="557.1" x2="1196.3" y2="604.7" stroke="#efefef" stroke-width="0.9" opacity="0.95"/>
<line x1="1193.1" y1="561.2" x2="1193.1" y2="600.2" stroke="#efefef" stroke-width="0.9" opacity="0.7"/>
<polygon points="1208.2,563.9 1221.6,571.7 1221.6,622.7 1208.2,614.9" fill="#121315" stroke="#efefef" stroke-width="1.05"/>
<polygon points="1208.2,563.9 1231.6,550.4 1245,558.2 1221.6,571.7" fill="#121315" stroke="#efefef" stroke-width="1.05"/>
<line x1="1209.8" y1="564.8" x2="1209.8" y2="612.4" stroke="#efefef" stroke-width="0.9" opacity="0.95"/>
<line x1="1206.6" y1="568.9" x2="1206.6" y2="607.9" stroke="#efefef" stroke-width="0.9" opacity="0.7"/>
<polygon points="1221.6,571.7 1235,579.5 1235,630.5 1221.6,622.7" fill="#121315" stroke="#efefef" stroke-width="1.05"/>
<polygon points="1221.6,571.7 1245,558.2 1258.4,566 1235,579.5" fill="#121315" stroke="#efefef" stroke-width="1.05"/>
<line x1="1223.2" y1="572.6" x2="1223.2" y2="620.2" stroke="#efefef" stroke-width="0.9" opacity="0.95"/>
<line x1="1220" y1="576.7" x2="1220" y2="615.7" stroke="#efefef" stroke-width="0.9" opacity="0.7"/>
<polygon points="1235,579.5 1248.5,587.2 1248.5,638.2 1235,630.5" fill="#121315" stroke="#efefef" stroke-width="1.05"/>
<polygon points="1235,579.5 1258.4,566 1271.9,573.7 1248.5,587.2" fill="#121315" stroke="#efefef" stroke-width="1.05"/>
<line x1="1236.6" y1="580.4" x2="1236.6" y2="628" stroke="#efefef" stroke-width="0.9" opacity="0.95"/>
<line x1="1233.5" y1="584.5" x2="1233.5" y2="623.5" stroke="#efefef" stroke-width="0.9" opacity="0.7"/>
<polygon points="1248.5,587.2 1262,595 1262,646 1248.5,638.2" fill="#121315" stroke="#efefef" stroke-width="1.05"/>
<polygon points="1248.5,587.2 1271.9,573.7 1285.3,581.5 1262,595" fill="#121315" stroke="#efefef" stroke-width="1.05"/>
<line x1="1250.1" y1="588.1" x2="1250.1" y2="635.7" stroke="#efefef" stroke-width="0.9" opacity="0.95"/>
<line x1="1246.9" y1="592.2" x2="1246.9" y2="631.2" stroke="#efefef" stroke-width="0.9" opacity="0.7"/>
<polygon points="1262,595 1275.4,602.8 1275.4,653.8 1262,646" fill="#121315" stroke="#efefef" stroke-width="1.05"/>
<polygon points="1275.4,602.8 1298.8,589.3 1298.8,640.3 1275.4,653.8" fill="#121315" stroke="#efefef" stroke-width="1.05"/>
<line x1="1277.2" y1="603.8" x2="1277.2" y2="652.8" stroke="#efefef" stroke-width="0.8" opacity="0.8"/>
<line x1="1297" y1="590.3" x2="1297" y2="641.3" stroke="#efefef" stroke-width="0.8" opacity="0.8"/>
<polygon points="1262,595 1285.3,581.5 1298.8,589.3 1275.4,602.8" fill="#121315" stroke="#efefef" stroke-width="1.05"/>
<line x1="1263.5" y1="595.9" x2="1263.5" y2="643.5" stroke="#efefef" stroke-width="0.9" opacity="0.95"/>
<line x1="1260.4" y1="600" x2="1260.4" y2="639" stroke="#efefef" stroke-width="0.9" opacity="0.7"/>
<line x1="1008.8" y1="497.7" x2="1275.4" y2="651.6" stroke="#efefef" stroke-width="0.8"/>
<polygon points="960.6,473.9 974,481.7 974,532.7 960.6,524.9" fill="#121315" stroke="#efefef" stroke-width="1.05"/>
<polygon points="960.6,473.9 984,460.4 997.5,468.2 974,481.7" fill="#121315" stroke="#efefef" stroke-width="1.05"/>
<line x1="962.7" y1="475.1" x2="962.7" y2="525.9" stroke="#efefef" stroke-width="0.8"/>
<polygon points="974,481.7 987.5,489.4 987.5,540.4 974,532.7" fill="#121315" stroke="#efefef" stroke-width="1.05"/>
<polygon points="974,481.7 997.5,468.2 1010.9,475.9 987.5,489.4" fill="#121315" stroke="#efefef" stroke-width="1.05"/>
<line x1="975.6" y1="482.6" x2="975.6" y2="530.2" stroke="#efefef" stroke-width="0.9" opacity="0.95"/>
<line x1="972.4" y1="486.7" x2="972.4" y2="525.7" stroke="#efefef" stroke-width="0.9" opacity="0.7"/>
<polygon points="987.5,489.4 1001,497.2 1001,548.2 987.5,540.4" fill="#121315" stroke="#efefef" stroke-width="1.05"/>
<polygon points="987.5,489.4 1010.9,475.9 1024.3,483.7 1001,497.2" fill="#121315" stroke="#efefef" stroke-width="1.05"/>
<line x1="989.1" y1="490.3" x2="989.1" y2="537.9" stroke="#efefef" stroke-width="0.9" opacity="0.95"/>
<line x1="985.9" y1="494.4" x2="985.9" y2="533.4" stroke="#efefef" stroke-width="0.9" opacity="0.7"/>
<polygon points="1001,497.2 1014.4,505 1014.4,556 1001,548.2" fill="#121315" stroke="#efefef" stroke-width="1.05"/>
<polygon points="1001,497.2 1024.3,483.7 1037.8,491.5 1014.4,505" fill="#121315" stroke="#efefef" stroke-width="1.05"/>
<line x1="1002.6" y1="498.1" x2="1002.6" y2="545.7" stroke="#efefef" stroke-width="0.9" opacity="0.95"/>
<line x1="999.4" y1="502.2" x2="999.4" y2="541.2" stroke="#efefef" stroke-width="0.9" opacity="0.7"/>
<polygon points="1014.4,505 1027.9,512.7 1027.9,563.7 1014.4,556" fill="#121315" stroke="#efefef" stroke-width="1.05"/>
<polygon points="1014.4,505 1037.8,491.5 1051.2,499.2 1027.9,512.7" fill="#121315" stroke="#efefef" stroke-width="1.05"/>
<line x1="1016" y1="505.9" x2="1016" y2="553.5" stroke="#efefef" stroke-width="0.9" opacity="0.95"/>
<line x1="1012.8" y1="510" x2="1012.8" y2="549" stroke="#efefef" stroke-width="0.9" opacity="0.7"/>
<polygon points="1027.9,512.7 1041.3,520.5 1041.3,571.5 1027.9,563.7" fill="#121315" stroke="#efefef" stroke-width="1.05"/>
<polygon points="1027.9,512.7 1051.2,499.2 1064.7,507 1041.3,520.5" fill="#121315" stroke="#efefef" stroke-width="1.05"/>
<line x1="1029.5" y1="513.6" x2="1029.5" y2="561.2" stroke="#efefef" stroke-width="0.9" opacity="0.95"/>
<line x1="1026.3" y1="517.7" x2="1026.3" y2="556.7" stroke="#efefef" stroke-width="0.9" opacity="0.7"/>
<polygon points="1041.3,520.5 1054.8,528.3 1054.8,579.3 1041.3,571.5" fill="#121315" stroke="#efefef" stroke-width="1.05"/>
<polygon points="1041.3,520.5 1064.7,507 1078.1,514.8 1054.8,528.3" fill="#121315" stroke="#efefef" stroke-width="1.05"/>
<line x1="1042.9" y1="521.4" x2="1042.9" y2="569" stroke="#efefef" stroke-width="0.9" opacity="0.95"/>
<line x1="1039.7" y1="525.5" x2="1039.7" y2="564.5" stroke="#efefef" stroke-width="0.9" opacity="0.7"/>
<polygon points="1054.8,528.3 1068.2,536 1068.2,587 1054.8,579.3" fill="#121315" stroke="#efefef" stroke-width="1.05"/>
<polygon points="1054.8,528.3 1078.1,514.8 1091.6,522.5 1068.2,536" fill="#121315" stroke="#efefef" stroke-width="1.05"/>
<line x1="1056.3" y1="529.2" x2="1056.3" y2="576.8" stroke="#efefef" stroke-width="0.9" opacity="0.95"/>
<line x1="1053.2" y1="533.3" x2="1053.2" y2="572.3" stroke="#efefef" stroke-width="0.9" opacity="0.7"/>
<polygon points="1068.2,536 1081.7,543.8 1081.7,594.8 1068.2,587" fill="#121315" stroke="#efefef" stroke-width="1.05"/>
<polygon points="1068.2,536 1091.6,522.5 1105,530.3 1081.7,543.8" fill="#121315" stroke="#efefef" stroke-width="1.05"/>
<line x1="1069.8" y1="536.9" x2="1069.8" y2="584.5" stroke="#efefef" stroke-width="0.9" opacity="0.95"/>
<line x1="1066.6" y1="541" x2="1066.6" y2="580" stroke="#efefef" stroke-width="0.9" opacity="0.7"/>
<polygon points="1081.7,543.8 1095.1,551.6 1095.1,602.6 1081.7,594.8" fill="#121315" stroke="#efefef" stroke-width="1.05"/>
<polygon points="1081.7,543.8 1105,530.3 1118.5,538.1 1095.1,551.6" fill="#121315" stroke="#efefef" stroke-width="1.05"/>
<line x1="1083.2" y1="544.7" x2="1083.2" y2="592.3" stroke="#efefef" stroke-width="0.9" opacity="0.95"/>
<line x1="1080.1" y1="548.8" x2="1080.1" y2="587.8" stroke="#efefef" stroke-width="0.9" opacity="0.7"/>
<polygon points="1095.1,551.6 1108.5,559.3 1108.5,610.3 1095.1,602.6" fill="#121315" stroke="#efefef" stroke-width="1.05"/>
<polygon points="1095.1,551.6 1118.5,538.1 1132,545.8 1108.5,559.3" fill="#121315" stroke="#efefef" stroke-width="1.05"/>
<line x1="1096.7" y1="552.5" x2="1096.7" y2="600.1" stroke="#efefef" stroke-width="0.9" opacity="0.95"/>
<line x1="1093.5" y1="556.6" x2="1093.5" y2="595.6" stroke="#efefef" stroke-width="0.9" opacity="0.7"/>
<polygon points="1108.5,559.3 1122,567.1 1122,618.1 1108.5,610.3" fill="#121315" stroke="#efefef" stroke-width="1.05"/>
<polygon points="1108.5,559.3 1132,545.8 1145.4,553.6 1122,567.1" fill="#121315" stroke="#efefef" stroke-width="1.05"/>
<line x1="1110.1" y1="560.2" x2="1110.1" y2="607.8" stroke="#efefef" stroke-width="0.9" opacity="0.95"/>
<line x1="1107" y1="564.3" x2="1107" y2="603.3" stroke="#efefef" stroke-width="0.9" opacity="0.7"/>
<polygon points="1122,567.1 1135.5,574.9 1135.5,625.9 1122,618.1" fill="#121315" stroke="#efefef" stroke-width="1.05"/>
<polygon points="1122,567.1 1145.4,553.6 1158.8,561.3 1135.5,574.9" fill="#121315" stroke="#efefef" stroke-width="1.05"/>
<line x1="1123.6" y1="568" x2="1123.6" y2="615.6" stroke="#efefef" stroke-width="0.9" opacity="0.95"/>
<line x1="1120.4" y1="572.1" x2="1120.4" y2="611.1" stroke="#efefef" stroke-width="0.9" opacity="0.7"/>
<polygon points="1135.5,574.9 1148.9,582.6 1148.9,633.6 1135.5,625.9" fill="#121315" stroke="#efefef" stroke-width="1.05"/>
<polygon points="1135.5,574.9 1158.8,561.3 1172.3,569.1 1148.9,582.6" fill="#121315" stroke="#efefef" stroke-width="1.05"/>
<line x1="1137" y1="575.8" x2="1137" y2="623.4" stroke="#efefef" stroke-width="0.9" opacity="0.95"/>
<line x1="1133.9" y1="579.9" x2="1133.9" y2="618.9" stroke="#efefef" stroke-width="0.9" opacity="0.7"/>
<polygon points="1148.9,582.6 1162.4,590.4 1162.4,641.4 1148.9,633.6" fill="#121315" stroke="#efefef" stroke-width="1.05"/>
<polygon points="1148.9,582.6 1172.3,569.1 1185.8,576.9 1162.4,590.4" fill="#121315" stroke="#efefef" stroke-width="1.05"/>
<line x1="1150.5" y1="583.5" x2="1150.5" y2="631.1" stroke="#efefef" stroke-width="0.9" opacity="0.95"/>
<line x1="1147.3" y1="587.6" x2="1147.3" y2="626.6" stroke="#efefef" stroke-width="0.9" opacity="0.7"/>
<polygon points="1162.4,590.4 1175.8,598.2 1175.8,649.2 1162.4,641.4" fill="#121315" stroke="#efefef" stroke-width="1.05"/>
<polygon points="1162.4,590.4 1185.8,576.9 1199.2,584.6 1175.8,598.2" fill="#121315" stroke="#efefef" stroke-width="1.05"/>
<line x1="1164" y1="591.3" x2="1164" y2="638.9" stroke="#efefef" stroke-width="0.9" opacity="0.95"/>
<line x1="1160.8" y1="595.4" x2="1160.8" y2="634.4" stroke="#efefef" stroke-width="0.9" opacity="0.7"/>
<polygon points="1175.8,598.2 1189.2,605.9 1189.2,656.9 1175.8,649.2" fill="#121315" stroke="#efefef" stroke-width="1.05"/>
<polygon points="1175.8,598.2 1199.2,584.6 1212.6,592.4 1189.2,605.9" fill="#121315" stroke="#efefef" stroke-width="1.05"/>
<line x1="1177.4" y1="599.1" x2="1177.4" y2="646.7" stroke="#efefef" stroke-width="0.9" opacity="0.95"/>
<line x1="1174.2" y1="603.2" x2="1174.2" y2="642.2" stroke="#efefef" stroke-width="0.9" opacity="0.7"/>
<polygon points="1189.2,605.9 1202.7,613.7 1202.7,664.7 1189.2,656.9" fill="#121315" stroke="#efefef" stroke-width="1.05"/>
<polygon points="1189.2,605.9 1212.6,592.4 1226.1,600.2 1202.7,613.7" fill="#121315" stroke="#efefef" stroke-width="1.05"/>
<line x1="1190.8" y1="606.8" x2="1190.8" y2="654.4" stroke="#efefef" stroke-width="0.9" opacity="0.95"/>
<line x1="1187.7" y1="610.9" x2="1187.7" y2="649.9" stroke="#efefef" stroke-width="0.9" opacity="0.7"/>
<polygon points="1202.7,613.7 1216.2,621.5 1216.2,672.5 1202.7,664.7" fill="#121315" stroke="#efefef" stroke-width="1.05"/>
<polygon points="1202.7,613.7 1226.1,600.2 1239.5,607.9 1216.2,621.5" fill="#121315" stroke="#efefef" stroke-width="1.05"/>
<line x1="1204.3" y1="614.6" x2="1204.3" y2="662.2" stroke="#efefef" stroke-width="0.9" opacity="0.95"/>
<line x1="1201.1" y1="618.7" x2="1201.1" y2="657.7" stroke="#efefef" stroke-width="0.9" opacity="0.7"/>
<polygon points="1216.2,621.5 1229.6,629.2 1229.6,680.2 1216.2,672.5" fill="#121315" stroke="#efefef" stroke-width="1.05"/>
<polygon points="1229.6,629.2 1253,615.7 1253,666.7 1229.6,680.2" fill="#121315" stroke="#efefef" stroke-width="1.05"/>
<line x1="1231.4" y1="630.2" x2="1231.4" y2="679.2" stroke="#efefef" stroke-width="0.8" opacity="0.8"/>
<line x1="1251.2" y1="616.7" x2="1251.2" y2="667.7" stroke="#efefef" stroke-width="0.8" opacity="0.8"/>
<polygon points="1216.2,621.5 1239.5,607.9 1253,615.7 1229.6,629.2" fill="#121315" stroke="#efefef" stroke-width="1.05"/>
<line x1="1217.8" y1="622.4" x2="1217.8" y2="670" stroke="#efefef" stroke-width="0.9" opacity="0.95"/>
<line x1="1214.6" y1="626.5" x2="1214.6" y2="665.5" stroke="#efefef" stroke-width="0.9" opacity="0.7"/>
<line x1="963" y1="524.1" x2="1229.6" y2="678" stroke="#efefef" stroke-width="0.8"/>
<polygon points="886.1,516.9 899.5,524.7 899.5,575.7 886.1,567.9" fill="#121315" stroke="#efefef" stroke-width="1.05"/>
<polygon points="886.1,516.9 909.5,503.4 923,511.2 899.5,524.7" fill="#121315" stroke="#efefef" stroke-width="1.05"/>
<line x1="888.2" y1="518.1" x2="888.2" y2="568.9" stroke="#efefef" stroke-width="0.8"/>
<polygon points="899.5,524.7 913,532.5 913,583.5 899.5,575.7" fill="#121315" stroke="#efefef" stroke-width="1.05"/>
<polygon points="899.5,524.7 923,511.2 936.4,518.9 913,532.5" fill="#121315" stroke="#efefef" stroke-width="1.05"/>
<line x1="901.1" y1="525.6" x2="901.1" y2="573.2" stroke="#efefef" stroke-width="0.9" opacity="0.95"/>
<line x1="897.9" y1="529.7" x2="897.9" y2="568.7" stroke="#efefef" stroke-width="0.9" opacity="0.7"/>
<polygon points="913,532.5 926.5,540.2 926.5,591.2 913,583.5" fill="#121315" stroke="#efefef" stroke-width="1.05"/>
<polygon points="913,532.5 936.4,518.9 949.8,526.7 926.5,540.2" fill="#121315" stroke="#efefef" stroke-width="1.05"/>
<line x1="914.6" y1="533.4" x2="914.6" y2="581" stroke="#efefef" stroke-width="0.9" opacity="0.95"/>
<line x1="911.4" y1="537.5" x2="911.4" y2="576.5" stroke="#efefef" stroke-width="0.9" opacity="0.7"/>
<polygon points="926.5,540.2 939.9,548 939.9,599 926.5,591.2" fill="#121315" stroke="#efefef" stroke-width="1.05"/>
<polygon points="926.5,540.2 949.8,526.7 963.3,534.5 939.9,548" fill="#121315" stroke="#efefef" stroke-width="1.05"/>
<line x1="928.1" y1="541.1" x2="928.1" y2="588.7" stroke="#efefef" stroke-width="0.9" opacity="0.95"/>
<line x1="924.9" y1="545.2" x2="924.9" y2="584.2" stroke="#efefef" stroke-width="0.9" opacity="0.7"/>
<polygon points="939.9,548 953.4,555.7 953.4,606.7 939.9,599" fill="#121315" stroke="#efefef" stroke-width="1.05"/>
<polygon points="939.9,548 963.3,534.5 976.8,542.2 953.4,555.7" fill="#121315" stroke="#efefef" stroke-width="1.05"/>
<line x1="941.5" y1="548.9" x2="941.5" y2="596.5" stroke="#efefef" stroke-width="0.9" opacity="0.95"/>
<line x1="938.3" y1="553" x2="938.3" y2="592" stroke="#efefef" stroke-width="0.9" opacity="0.7"/>
<polygon points="953.4,555.7 966.8,563.5 966.8,614.5 953.4,606.7" fill="#121315" stroke="#efefef" stroke-width="1.05"/>
<polygon points="953.4,555.7 976.8,542.2 990.2,550 966.8,563.5" fill="#121315" stroke="#efefef" stroke-width="1.05"/>
<line x1="955" y1="556.6" x2="955" y2="604.2" stroke="#efefef" stroke-width="0.9" opacity="0.95"/>
<line x1="951.8" y1="560.7" x2="951.8" y2="599.7" stroke="#efefef" stroke-width="0.9" opacity="0.7"/>
<polygon points="966.8,563.5 980.2,571.3 980.2,622.3 966.8,614.5" fill="#121315" stroke="#efefef" stroke-width="1.05"/>
<polygon points="966.8,563.5 990.2,550 1003.6,557.8 980.2,571.3" fill="#121315" stroke="#efefef" stroke-width="1.05"/>
<line x1="968.4" y1="564.4" x2="968.4" y2="612" stroke="#efefef" stroke-width="0.9" opacity="0.95"/>
<line x1="965.2" y1="568.5" x2="965.2" y2="607.5" stroke="#efefef" stroke-width="0.9" opacity="0.7"/>
<polygon points="980.2,571.3 993.7,579 993.7,630 980.2,622.3" fill="#121315" stroke="#efefef" stroke-width="1.05"/>
<polygon points="980.2,571.3 1003.6,557.8 1017.1,565.5 993.7,579" fill="#121315" stroke="#efefef" stroke-width="1.05"/>
<line x1="981.9" y1="572.2" x2="981.9" y2="619.8" stroke="#efefef" stroke-width="0.9" opacity="0.95"/>
<line x1="978.6" y1="576.3" x2="978.6" y2="615.3" stroke="#efefef" stroke-width="0.9" opacity="0.7"/>
<polygon points="993.7,579 1007.2,586.8 1007.2,637.8 993.7,630" fill="#121315" stroke="#efefef" stroke-width="1.05"/>
<polygon points="993.7,579 1017.1,565.5 1030.5,573.3 1007.2,586.8" fill="#121315" stroke="#efefef" stroke-width="1.05"/>
<line x1="995.3" y1="579.9" x2="995.3" y2="627.5" stroke="#efefef" stroke-width="0.9" opacity="0.95"/>
<line x1="992.1" y1="584" x2="992.1" y2="623" stroke="#efefef" stroke-width="0.9" opacity="0.7"/>
<polygon points="1007.2,586.8 1020.6,594.6 1020.6,645.6 1007.2,637.8" fill="#121315" stroke="#efefef" stroke-width="1.05"/>
<polygon points="1007.2,586.8 1030.5,573.3 1044,581.1 1020.6,594.6" fill="#121315" stroke="#efefef" stroke-width="1.05"/>
<line x1="1008.8" y1="587.7" x2="1008.8" y2="635.3" stroke="#efefef" stroke-width="0.9" opacity="0.95"/>
<line x1="1005.6" y1="591.8" x2="1005.6" y2="630.8" stroke="#efefef" stroke-width="0.9" opacity="0.7"/>
<polygon points="1020.6,594.6 1034,602.3 1034,653.3 1020.6,645.6" fill="#121315" stroke="#efefef" stroke-width="1.05"/>
<polygon points="1020.6,594.6 1044,581.1 1057.5,588.8 1034,602.3" fill="#121315" stroke="#efefef" stroke-width="1.05"/>
<line x1="1022.2" y1="595.5" x2="1022.2" y2="643.1" stroke="#efefef" stroke-width="0.9" opacity="0.95"/>
<line x1="1019" y1="599.6" x2="1019" y2="638.6" stroke="#efefef" stroke-width="0.9" opacity="0.7"/>
<polygon points="1034,602.3 1047.5,610.1 1047.5,661.1 1034,653.3" fill="#121315" stroke="#efefef" stroke-width="1.05"/>
<polygon points="1034,602.3 1057.5,588.8 1070.9,596.6 1047.5,610.1" fill="#121315" stroke="#efefef" stroke-width="1.05"/>
<line x1="1035.6" y1="603.2" x2="1035.6" y2="650.8" stroke="#efefef" stroke-width="0.9" opacity="0.95"/>
<line x1="1032.5" y1="607.3" x2="1032.5" y2="646.3" stroke="#efefef" stroke-width="0.9" opacity="0.7"/>
<polygon points="1047.5,610.1 1061,617.9 1061,668.9 1047.5,661.1" fill="#121315" stroke="#efefef" stroke-width="1.05"/>
<polygon points="1047.5,610.1 1070.9,596.6 1084.3,604.4 1061,617.9" fill="#121315" stroke="#efefef" stroke-width="1.05"/>
<line x1="1049.1" y1="611" x2="1049.1" y2="658.6" stroke="#efefef" stroke-width="0.9" opacity="0.95"/>
<line x1="1045.9" y1="615.1" x2="1045.9" y2="654.1" stroke="#efefef" stroke-width="0.9" opacity="0.7"/>
<polygon points="1061,617.9 1074.4,625.6 1074.4,676.6 1061,668.9" fill="#121315" stroke="#efefef" stroke-width="1.05"/>
<polygon points="1061,617.9 1084.3,604.4 1097.8,612.1 1074.4,625.6" fill="#121315" stroke="#efefef" stroke-width="1.05"/>
<line x1="1062.5" y1="618.8" x2="1062.5" y2="666.4" stroke="#efefef" stroke-width="0.9" opacity="0.95"/>
<line x1="1059.4" y1="622.9" x2="1059.4" y2="661.9" stroke="#efefef" stroke-width="0.9" opacity="0.7"/>
<polygon points="1074.4,625.6 1087.9,633.4 1087.9,684.4 1074.4,676.6" fill="#121315" stroke="#efefef" stroke-width="1.05"/>
<polygon points="1074.4,625.6 1097.8,612.1 1111.2,619.9 1087.9,633.4" fill="#121315" stroke="#efefef" stroke-width="1.05"/>
<line x1="1076" y1="626.5" x2="1076" y2="674.1" stroke="#efefef" stroke-width="0.9" opacity="0.95"/>
<line x1="1072.8" y1="630.6" x2="1072.8" y2="669.6" stroke="#efefef" stroke-width="0.9" opacity="0.7"/>
<polygon points="1087.9,633.4 1101.3,641.2 1101.3,692.2 1087.9,684.4" fill="#121315" stroke="#efefef" stroke-width="1.05"/>
<polygon points="1087.9,633.4 1111.2,619.9 1124.7,627.7 1101.3,641.2" fill="#121315" stroke="#efefef" stroke-width="1.05"/>
<line x1="1089.5" y1="634.3" x2="1089.5" y2="681.9" stroke="#efefef" stroke-width="0.9" opacity="0.95"/>
<line x1="1086.3" y1="638.4" x2="1086.3" y2="677.4" stroke="#efefef" stroke-width="0.9" opacity="0.7"/>
<polygon points="1101.3,641.2 1114.8,648.9 1114.8,699.9 1101.3,692.2" fill="#121315" stroke="#efefef" stroke-width="1.05"/>
<polygon points="1101.3,641.2 1124.7,627.7 1138.1,635.4 1114.8,648.9" fill="#121315" stroke="#efefef" stroke-width="1.05"/>
<line x1="1102.9" y1="642.1" x2="1102.9" y2="689.7" stroke="#efefef" stroke-width="0.9" opacity="0.95"/>
<line x1="1099.7" y1="646.2" x2="1099.7" y2="685.2" stroke="#efefef" stroke-width="0.9" opacity="0.7"/>
<polygon points="1114.8,648.9 1128.2,656.7 1128.2,707.7 1114.8,699.9" fill="#121315" stroke="#efefef" stroke-width="1.05"/>
<polygon points="1114.8,648.9 1138.1,635.4 1151.6,643.2 1128.2,656.7" fill="#121315" stroke="#efefef" stroke-width="1.05"/>
<line x1="1116.3" y1="649.8" x2="1116.3" y2="697.4" stroke="#efefef" stroke-width="0.9" opacity="0.95"/>
<line x1="1113.2" y1="653.9" x2="1113.2" y2="692.9" stroke="#efefef" stroke-width="0.9" opacity="0.7"/>
<polygon points="1128.2,656.7 1141.7,664.5 1141.7,715.5 1128.2,707.7" fill="#121315" stroke="#efefef" stroke-width="1.05"/>
<polygon points="1128.2,656.7 1151.6,643.2 1165,651 1141.7,664.5" fill="#121315" stroke="#efefef" stroke-width="1.05"/>
<line x1="1129.8" y1="657.6" x2="1129.8" y2="705.2" stroke="#efefef" stroke-width="0.9" opacity="0.95"/>
<line x1="1126.6" y1="661.7" x2="1126.6" y2="700.7" stroke="#efefef" stroke-width="0.9" opacity="0.7"/>
<polygon points="1141.7,664.5 1155.1,672.2 1155.1,723.2 1141.7,715.5" fill="#121315" stroke="#efefef" stroke-width="1.05"/>
<polygon points="1155.1,672.2 1178.5,658.7 1178.5,709.7 1155.1,723.2" fill="#121315" stroke="#efefef" stroke-width="1.05"/>
<line x1="1156.9" y1="673.2" x2="1156.9" y2="722.2" stroke="#efefef" stroke-width="0.8" opacity="0.8"/>
<line x1="1176.7" y1="659.7" x2="1176.7" y2="710.7" stroke="#efefef" stroke-width="0.8" opacity="0.8"/>
<polygon points="1141.7,664.5 1165,651 1178.5,658.7 1155.1,672.2" fill="#121315" stroke="#efefef" stroke-width="1.05"/>
<line x1="1143.2" y1="665.4" x2="1143.2" y2="713" stroke="#efefef" stroke-width="0.9" opacity="0.95"/>
<line x1="1140.1" y1="669.5" x2="1140.1" y2="708.5" stroke="#efefef" stroke-width="0.9" opacity="0.7"/>
<line x1="888.5" y1="567.1" x2="1155.1" y2="721" stroke="#efefef" stroke-width="0.8"/>
<polygon points="840.1,543.5 853.5,551.2 853.5,602.2 840.1,594.5" fill="#121315" stroke="#efefef" stroke-width="1.05"/>
<polygon points="840.1,543.5 863.5,530 877,537.7 853.5,551.2" fill="#121315" stroke="#efefef" stroke-width="1.05"/>
<line x1="842.2" y1="544.7" x2="842.2" y2="595.5" stroke="#efefef" stroke-width="0.8"/>
<polygon points="853.5,551.2 867,559 867,610 853.5,602.2" fill="#121315" stroke="#efefef" stroke-width="1.05"/>
<polygon points="853.5,551.2 877,537.7 890.4,545.5 867,559" fill="#121315" stroke="#efefef" stroke-width="1.05"/>
<line x1="855.1" y1="552.1" x2="855.1" y2="599.7" stroke="#efefef" stroke-width="0.9" opacity="0.95"/>
<line x1="851.9" y1="556.2" x2="851.9" y2="595.2" stroke="#efefef" stroke-width="0.9" opacity="0.7"/>
<polygon points="867,559 880.5,566.8 880.5,617.8 867,610" fill="#121315" stroke="#efefef" stroke-width="1.05"/>
<polygon points="867,559 890.4,545.5 903.8,553.3 880.5,566.8" fill="#121315" stroke="#efefef" stroke-width="1.05"/>
<line x1="868.6" y1="559.9" x2="868.6" y2="607.5" stroke="#efefef" stroke-width="0.9" opacity="0.95"/>
<line x1="865.4" y1="564" x2="865.4" y2="603" stroke="#efefef" stroke-width="0.9" opacity="0.7"/>
<polygon points="880.5,566.8 893.9,574.5 893.9,625.5 880.5,617.8" fill="#121315" stroke="#efefef" stroke-width="1.05"/>
<polygon points="880.5,566.8 903.8,553.3 917.3,561 893.9,574.5" fill="#121315" stroke="#efefef" stroke-width="1.05"/>
<line x1="882.1" y1="567.7" x2="882.1" y2="615.3" stroke="#efefef" stroke-width="0.9" opacity="0.95"/>
<line x1="878.9" y1="571.8" x2="878.9" y2="610.8" stroke="#efefef" stroke-width="0.9" opacity="0.7"/>
<polygon points="893.9,574.5 907.4,582.3 907.4,633.3 893.9,625.5" fill="#121315" stroke="#efefef" stroke-width="1.05"/>
<polygon points="893.9,574.5 917.3,561 930.8,568.8 907.4,582.3" fill="#121315" stroke="#efefef" stroke-width="1.05"/>
<line x1="895.5" y1="575.4" x2="895.5" y2="623" stroke="#efefef" stroke-width="0.9" opacity="0.95"/>
<line x1="892.3" y1="579.5" x2="892.3" y2="618.5" stroke="#efefef" stroke-width="0.9" opacity="0.7"/>
<polygon points="907.4,582.3 920.8,590.1 920.8,641.1 907.4,633.3" fill="#121315" stroke="#efefef" stroke-width="1.05"/>
<polygon points="907.4,582.3 930.8,568.8 944.2,576.6 920.8,590.1" fill="#121315" stroke="#efefef" stroke-width="1.05"/>
<line x1="909" y1="583.2" x2="909" y2="630.8" stroke="#efefef" stroke-width="0.9" opacity="0.95"/>
<line x1="905.8" y1="587.3" x2="905.8" y2="626.3" stroke="#efefef" stroke-width="0.9" opacity="0.7"/>
<polygon points="920.8,590.1 934.2,597.8 934.2,648.8 920.8,641.1" fill="#121315" stroke="#efefef" stroke-width="1.05"/>
<polygon points="920.8,590.1 944.2,576.6 957.6,584.3 934.2,597.8" fill="#121315" stroke="#efefef" stroke-width="1.05"/>
<line x1="922.4" y1="591" x2="922.4" y2="638.6" stroke="#efefef" stroke-width="0.9" opacity="0.95"/>
<line x1="919.2" y1="595.1" x2="919.2" y2="634.1" stroke="#efefef" stroke-width="0.9" opacity="0.7"/>
<polygon points="934.2,597.8 947.7,605.6 947.7,656.6 934.2,648.8" fill="#121315" stroke="#efefef" stroke-width="1.05"/>
<polygon points="934.2,597.8 957.6,584.3 971.1,592.1 947.7,605.6" fill="#121315" stroke="#efefef" stroke-width="1.05"/>
<line x1="935.9" y1="598.7" x2="935.9" y2="646.3" stroke="#efefef" stroke-width="0.9" opacity="0.95"/>
<line x1="932.6" y1="602.8" x2="932.6" y2="641.8" stroke="#efefef" stroke-width="0.9" opacity="0.7"/>
<polygon points="947.7,605.6 961.2,613.4 961.2,664.4 947.7,656.6" fill="#121315" stroke="#efefef" stroke-width="1.05"/>
<polygon points="947.7,605.6 971.1,592.1 984.5,599.9 961.2,613.4" fill="#121315" stroke="#efefef" stroke-width="1.05"/>
<line x1="949.3" y1="606.5" x2="949.3" y2="654.1" stroke="#efefef" stroke-width="0.9" opacity="0.95"/>
<line x1="946.1" y1="610.6" x2="946.1" y2="649.6" stroke="#efefef" stroke-width="0.9" opacity="0.7"/>
<polygon points="961.2,613.4 974.6,621.1 974.6,672.1 961.2,664.4" fill="#121315" stroke="#efefef" stroke-width="1.05"/>
<polygon points="961.2,613.4 984.5,599.9 998,607.6 974.6,621.1" fill="#121315" stroke="#efefef" stroke-width="1.05"/>
<line x1="962.8" y1="614.3" x2="962.8" y2="661.9" stroke="#efefef" stroke-width="0.9" opacity="0.95"/>
<line x1="959.6" y1="618.4" x2="959.6" y2="657.4" stroke="#efefef" stroke-width="0.9" opacity="0.7"/>
<polygon points="974.6,621.1 988,628.9 988,679.9 974.6,672.1" fill="#121315" stroke="#efefef" stroke-width="1.05"/>
<polygon points="974.6,621.1 998,607.6 1011.5,615.4 988,628.9" fill="#121315" stroke="#efefef" stroke-width="1.05"/>
<line x1="976.2" y1="622" x2="976.2" y2="669.6" stroke="#efefef" stroke-width="0.9" opacity="0.95"/>
<line x1="973" y1="626.1" x2="973" y2="665.1" stroke="#efefef" stroke-width="0.9" opacity="0.7"/>
<polygon points="988,628.9 1001.5,636.7 1001.5,687.7 988,679.9" fill="#121315" stroke="#efefef" stroke-width="1.05"/>
<polygon points="988,628.9 1011.5,615.4 1024.9,623.2 1001.5,636.7" fill="#121315" stroke="#efefef" stroke-width="1.05"/>
<line x1="989.6" y1="629.8" x2="989.6" y2="677.4" stroke="#efefef" stroke-width="0.9" opacity="0.95"/>
<line x1="986.4" y1="633.9" x2="986.4" y2="672.9" stroke="#efefef" stroke-width="0.9" opacity="0.7"/>
<polygon points="1001.5,636.7 1015,644.4 1015,695.4 1001.5,687.7" fill="#121315" stroke="#efefef" stroke-width="1.05"/>
<polygon points="1001.5,636.7 1024.9,623.2 1038.3,630.9 1015,644.4" fill="#121315" stroke="#efefef" stroke-width="1.05"/>
<line x1="1003.1" y1="637.6" x2="1003.1" y2="685.2" stroke="#efefef" stroke-width="0.9" opacity="0.95"/>
<line x1="999.9" y1="641.7" x2="999.9" y2="680.7" stroke="#efefef" stroke-width="0.9" opacity="0.7"/>
<polygon points="1015,644.4 1028.4,652.2 1028.4,703.2 1015,695.4" fill="#121315" stroke="#efefef" stroke-width="1.05"/>
<polygon points="1015,644.4 1038.3,630.9 1051.8,638.7 1028.4,652.2" fill="#121315" stroke="#efefef" stroke-width="1.05"/>
<line x1="1016.6" y1="645.3" x2="1016.6" y2="692.9" stroke="#efefef" stroke-width="0.9" opacity="0.95"/>
<line x1="1013.4" y1="649.4" x2="1013.4" y2="688.4" stroke="#efefef" stroke-width="0.9" opacity="0.7"/>
<polygon points="1028.4,652.2 1041.9,660 1041.9,711 1028.4,703.2" fill="#121315" stroke="#efefef" stroke-width="1.05"/>
<polygon points="1028.4,652.2 1051.8,638.7 1065.2,646.4 1041.9,660" fill="#121315" stroke="#efefef" stroke-width="1.05"/>
<line x1="1030" y1="653.1" x2="1030" y2="700.7" stroke="#efefef" stroke-width="0.9" opacity="0.95"/>
<line x1="1026.8" y1="657.2" x2="1026.8" y2="696.2" stroke="#efefef" stroke-width="0.9" opacity="0.7"/>
<polygon points="1041.9,660 1055.3,667.7 1055.3,718.7 1041.9,711" fill="#121315" stroke="#efefef" stroke-width="1.05"/>
<polygon points="1041.9,660 1065.2,646.4 1078.7,654.2 1055.3,667.7" fill="#121315" stroke="#efefef" stroke-width="1.05"/>
<line x1="1043.5" y1="660.9" x2="1043.5" y2="708.5" stroke="#efefef" stroke-width="0.9" opacity="0.95"/>
<line x1="1040.3" y1="665" x2="1040.3" y2="704" stroke="#efefef" stroke-width="0.9" opacity="0.7"/>
<polygon points="1055.3,667.7 1068.8,675.5 1068.8,726.5 1055.3,718.7" fill="#121315" stroke="#efefef" stroke-width="1.05"/>
<polygon points="1055.3,667.7 1078.7,654.2 1092.1,662 1068.8,675.5" fill="#121315" stroke="#efefef" stroke-width="1.05"/>
<line x1="1056.9" y1="668.6" x2="1056.9" y2="716.2" stroke="#efefef" stroke-width="0.9" opacity="0.95"/>
<line x1="1053.7" y1="672.7" x2="1053.7" y2="711.7" stroke="#efefef" stroke-width="0.9" opacity="0.7"/>
<polygon points="1068.8,675.5 1082.2,683.3 1082.2,734.3 1068.8,726.5" fill="#121315" stroke="#efefef" stroke-width="1.05"/>
<polygon points="1068.8,675.5 1092.1,662 1105.6,669.7 1082.2,683.3" fill="#121315" stroke="#efefef" stroke-width="1.05"/>
<line x1="1070.3" y1="676.4" x2="1070.3" y2="724" stroke="#efefef" stroke-width="0.9" opacity="0.95"/>
<line x1="1067.2" y1="680.5" x2="1067.2" y2="719.5" stroke="#efefef" stroke-width="0.9" opacity="0.7"/>
<polygon points="1082.2,683.3 1095.7,691 1095.7,742 1082.2,734.3" fill="#121315" stroke="#efefef" stroke-width="1.05"/>
<polygon points="1082.2,683.3 1105.6,669.7 1119,677.5 1095.7,691" fill="#121315" stroke="#efefef" stroke-width="1.05"/>
<line x1="1083.8" y1="684.2" x2="1083.8" y2="731.8" stroke="#efefef" stroke-width="0.9" opacity="0.95"/>
<line x1="1080.6" y1="688.3" x2="1080.6" y2="727.3" stroke="#efefef" stroke-width="0.9" opacity="0.7"/>
<polygon points="1095.7,691 1109.1,698.8 1109.1,749.8 1095.7,742" fill="#121315" stroke="#efefef" stroke-width="1.05"/>
<polygon points="1109.1,698.8 1132.5,685.3 1132.5,736.3 1109.1,749.8" fill="#121315" stroke="#efefef" stroke-width="1.05"/>
<line x1="1110.9" y1="699.8" x2="1110.9" y2="748.8" stroke="#efefef" stroke-width="0.8" opacity="0.8"/>
<line x1="1130.7" y1="686.3" x2="1130.7" y2="737.3" stroke="#efefef" stroke-width="0.8" opacity="0.8"/>
<polygon points="1095.7,691 1119,677.5 1132.5,685.3 1109.1,698.8" fill="#121315" stroke="#efefef" stroke-width="1.05"/>
<line x1="1097.2" y1="691.9" x2="1097.2" y2="739.5" stroke="#efefef" stroke-width="0.9" opacity="0.95"/>
<line x1="1094.1" y1="696" x2="1094.1" y2="735" stroke="#efefef" stroke-width="0.9" opacity="0.7"/>
<line x1="842.5" y1="593.7" x2="1109.1" y2="747.6" stroke="#efefef" stroke-width="0.8"/>
<polygon points="720.8,665.5 720.3,648 722.3,645.6 733.5,632.2 736.7,629.8 977.7,768.9 977.7,813.9" fill="#121315" stroke="none" stroke-width="1.05"/>
<polygon points="765.8,639.7 765.8,610.3 769.3,608 784.3,607.7 1023.3,745.7 1023.3,788.3" fill="#121315" stroke="none" stroke-width="1.05"/>
<line x1="765.8" y1="639.7" x2="1023.3" y2="788.3" stroke="#efefef" stroke-width="0.95"/>
<line x1="765.8" y1="620.7" x2="1023.3" y2="769.3" stroke="#efefef" stroke-width="0.95"/>
<line x1="765.8" y1="610.3" x2="1023.3" y2="758.9" stroke="#efefef" stroke-width="0.95"/>
<line x1="769.3" y1="608" x2="1023.3" y2="754.6" stroke="#efefef" stroke-width="0.95"/>
<line x1="784.3" y1="607.7" x2="1023.3" y2="745.7" stroke="#efefef" stroke-width="0.95"/>
<polyline points="765.8,639.7 765.8,610.3 766.8,608 769.3,608 784.3,607.7" fill="none" stroke="#efefef" stroke-width="0.95"/>
<polyline points="782.7,649.4 782.7,620.4 784.1,618 786.7,617.8 801.1,617.4" fill="none" stroke="#efefef" stroke-width="1.0"/>
<polyline points="834.8,679.5 834.8,650.5 836.2,648.1 838.8,647.9 853.2,647.5" fill="none" stroke="#efefef" stroke-width="1.0"/>
<polyline points="886,709.1 886,680.1 887.4,677.7 890,677.5 904.4,677.1" fill="none" stroke="#efefef" stroke-width="1.0"/>
<polyline points="902.8,718.8 902.8,689.8 904.2,687.4 906.8,687.2 921.2,686.8" fill="none" stroke="#efefef" stroke-width="1.0"/>
<polyline points="919.8,728.6 919.8,699.6 921.2,697.2 923.8,697 938.2,696.6" fill="none" stroke="#efefef" stroke-width="1.0"/>
<polyline points="971.3,758.3 971.3,729.3 972.7,726.9 975.3,726.7 989.7,726.3" fill="none" stroke="#efefef" stroke-width="1.0"/>
<line x1="809" y1="664.6" x2="809" y2="645.6" stroke="#efefef" stroke-width="0.95"/>
<line x1="859.6" y1="693.8" x2="859.6" y2="674.8" stroke="#efefef" stroke-width="0.95"/>
<line x1="944.8" y1="743" x2="944.8" y2="724" stroke="#efefef" stroke-width="0.95"/>
<line x1="996.3" y1="772.7" x2="996.3" y2="753.7" stroke="#efefef" stroke-width="0.95"/>
<line x1="759.7" y1="643" x2="765.8" y2="639.7" stroke="#efefef" stroke-width="0.95"/>
<line x1="762.9" y1="640.9" x2="991.7" y2="773" stroke="#efefef" stroke-width="0.9"/>
<line x1="720.8" y1="665.5" x2="977.7" y2="813.9" stroke="#efefef" stroke-width="0.95"/>
<line x1="721.3" y1="652.7" x2="977.7" y2="800.7" stroke="#efefef" stroke-width="0.95"/>
<line x1="720.3" y1="648" x2="977.7" y2="796.6" stroke="#efefef" stroke-width="0.95"/>
<line x1="722.3" y1="645.6" x2="977.7" y2="793.1" stroke="#efefef" stroke-width="0.95"/>
<line x1="733.5" y1="632.2" x2="977.7" y2="773.2" stroke="#efefef" stroke-width="2.0"/>
<line x1="736.7" y1="629.8" x2="977.7" y2="768.9" stroke="#efefef" stroke-width="0.9"/>
<polyline points="720.8,665.5 720.3,648 722.3,645.6 733.5,632.2 736.7,629.8" fill="none" stroke="#efefef" stroke-width="0.95"/>
<polyline points="733.5,672.9 733.5,653.3 734.3,651.8 745.8,639.3" fill="none" stroke="#efefef" stroke-width="0.95"/>
<polyline points="772.3,695.3 772.3,675.7 773.1,674.2 784.6,661.7" fill="none" stroke="#efefef" stroke-width="0.95"/>
<polyline points="810.9,717.6 810.9,698 811.7,696.5 823.2,684" fill="none" stroke="#efefef" stroke-width="0.95"/>
<polyline points="823.9,725.1 823.9,705.5 824.7,704 836.2,691.5" fill="none" stroke="#efefef" stroke-width="0.95"/>
<polyline points="836.1,732.1 836.1,712.5 836.9,711 848.4,698.5" fill="none" stroke="#efefef" stroke-width="0.95"/>
<polyline points="875.1,754.7 875.1,735.1 875.9,733.5 887.4,721.1" fill="none" stroke="#efefef" stroke-width="0.95"/>
<polyline points="913.9,777.1 913.9,757.5 914.7,755.9 926.2,743.5" fill="none" stroke="#efefef" stroke-width="0.95"/>
<polyline points="926.6,784.4 926.6,764.8 927.4,763.3 938.9,750.8" fill="none" stroke="#efefef" stroke-width="0.95"/>
<polyline points="939.5,791.8 939.5,772.2 940.3,770.7 951.8,758.2" fill="none" stroke="#efefef" stroke-width="0.95"/>
<g transform="translate(759.1 656.7) rotate(28)"><rect x="-6.3" y="-2.7" width="12.6" height="5.4" rx="2.7" fill="#56585a" stroke="#efefef" stroke-width="0.8"/><path d="M-4.4 2.2L-1.6 -2.4M-1.9 2.4L1.3 -2.5M0.9 2.5L4 -2.3M-4.2 -1.6L-2.2 1.8" stroke="#cfcfcf" stroke-width="0.55" fill="none"/></g>
<g transform="translate(797.8 679) rotate(28)"><rect x="-6.3" y="-2.7" width="12.6" height="5.4" rx="2.7" fill="#56585a" stroke="#efefef" stroke-width="0.8"/><path d="M-4.4 2.2L-1.6 -2.4M-1.9 2.4L1.3 -2.5M0.9 2.5L4 -2.3M-4.2 -1.6L-2.2 1.8" stroke="#cfcfcf" stroke-width="0.55" fill="none"/></g>
<g transform="translate(861.8 716) rotate(28)"><rect x="-6.3" y="-2.7" width="12.6" height="5.4" rx="2.7" fill="#56585a" stroke="#efefef" stroke-width="0.8"/><path d="M-4.4 2.2L-1.6 -2.4M-1.9 2.4L1.3 -2.5M0.9 2.5L4 -2.3M-4.2 -1.6L-2.2 1.8" stroke="#cfcfcf" stroke-width="0.55" fill="none"/></g>
<g transform="translate(900.7 738.5) rotate(28)"><rect x="-6.3" y="-2.7" width="12.6" height="5.4" rx="2.7" fill="#56585a" stroke="#efefef" stroke-width="0.8"/><path d="M-4.4 2.2L-1.6 -2.4M-1.9 2.4L1.3 -2.5M0.9 2.5L4 -2.3M-4.2 -1.6L-2.2 1.8" stroke="#cfcfcf" stroke-width="0.55" fill="none"/></g>
<g transform="translate(965.1 775.6) rotate(28)"><rect x="-6.3" y="-2.7" width="12.6" height="5.4" rx="2.7" fill="#56585a" stroke="#efefef" stroke-width="0.8"/><path d="M-4.4 2.2L-1.6 -2.4M-1.9 2.4L1.3 -2.5M0.9 2.5L4 -2.3M-4.2 -1.6L-2.2 1.8" stroke="#cfcfcf" stroke-width="0.55" fill="none"/></g>
<polygon points="1021.8,735.6 1035.2,743.3 1035.2,794.3 1021.8,786.6" fill="#121315" stroke="#efefef" stroke-width="1.05"/>
<polygon points="1035.2,743.3 1057.6,730.4 1057.6,781.4 1035.2,794.3" fill="#121315" stroke="#efefef" stroke-width="1.05"/>
<polygon points="1021.8,735.6 1044.2,722.6 1057.6,730.4 1035.2,743.3" fill="#121315" stroke="#efefef" stroke-width="1.05"/>
<line x1="1023.7" y1="736.7" x2="1023.7" y2="787.6" stroke="#efefef" stroke-width="0.8"/>
<line x1="1033.5" y1="743.8" x2="1033.5" y2="786.3" stroke="#efefef" stroke-width="0.85" opacity="0.6"/>
<line x1="1036.9" y1="743.8" x2="1036.9" y2="788.3" stroke="#efefef" stroke-width="0.85" opacity="0.85"/>
<line x1="1055.8" y1="731.4" x2="1055.8" y2="782.4" stroke="#efefef" stroke-width="0.8" opacity="0.8"/>
<line x1="1023.8" y1="785.5" x2="1035.2" y2="792.1" stroke="#efefef" stroke-width="0.8"/>
<line x1="1035.2" y1="792.1" x2="1057.6" y2="779.2" stroke="#efefef" stroke-width="0.8"/>
<polygon points="977.4,761.1 990.8,768.8 990.8,819.8 977.4,812.1" fill="#121315" stroke="#efefef" stroke-width="1.05"/>
<polygon points="990.8,768.8 1013.2,755.9 1013.2,806.9 990.8,819.8" fill="#121315" stroke="#efefef" stroke-width="1.05"/>
<polygon points="977.4,761.1 999.8,748.1 1013.2,755.9 990.8,768.8" fill="#121315" stroke="#efefef" stroke-width="1.05"/>
<line x1="979.3" y1="762.2" x2="979.3" y2="813.1" stroke="#efefef" stroke-width="0.8"/>
<line x1="989.1" y1="769.3" x2="989.1" y2="811.8" stroke="#efefef" stroke-width="0.85" opacity="0.6"/>
<line x1="992.5" y1="769.3" x2="992.5" y2="813.8" stroke="#efefef" stroke-width="0.85" opacity="0.85"/>
<line x1="1011.4" y1="756.9" x2="1011.4" y2="807.9" stroke="#efefef" stroke-width="0.8" opacity="0.8"/>
<line x1="979.4" y1="811" x2="990.8" y2="817.6" stroke="#efefef" stroke-width="0.8"/>
<line x1="990.8" y1="817.6" x2="1013.2" y2="804.7" stroke="#efefef" stroke-width="0.8"/>
<polygon points="600.5,735 600,717.4 602,715.1 613.2,701.7 616.4,699.2 857.4,838.3 857.4,883.3" fill="#121315" stroke="none" stroke-width="1.05"/>
<polygon points="645.5,709.1 645.5,679.7 649,677.4 664,677.2 903,815.2 903,857.8" fill="#121315" stroke="none" stroke-width="1.05"/>
<line x1="645.5" y1="709.1" x2="903" y2="857.8" stroke="#efefef" stroke-width="0.95"/>
<line x1="645.5" y1="690.1" x2="903" y2="838.8" stroke="#efefef" stroke-width="0.95"/>
<line x1="645.5" y1="679.7" x2="903" y2="828.4" stroke="#efefef" stroke-width="0.95"/>
<line x1="649" y1="677.4" x2="903" y2="824.1" stroke="#efefef" stroke-width="0.95"/>
<line x1="664" y1="677.2" x2="903" y2="815.2" stroke="#efefef" stroke-width="0.95"/>
<polyline points="645.5,709.1 645.5,679.7 646.5,677.5 649,677.4 664,677.2" fill="none" stroke="#efefef" stroke-width="0.95"/>
<polyline points="662.4,718.9 662.4,689.9 663.8,687.5 666.4,687.3 680.8,686.9" fill="none" stroke="#efefef" stroke-width="1.0"/>
<polyline points="714.5,748.9 714.5,719.9 715.9,717.5 718.5,717.4 732.9,717" fill="none" stroke="#efefef" stroke-width="1.0"/>
<polyline points="765.7,778.5 765.7,749.5 767.1,747.1 769.7,746.9 784.1,746.5" fill="none" stroke="#efefef" stroke-width="1.0"/>
<polyline points="782.5,788.2 782.5,759.2 783.9,756.8 786.5,756.6 800.9,756.2" fill="none" stroke="#efefef" stroke-width="1.0"/>
<polyline points="799.5,798 799.5,769 800.9,766.6 803.5,766.4 817.9,766" fill="none" stroke="#efefef" stroke-width="1.0"/>
<polyline points="851,827.7 851,798.7 852.4,796.4 855,796.2 869.4,795.8" fill="none" stroke="#efefef" stroke-width="1.0"/>
<line x1="688.7" y1="734" x2="688.7" y2="715" stroke="#efefef" stroke-width="0.95"/>
<line x1="739.3" y1="763.3" x2="739.3" y2="744.3" stroke="#efefef" stroke-width="0.95"/>
<line x1="824.5" y1="812.4" x2="824.5" y2="793.4" stroke="#efefef" stroke-width="0.95"/>
<line x1="876" y1="842.2" x2="876" y2="823.2" stroke="#efefef" stroke-width="0.95"/>
<line x1="639.4" y1="712.5" x2="645.5" y2="709.1" stroke="#efefef" stroke-width="0.95"/>
<line x1="642.6" y1="710.3" x2="871.4" y2="842.4" stroke="#efefef" stroke-width="0.9"/>
<line x1="600.5" y1="735" x2="857.4" y2="883.3" stroke="#efefef" stroke-width="0.95"/>
<line x1="601" y1="722.1" x2="857.4" y2="870.1" stroke="#efefef" stroke-width="0.95"/>
<line x1="600" y1="717.4" x2="857.4" y2="866" stroke="#efefef" stroke-width="0.95"/>
<line x1="602" y1="715.1" x2="857.4" y2="862.5" stroke="#efefef" stroke-width="0.95"/>
<line x1="613.2" y1="701.7" x2="857.4" y2="842.6" stroke="#efefef" stroke-width="2.0"/>
<line x1="616.4" y1="699.2" x2="857.4" y2="838.3" stroke="#efefef" stroke-width="0.9"/>
<polyline points="600.5,735 600,717.4 602,715.1 613.2,701.7 616.4,699.2" fill="none" stroke="#efefef" stroke-width="0.95"/>
<polyline points="613.2,742.4 613.2,722.8 614,721.2 625.5,708.8" fill="none" stroke="#efefef" stroke-width="0.95"/>
<polyline points="652,764.8 652,745.2 652.8,743.6 664.3,731.2" fill="none" stroke="#efefef" stroke-width="0.95"/>
<polyline points="690.6,787 690.6,767.4 691.4,765.9 702.9,753.4" fill="none" stroke="#efefef" stroke-width="0.95"/>
<polyline points="703.6,794.5 703.6,774.9 704.4,773.4 715.9,760.9" fill="none" stroke="#efefef" stroke-width="0.95"/>
<polyline points="715.8,801.6 715.8,782 716.6,780.5 728.1,768" fill="none" stroke="#efefef" stroke-width="0.95"/>
<polyline points="754.8,824.1 754.8,804.5 755.6,803 767.1,790.5" fill="none" stroke="#efefef" stroke-width="0.95"/>
<polyline points="793.6,846.5 793.6,826.9 794.4,825.4 805.9,812.9" fill="none" stroke="#efefef" stroke-width="0.95"/>
<polyline points="806.3,853.8 806.3,834.2 807.1,832.7 818.6,820.2" fill="none" stroke="#efefef" stroke-width="0.95"/>
<polyline points="819.2,861.3 819.2,841.7 820,840.2 831.5,827.7" fill="none" stroke="#efefef" stroke-width="0.95"/>
<g transform="translate(638.8 726.2) rotate(28)"><rect x="-6.3" y="-2.7" width="12.6" height="5.4" rx="2.7" fill="#56585a" stroke="#efefef" stroke-width="0.8"/><path d="M-4.4 2.2L-1.6 -2.4M-1.9 2.4L1.3 -2.5M0.9 2.5L4 -2.3M-4.2 -1.6L-2.2 1.8" stroke="#cfcfcf" stroke-width="0.55" fill="none"/></g>
<g transform="translate(677.5 748.5) rotate(28)"><rect x="-6.3" y="-2.7" width="12.6" height="5.4" rx="2.7" fill="#56585a" stroke="#efefef" stroke-width="0.8"/><path d="M-4.4 2.2L-1.6 -2.4M-1.9 2.4L1.3 -2.5M0.9 2.5L4 -2.3M-4.2 -1.6L-2.2 1.8" stroke="#cfcfcf" stroke-width="0.55" fill="none"/></g>
<g transform="translate(741.5 785.4) rotate(28)"><rect x="-6.3" y="-2.7" width="12.6" height="5.4" rx="2.7" fill="#56585a" stroke="#efefef" stroke-width="0.8"/><path d="M-4.4 2.2L-1.6 -2.4M-1.9 2.4L1.3 -2.5M0.9 2.5L4 -2.3M-4.2 -1.6L-2.2 1.8" stroke="#cfcfcf" stroke-width="0.55" fill="none"/></g>
<g transform="translate(780.4 807.9) rotate(28)"><rect x="-6.3" y="-2.7" width="12.6" height="5.4" rx="2.7" fill="#56585a" stroke="#efefef" stroke-width="0.8"/><path d="M-4.4 2.2L-1.6 -2.4M-1.9 2.4L1.3 -2.5M0.9 2.5L4 -2.3M-4.2 -1.6L-2.2 1.8" stroke="#cfcfcf" stroke-width="0.55" fill="none"/></g>
<g transform="translate(844.8 845.1) rotate(28)"><rect x="-6.3" y="-2.7" width="12.6" height="5.4" rx="2.7" fill="#56585a" stroke="#efefef" stroke-width="0.8"/><path d="M-4.4 2.2L-1.6 -2.4M-1.9 2.4L1.3 -2.5M0.9 2.5L4 -2.3M-4.2 -1.6L-2.2 1.8" stroke="#cfcfcf" stroke-width="0.55" fill="none"/></g>
<polygon points="901.5,805 914.9,812.8 914.9,863.8 901.5,856" fill="#121315" stroke="#efefef" stroke-width="1.05"/>
<polygon points="914.9,812.8 937.3,799.8 937.3,850.8 914.9,863.8" fill="#121315" stroke="#efefef" stroke-width="1.05"/>
<polygon points="901.5,805 923.9,792.1 937.3,799.8 914.9,812.8" fill="#121315" stroke="#efefef" stroke-width="1.05"/>
<line x1="903.4" y1="806.1" x2="903.4" y2="857" stroke="#efefef" stroke-width="0.8"/>
<line x1="913.2" y1="813.3" x2="913.2" y2="855.8" stroke="#efefef" stroke-width="0.85" opacity="0.6"/>
<line x1="916.6" y1="813.3" x2="916.6" y2="857.8" stroke="#efefef" stroke-width="0.85" opacity="0.85"/>
<line x1="935.5" y1="800.8" x2="935.5" y2="851.8" stroke="#efefef" stroke-width="0.8" opacity="0.8"/>
<line x1="903.5" y1="855" x2="914.9" y2="861.6" stroke="#efefef" stroke-width="0.8"/>
<line x1="914.9" y1="861.6" x2="937.3" y2="848.6" stroke="#efefef" stroke-width="0.8"/>
<polygon points="857.1,830.5 870.5,838.3 870.5,889.3 857.1,881.5" fill="#121315" stroke="#efefef" stroke-width="1.05"/>
<polygon points="870.5,838.3 892.9,825.3 892.9,876.3 870.5,889.3" fill="#121315" stroke="#efefef" stroke-width="1.05"/>
<polygon points="857.1,830.5 879.5,817.6 892.9,825.3 870.5,838.3" fill="#121315" stroke="#efefef" stroke-width="1.05"/>
<line x1="859" y1="831.6" x2="859" y2="882.5" stroke="#efefef" stroke-width="0.8"/>
<line x1="868.8" y1="838.8" x2="868.8" y2="881.3" stroke="#efefef" stroke-width="0.85" opacity="0.6"/>
<line x1="872.2" y1="838.8" x2="872.2" y2="883.3" stroke="#efefef" stroke-width="0.85" opacity="0.85"/>
<line x1="891.1" y1="826.3" x2="891.1" y2="877.3" stroke="#efefef" stroke-width="0.8" opacity="0.8"/>
<line x1="859.1" y1="880.5" x2="870.5" y2="887.1" stroke="#efefef" stroke-width="0.8"/>
<line x1="870.5" y1="887.1" x2="892.9" y2="874.1" stroke="#efefef" stroke-width="0.8"/>
<polygon points="907.6,866.9 1003.4,922.2 1003.4,1017.5 907.6,962.2" fill="#121315" stroke="#efefef" stroke-width="1.05"/>
<polygon points="1003.4,922.2 1646.2,551.1 1646.2,646.4 1003.4,1017.5" fill="#121315" stroke="#efefef" stroke-width="1.05"/>
<polygon points="907.6,866.9 1550.4,495.8 1646.2,551.1 1003.4,922.2" fill="#121315" stroke="#efefef" stroke-width="1.05"/>
<polygon points="985.4,961.4 985.2,958.1 984.9,954.6 984.3,951 983.4,947.4 982.3,943.7 981,940.1 979.5,936.4 977.7,932.8 975.8,929.3 973.7,925.9 971.5,922.6 969.1,919.4 966.6,916.5 963.9,913.7 961.2,911.1 958.5,908.8 955.6,906.8 952.8,905 950,903.5 947.1,902.3 944.4,901.4 941.7,900.8 939,900.6 936.5,900.6 934.1,901 931.9,901.7 929.8,902.7 927.9,904 926.1,905.6 924.6,907.5 923.3,909.7 922.2,912.1 921.3,914.7 920.7,917.6 920.4,920.6 920.2,923.8 920.4,927.1 920.7,930.6 921.3,934.2 922.2,937.8 923.3,941.5 924.6,945.1 926.1,948.8 927.9,952.4 929.8,955.9 931.9,959.3 934.1,962.6 936.5,965.8 939,968.7 941.7,971.5 944.4,974.1 947.1,976.4 950,978.4 952.8,980.2 955.6,981.7 958.5,982.9 961.2,983.8 963.9,984.4 966.6,984.6 969.1,984.6 971.5,984.2 973.7,983.5 975.8,982.5 977.7,981.2 979.5,979.6 981,977.7 982.3,975.5 983.4,973.1 984.3,970.5 984.9,967.6 985.2,964.6" fill="none" stroke="#efefef" stroke-width="0.9"/>
<polygon points="982.8,959.9 982.6,956.8 982.3,953.6 981.7,950.4 981,947 980,943.7 978.7,940.3 977.3,936.9 975.8,933.6 974,930.4 972.1,927.2 970,924.2 967.8,921.3 965.5,918.6 963,916 960.6,913.7 958,911.5 955.4,909.6 952.8,908 950.2,906.6 947.6,905.5 945,904.7 942.6,904.2 940.1,903.9 937.8,904 935.6,904.3 933.5,905 931.6,905.9 929.8,907.1 928.3,908.6 926.9,910.3 925.6,912.3 924.6,914.5 923.9,916.9 923.3,919.6 923,922.4 922.8,925.3 923,928.4 923.3,931.6 923.9,934.8 924.6,938.2 925.6,941.5 926.9,944.9 928.3,948.3 929.8,951.6 931.6,954.8 933.5,958 935.6,961 937.8,963.9 940.1,966.6 942.6,969.2 945,971.5 947.6,973.7 950.2,975.6 952.8,977.2 955.4,978.6 958,979.7 960.6,980.5 963,981 965.5,981.3 967.8,981.2 970,980.9 972.1,980.2 974,979.3 975.8,978.1 977.3,976.6 978.7,974.9 980,972.9 981,970.7 981.7,968.3 982.3,965.6 982.6,962.8" fill="none" stroke="#efefef" stroke-width="0.9"/>
<g transform="matrix(0.866 0.5 0 1 953.2 943.5)" fill="none" stroke="#efefef" stroke-width="0.95"><path d="M-3.50 -1.50C-6.02 -1.57 -12.27 -3.90 -15.60 -4.40C-18.93 -4.90 -22.07 -3.87 -23.50 -4.50C-24.93 -5.13 -24.73 -6.70 -24.20 -8.20C-23.67 -9.70 -22.12 -12.13 -20.30 -13.50C-18.48 -14.87 -15.64 -16.23 -13.30 -16.40C-10.96 -16.57 -8.21 -15.78 -6.25 -14.50C-4.29 -13.22 -2.52 -10.45 -1.56 -8.70C-0.60 -6.95 -0.18 -5.20 -0.50 -4.00C-0.82 -2.80 -0.98 -1.43 -3.50 -1.50Z"/><path d="M2.00 -4.00C2.72 -5.72 6.10 -7.38 7.80 -9.30C9.50 -11.22 11.28 -13.92 12.20 -15.50C13.12 -17.08 12.75 -18.63 13.30 -18.80C13.85 -18.97 14.33 -18.17 15.50 -16.50C16.67 -14.83 19.63 -11.30 20.30 -8.80C20.97 -6.30 20.53 -3.60 19.50 -1.50C18.47 0.60 16.57 2.92 14.10 3.80C11.63 4.67 6.47 4.22 4.70 3.75C2.93 3.28 3.95 2.29 3.50 1.00C3.05 -0.29 1.28 -2.28 2.00 -4.00Z"/><path d="M-3.00 3.00C-4.68 3.30 -6.48 3.30 -7.80 5.30C-9.12 7.30 -11.16 12.20 -10.90 15.00C-10.64 17.80 -8.33 20.55 -6.25 22.10C-4.17 23.65 -0.65 24.28 1.56 24.30C3.77 24.32 6.22 23.38 7.00 22.20C7.78 21.02 7.03 19.28 6.25 17.20C5.47 15.12 2.96 11.98 2.30 9.70C1.64 7.42 3.18 4.62 2.30 3.50C1.42 2.38 -1.32 2.70 -3.00 3.00Z"/><circle r="5.6" fill="#121315"/><circle r="3.9"/></g>
<ellipse cx="475.3" cy="623.2" rx="53.8" ry="31.6" fill="none" stroke="#efefef" stroke-width="0.9"/>
<ellipse cx="475.3" cy="623.2" rx="49.2" ry="28.9" fill="none" stroke="#efefef" stroke-width="0.9"/>
<path d="M456.5 624.4L449 628.7L446.1 627.1L450.8 624.4L443.8 624.4L443.8 622L450.8 622L446.1 619.3L449 617.7L456.5 622L470.4 622L460.6 616.4L449.9 616.4L449.9 614L456.6 614L451.6 611.2L454.4 609.5L459.4 612.4L459.4 608.6L463.5 608.6L463.5 614.7L473.3 620.4L473.3 612.4L465.7 608L468.6 606.4L473.3 609.1L473.3 605L477.3 605L477.3 609.1L482 606.4L484.9 608L477.3 612.4L477.3 620.4L487.1 614.7L487.1 608.6L491.2 608.6L491.2 612.4L496.2 609.5L499 611.2L494 614L500.7 614L500.7 616.4L490 616.4L480.2 622L494.1 622L501.6 617.7L504.5 619.3L499.8 622L506.8 622L506.8 624.4L499.8 624.4L504.5 627.1L501.6 628.7L494.1 624.4L480.2 624.4L490 630L500.7 630L500.7 632.4L494 632.4L499 635.2L496.2 636.9L491.2 634L491.2 637.8L487.1 637.8L487.1 631.7L477.3 626L477.3 634L484.9 638.4L482 640L477.3 637.3L477.3 641.4L473.3 641.4L473.3 637.3L468.6 640L465.7 638.4L473.3 634L473.3 626L463.5 631.7L463.5 637.8L459.4 637.8L459.4 634L454.4 636.9L451.6 635.2L456.6 632.4L449.9 632.4L449.9 630L460.6 630L470.4 624.4L456.5 624.4Z" fill="none" stroke="#efefef" stroke-width="0.9" stroke-linejoin="round"/>
<filter id="nf" x="-5%" y="-20%" width="110%" height="140%"><feOffset dx="0" dy="0"/></filter>
<g font-family="Liberation Mono, monospace" filter="url(#nf)">
<text x="387" y="220.3" font-size="39.8" fill="#c6c6c5" stroke="#c6c6c5" stroke-width="0.3" textLength="347.6" lengthAdjust="spacingAndGlyphs">MEET US AT SC25</text>
<text x="434.8" y="284" font-size="31.2" fill="#a2a2a1" stroke="#a2a2a1" stroke-width="0.3" textLength="181.2" lengthAdjust="spacingAndGlyphs">BOOTH 1427</text>
<text x="1485.6" y="924.7" font-size="40.4" fill="#c6c6c5" stroke="#c6c6c5" stroke-width="0.3" textLength="485.4" lengthAdjust="spacingAndGlyphs">SAINT LOUIS, MISSOURI</text>
<text x="1485.6" y="964.2" font-size="40.4" fill="#c6c6c5" stroke="#c6c6c5" stroke-width="0.3" textLength="463.4" lengthAdjust="spacingAndGlyphs">NOVEMBER 16–21, 2025</text>
</g>
<path d="M387.4 274H406M397.8 265.6L406.2 274L397.8 282.4" fill="none" stroke="#c4c4c3" stroke-width="1.5" stroke-linecap="butt" stroke-linejoin="miter"/>
<!-- logo -->
<g fill="#ffffff" filter="url(#nf)">
<path fill-rule="evenodd" d="M90.2 1216.2H130.3A19.25 19.25 0 0 1 130.3 1254.7H90.2A19.25 19.25 0 0 1 90.2 1216.2ZM90.6 1225.9A9.55 9.55 0 0 0 90.6 1245H114.2L89.2 1226ZM110.4 1225.9L129.8 1244.9A9.55 9.55 0 0 0 130 1225.9Z"/>
<text x="168.5" y="1253" font-family="Liberation Sans, sans-serif" font-weight="bold" font-size="52" letter-spacing="-3.4" textLength="173.2" lengthAdjust="spacing">Submer</text>
</g>
</svg>
</body></html>
